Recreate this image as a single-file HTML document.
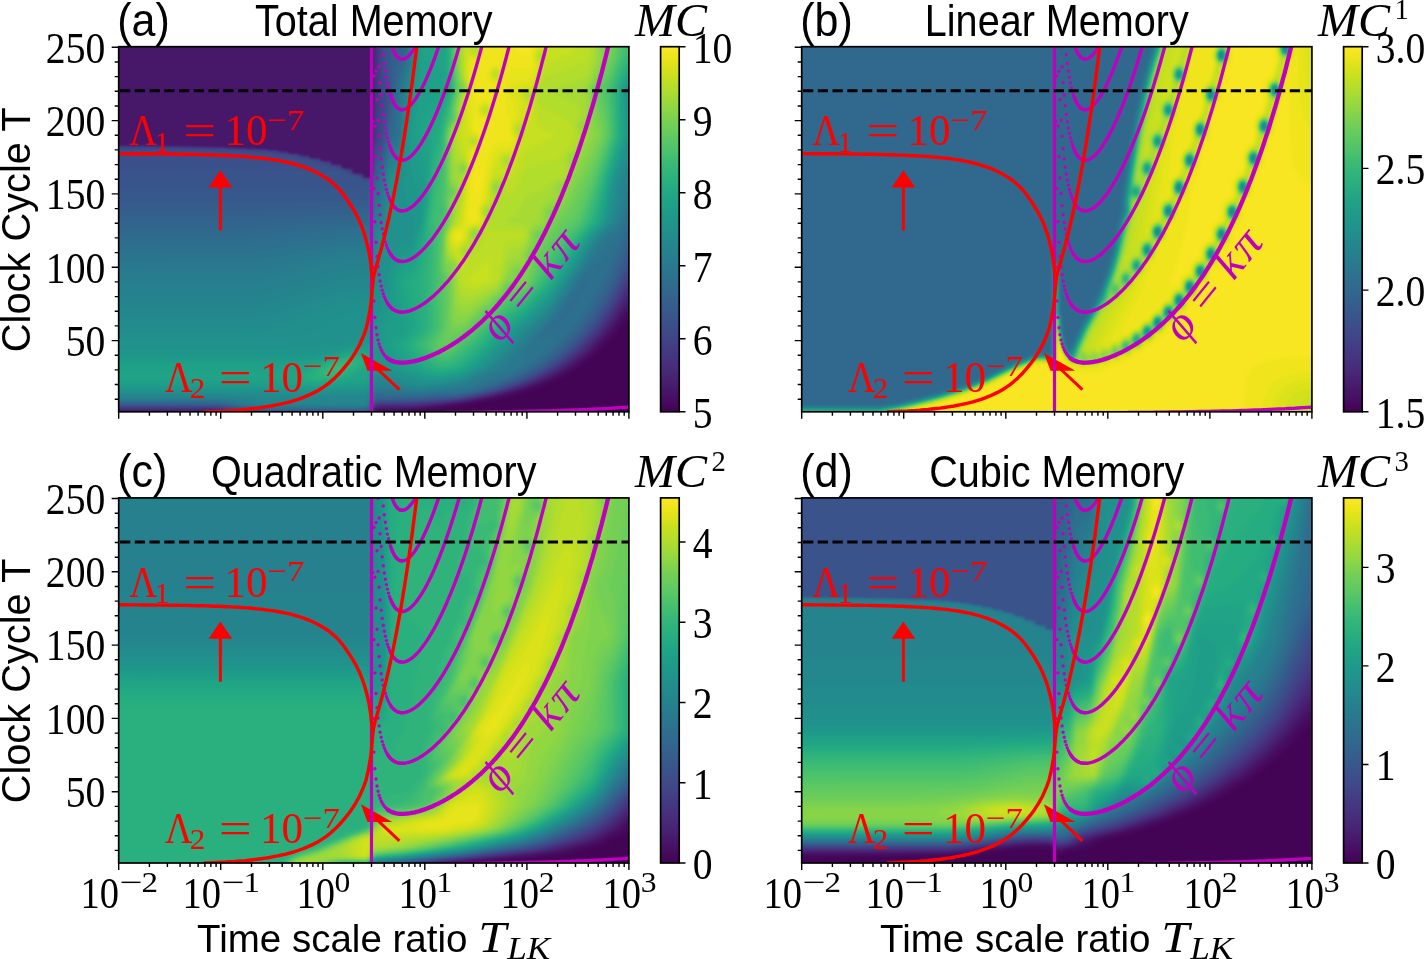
<!DOCTYPE html>
<html lang="en"><head><meta charset="utf-8"><title>Memory capacity maps</title>
<style>html,body{margin:0;padding:0;background:#fff}svg{display:block}</style></head><body>
<svg width="1425" height="959" viewBox="0 0 1425 959">
<defs><linearGradient id="vir" x1="0" y1="0" x2="0" y2="1"><stop offset="0.000" stop-color="#fde725"/><stop offset="0.042" stop-color="#e5e419"/><stop offset="0.083" stop-color="#c8e020"/><stop offset="0.125" stop-color="#addc30"/><stop offset="0.167" stop-color="#90d743"/><stop offset="0.208" stop-color="#75d054"/><stop offset="0.250" stop-color="#5ec962"/><stop offset="0.292" stop-color="#48c16e"/><stop offset="0.333" stop-color="#35b779"/><stop offset="0.375" stop-color="#28ae80"/><stop offset="0.417" stop-color="#20a486"/><stop offset="0.458" stop-color="#1f9a8a"/><stop offset="0.500" stop-color="#21918c"/><stop offset="0.542" stop-color="#24868e"/><stop offset="0.583" stop-color="#287c8e"/><stop offset="0.625" stop-color="#2c728e"/><stop offset="0.667" stop-color="#31688e"/><stop offset="0.708" stop-color="#365d8d"/><stop offset="0.750" stop-color="#3b528b"/><stop offset="0.792" stop-color="#404688"/><stop offset="0.833" stop-color="#443983"/><stop offset="0.875" stop-color="#472d7b"/><stop offset="0.917" stop-color="#481f70"/><stop offset="0.958" stop-color="#471063"/><stop offset="1.000" stop-color="#440154"/></linearGradient>
<clipPath id="axclip"><rect x="0" y="0" width="510.2" height="365.1"/></clipPath>
<filter id="hb" x="-4%" y="-5%" width="108%" height="110%" color-interpolation-filters="sRGB"><feGaussianBlur stdDeviation="2.2"/></filter>
<filter id="sb" x="-4%" y="-8%" width="108%" height="116%" color-interpolation-filters="sRGB"><feGaussianBlur stdDeviation="0.9"/></filter>
<filter id="cm" x="-4%" y="-5%" width="108%" height="110%" color-interpolation-filters="sRGB"><feComponentTransfer><feFuncR type="table" tableValues="0.267 0.277 0.282 0.283 0.279 0.271 0.259 0.245 0.230 0.214 0.199 0.186 0.173 0.161 0.149 0.138 0.128 0.121 0.121 0.132 0.158 0.197 0.246 0.304 0.369 0.440 0.516 0.596 0.678 0.762 0.846 0.926 0.993"/><feFuncG type="table" tableValues="0.005 0.050 0.095 0.136 0.175 0.214 0.252 0.288 0.322 0.356 0.388 0.419 0.449 0.479 0.508 0.537 0.567 0.596 0.626 0.655 0.684 0.712 0.739 0.765 0.789 0.811 0.831 0.849 0.864 0.876 0.887 0.897 0.906"/><feFuncB type="table" tableValues="0.329 0.376 0.417 0.453 0.483 0.507 0.525 0.537 0.546 0.551 0.555 0.557 0.558 0.558 0.557 0.555 0.551 0.544 0.533 0.520 0.502 0.479 0.452 0.420 0.383 0.341 0.294 0.243 0.190 0.137 0.100 0.104 0.144"/></feComponentTransfer></filter>
</defs>
<rect width="1425" height="959" fill="#fff"/>
<g transform="translate(118.7,46.7)">
<g clip-path="url(#axclip)">
<g filter="url(#cm)"><g filter="url(#hb)">
<rect x="-10" y="-10" width="530.2" height="385.1" fill="#020202"/><g transform="scale(.5)">
<path fill="#060606" d="M-20-20l1060 0 0 560-22 0-32 41-35 35-36 27-44 24-52 20-60 16-115 19-68 6 0 22-596 0z"/>
<path fill="#0a0a0a" d="M-20-20l1060 0 0 550-22 0-29 39-29 32-29 26-36 24-32 16-28 11-36 12-48 12-47 9-76 11-60 4-52 1-2 1 0 22-534 0z"/>
<path fill="#0e0e0e" d="M-20-20l1060 0 0 542-22 0-31 44-28 31-28 25-36 25-36 19-32 13-36 11-48 12-107 17-44 4-76 1-4 4 0 22-532 0z"/>
<path fill="#121212" d="M-20 189l102 1 155 3 64 4 32 4 10 3 22 3 8-1 2-2 0-224 665 0 0 535-22 0-39 54-17 20-19 19-21 17-22 16-25 15-24 11-28 11-36 12-36 9-40 8-87 12-52 3-56 1-4 2-2 3 0 22-313 0 0-22-217 0z"/>
<path fill="#161616" d="M1040-20l0 527-22 0-28 43-25 31-28 28-30 24-32 20-36 17-44 16-48 13-59 11-60 7-32 3-80 2-4 1-3 5 0 22-301 0 0-22-27-1-201 0 0-534 185 2 112 4 44 4 80 15 23 6 12 0 1-244z"/>
<path fill="#1a1a1a" d="M1040-20l0 521-22 0-29 45-25 31-29 31-32 25-36 22-36 17-40 14-48 12-43 9-64 8-40 4-80 1-4 2-4 6 0 22-292 0 0-22-31-2-205 0 0-532 225 3 96 5 48 7 60 13 39 12 33 14 14 4 3-56 2-21 2-82 5-83 0-30z"/>
<path fill="#1e1e1e" d="M1040-20l0 514-22 0-30 48-27 35-30 31-32 25-32 20-36 17-44 16-44 11-47 10-60 7-40 4-80 1-4 2-5 7 0 22-284 0 0-22-38-3-205 0 0-530 221 3 80 4 40 4 48 9 48 11 35 12 45 18 3-4 2-48 3-31 6-193z"/>
<path fill="#222222" d="M1040-20l0 508-22 0-31 50-27 35-30 32-35 28-32 20-36 17-44 16-44 11-47 9-56 7-40 4-80 1-4 1-6 9 0 22-276 0 0-22-49-4-201 0 0-528 205 3 88 3 44 4 48 9 48 11 35 12 43 18 9 1 5-61 3-23 6-193z"/>
<path fill="#262626" d="M1040-20l0 501-22 0-29 49-29 39-34 36-35 28-32 20-36 17-44 16-44 11-43 9-52 6-44 4-80 1-4 1-6 10 0 22-270 0 0-22-35-4-221 0 0-527 197 2 92 4 48 4 44 8 52 12 35 12 40 17 12 3 2-3 4-52 4-31 6-193z"/>
<path fill="#2a2a2a" d="M1040-20l0 495-22 0-29 51-29 40-33 35-36 30-36 22-36 17-44 16-44 11-43 9-44 5-48 4-80 1-4 1-7 11 0 22-263 0 0-22-37-4-24-1-201 0 0-525 189 2 96 4 48 3 48 9 52 12 31 10 42 18 14 4 4-4 3-48 5-35 7-193z"/>
<path fill="#2e2e2e" d="M1040-20l0 489-22 0-33 57-28 40-33 35-37 30-35 22-37 17-40 15-48 12-39 8-40 5-48 3-84 2-4 1-8 12 0 22-256 0 0-22-43-5-24-1-201 0 0-523 169 1 108 4 56 4 44 8 52 11 35 12 40 17 16 5 3-1 2-4 3-44 7-39 6-193z"/>
<path fill="#323232" d="M1040-20l0 483-22 0-33 59-30 42-35 37-39 32-33 20-33 16-44 16-45 11-41 8-33 4-52 5-84 1-4 1-9 13 0 22-250 0 0-22-44-5-24-2-205 0 0-522 129 1 120 4 79 4 48 8 52 12 36 12 40 17 16 5 4-1 2-5 3-44 9-39 5-193z"/>
<path fill="#363636" d="M1040-20l0 476-22 0-31 58-30 44-36 39-38 32-32 20-40 20-44 16-45 11-42 8-80 7-84 2-4 1-10 14 0 22-243 0 0-22-50-6-24-1-205 0 0-521 247 4 71 4 53 8 54 12 37 12 42 18 16 5 4-1 2-2 6-56 10-31 2-193z"/>
<path fill="#3a3a3a" d="M1040-20l0 470-22 0-32 60-31 46-18 21-19 20-38 32-32 20-40 20-45 16-45 11-34 7-84 7-84 2-4 1-11 15 0 22-235 0 0-22-57-6-28-2-201 0 0-518 199 2 99 4 42 4 45 8 49 12 36 12 30 14 20 7 4-1 3-4 5-47 4-14 9-18 2-8 5-84-5-35-1-74z"/>
<path fill="#3e3e3e" d="M1040-20l0 463-22 0-35 67-32 47-37 40-38 32-31 20-41 20-45 16-45 11-42 8-68 5-88 2-4 1-12 16 0 22-226 0 0-22-89-9-205 0 0-515 110 0 151 4 65 4 50 8 53 12 36 12 31 14 24 8 4-1 4-5 4-38 4-14 12-23 2-8 6-88-7-55-1-54z"/>
<path fill="#424242" d="M1040-20l0 456-22 0-35 69-32 47-36 41-22 20-21 16-31 20-41 20-45 16-46 11-37 7-68 5-92 3-9 13-5 4 0 22-212 0 0-22-85-9-221-1 0-474 445 0 20 4 47 18 8 2 4-1 5-7 3-29 4-14 12-22 4-19 7-91-8-63-1-42z"/>
<path fill="#464646" d="M1040-20l0 447-22 0-35 71-32 49-20 25-20 21-22 20-21 16-32 20-32 16-30 12-38 12-32 7-32 6-72 5-84 2-4 1-10 14-6 4-203 0-108-11-205 0 0-434 512 0 4-1 5-10 7-8 4-24 4-14 12-21 5-24 8-96-2-39-6-36 0-30z"/>
<path fill="#4a4a4a" d="M1040-20l0 437-22 0-35 73-17 28-19 28-18 23-22 24-23 20-21 16-31 20-32 16-31 12-38 12-32 7-27 5-72 5-84 1-4 1-10 16-6 3-203 0-108-10-205-1 0-404 289 0 227-4 4-7 5-29 5-8 6-29 12-21 7-33 9-92 1-109z"/>
<path fill="#4e4e4e" d="M1040-20l0 426-22 0-35 76-17 28-19 30-20 26-22 23-21 20-26 20-32 20-32 16-30 12-38 12-33 7-25 4-40 1-31 3-81 1-4 2-11 17-5 2-199 0-35-2-73-8-209-1 0-384 281 0 235-8 5-8 6-43 4-8 5-20 12-20 4-18 13-101 4-63 4-16 10-16 1-30z"/>
<path fill="#525252" d="M1040-20l0 413-22 0-39 87-16 28-20 30-20 26-23 25-22 20-25 20-32 20-33 16-30 12-38 12-32 7-16 2-40 1-60 5-56-1-4 2-4 5-8 14-4 2-199 0-36-3-72-9-209 0 0-366 281-1 148-9 87-4 4-4 4-17 6-41 6-19 8-10 4-9 11-57 6-48 8-75 5-20 10-16 3-8 0-30z"/>
<path fill="#565656" d="M1040-20l0 399-22 0-39 89-16 30-20 32-21 28-24 27-26 24-25 20-32 20-33 16-30 12-38 12-22 5-20 3-36 0-32 3-32 1-56 0-4 1-12 21-4 2-199 0-44-3-64-9-209 0 0-349 281 0 148-14 87-4 4-5 4-14 8-55 4-10 8-9 4-9 8-46 11-49 8-84 5-21 14-30 1-34z"/>
<path fill="#5a5a5a" d="M1040-20l0 383-22 0-39 91-24 45-20 31-20 28-28 31-21 20-26 20-32 20-33 16-30 12-38 12-27 5-40 0-36 4-36 1-52-2-4 2-4 6-6 15-6 4-199 0-51-4-37-6-20-2-209 0 0-331 281 0 40-4 112-15 83-6 4-4 4-13 10-59 2-6 8-11 4-9 12-66 10-15 2-24 3-68 7-27 14-37 1-37z"/>
<path fill="#5e5e5e" d="M1040-20l0 369-22 0-39 86-32 59-20 33-40 54-10 12-23 20-26 20-26 16-43 20-33 12-38 10-16 2-28-1-44 4-32 0-52-2-4 2-4 6-7 18-5 3-199 0-44-3-40-7-24-2-209-1 0-313 281-1 40-4 116-18 79-7 4-4 4-13 8-48 4-14 8-13 4-11 12-68 4-7 11-8 2-4 1-92 4-20 14-38 3-13 1-34zM942 462l-3-2-4 1-8 7-31 50-40 48-2 3 1 5 12-2 12-6 32-40 13-20 16-28 3-8z"/>
<path fill="#626262" d="M1040-20l0 356-22 0-14 31-31 44-10 13-28 26-15 20-30 48-22 28-21 23-9 16 0 4 1 2 28-8 4 0 1 2-1 4-7 8-13 12-36 28-20 12-35 16-42 16-30 8-36 0-52 5-84-3-4 1-3 4-8 24-5 2-199 1-36-3-48-9-20-2-213 0 0-297 285 0 44-6 112-21 75-6 4-5 4-13 8-44 4-14 8-15 4-11 12-72 4-8 12-9 4-8 0-91 4-18 16-51 1-40z"/>
<path fill="#666666" d="M1040-20l0 343-22 0-10 28-6 10-8 9-15 9-15 24-29 39-50 76-22 28-19 20-17 23-20 24-2 4 1 4 10 4-6 8-9 8-16 8-68 28-25 8-32 1-56 6-36-1-36-4-16 0-4 2-4 6-8 24-4 3-207-1-28-2-48-10-24-1-209-1 0-278 285-1 48-7 112-23 31-4 40-3 4-5 16-69 12-26 12-78 4-7 12-9 4-7 3-17 0-84 17-60 2-19 1-30z"/>
<path fill="#6a6a6a" d="M1040-20l0 329-22 0-17 46-7 8-22 16-91 139-19 24-23 24-20 25-32 34-5 8-1 8-7 4-36 12-27 12-19 11-8 2-80 7-36-1-36-4-16 0-4 1-4 7-7 24-5 5-211-1-32-4-36-8-24-2-213 0 0-258 285-1 44-7 119-29 32-5 36-2 4-4 16-68 12-28 8-62 4-20 4-8 12-8 4-6 5-27 1-84 14-51 4-28 0-30z"/>
<path fill="#6e6e6e" d="M1040-20l0 310-22 0-4 9-13 48-4 8-30 24-73 115-29 40-31 32-27 31-43 44-72 33-16 5-36 5-36 3-36-2-36-5-16-1-4 3-7 14-5 20-4 4-199 0-34-4-38-10-28-2-217 0 0-234 285-1 44-8 108-31 39-7 40-4 4-3 4-13 8-45 17-43 3-20 3-35 5-30 4-7 12-8 4-5 4-17 2-16 3-88 13-51 3-24 0-34z"/>
<path fill="#727272" d="M1040-20l0 285-22 0-2 3-21 83-4 5-28 23-39 63-54 80-11 14-30 30-44 47-29 28-68 31-40 9-48 4-32-3-36-7-16-1-4 3-9 19-3 17-4 5-203 0-19-2-33-11-36-3-225 0 0-208 265 0 24-1 44-10 115-36 32-7 36-3 4-3 5-15 7-50 16-37 5-28 3-40 4-25 4-8 12-7 4-5 4-14 3-28 4-84 9-35 4-24 2-24 0-30z"/>
<path fill="#767676" d="M1040-20l0 270-22 0-4 4-7 14-10 55-7 28-31 28-36 60-53 79-15 17-32 31-44 47-30 28-61 28-20 6-28 5-32 2-27-1-21-4-28-8-16-2-4 3-8 20-6 10 0 12-2 4-4 1-199-1-20-4-4-4 0-4-36-4-253-1 0-181 265 0 24-2 24-4 28-7 115-39 28-5 32-4 4-2 4-9 3-15 7-56 14-30 4-14 5-63 3-21 4-7 12-7 4-4 5-17 4-31 5-88 7-31 5-32 2-50z"/>
<path fill="#7a7a7a" d="M1040-20l0 255-22 0-4 4-8 15-4 14-10 59-6 24-30 28-33 55-52 77-16 20-38 35-44 47-30 28-59 27-32 8-44 4-20-3-20-4-36-10-16-3-4 3-7 22-5 9-4 3-151 3-124-3-241 0 0-155 265 0 24-1 44-10 123-41 28-6 32-3 4-2 4-7 6-22 8-71 12-24 3-12 3-24 2-51 2-12 4-8 16-9 6-19 4-28 6-95 7-35 4-28 2-54zM296 712l5-4 36-1 72 3 79 1 5 1z"/>
<path fill="#7e7e7e" d="M1040-20l0 239-22 0-8 14-12 35-10 59-6 24-29 28-34 57-56 81-24 24-32 28-44 48-27 24-52 24-32 8-24 3-20 0-12-2-64-17-16-3-4 2-7 25-5 10-4 3-143 2-88-2-285 0 0-128 265 0 40-2 24-4 22-6 57-24 40-14 36-8 36-4 4-3 10-31 4-16 7-75 10-20 2-8 3-86 4-8 17-9 4-8 3-14 8-105 4-32 5-27 4-32 1-50z"/>
<path fill="#818181" d="M1040-20l0 224-22 0-4 7-19 57-16 83-29 28-31 52-56 81-24 24-38 33-38 42-33 30-30 15-20 8-28 6-24 3-16 0-12-2-84-24-4 2-8 29-4 9-4 3-139 3-84-2-293 0 0-105 277 0 40-1 40-3 32-6 22-7 16-7 23-16 22-10 29-6 23 0 4-4 21-56 3-70 3-17 1-4 7-4 3-4-2-103 4-4 12-6 4-4 6-18 6-90 14-108 2-58z"/>
<path fill="#858585" d="M1040-20l0 104-22 0-2 9 2 24 22 0 0 73-22 0-27 78-16 83-29 28-27 47-56 81-27 27-37 32-44 46-32 29-23 12-24 10-28 5-24 1-16-1-74-23-10-4-8-6-4 3-4 12-4 22-4 11-4 4-135 3-84-3-297 0 0-84 289 0 128-2 36-4 64-16 7-3 4-9 9-31 15-44 4-20 4-39 5-20 7-12 8-7 8-4 16-4 4-7 1-6 0-24-15-36-10-43 7-16 2-12 3-74 15-116 3-40 0-34z"/>
<path fill="#898989" d="M1040-20l0 99-22 0-4 6-1 8 1 27 4 26 22 0 0 34-22 0-4 9-26 79-16 83-29 28-24 42-56 81-28 28-42 36-40 43-36 32-22 12-23 8-36 5-24-2-20-5-47-18-9-8-20-27-4-1-9 64-3 9-4 4-52 1-79 4-80-4-305 0 0-67 401 0 32-4 79-20 8-1 8 2 4-2 11-37 14-40 8-60 6-23 6-12 7-9 4-3 12-4 5-4 3-5 7-27 6-12 2-8 1-24-4-22-17-45-3-14-2-50 1-31 7-40 8-79 3-32 0-30z"/>
<path fill="#8d8d8d" d="M1040-20l0 93-22 0-6 12-1 20 4 72-30 91-15 79-5 8-22 21-20 33-52 78-8 10-24 24-28 26-24 19-49 51-27 24-14 8-25 9-32 5-12-1-16-2-16-5-25-10-13-8-12-12-11-16-7-12 0-8 3-23 1-4 9-8 4-12 2-24 2-48 4-20 11-23 8-8 12-6 4-6 8-32 8-18 2-10 3-32 2-47-23-50-4-13-3-24 8-48 11-119 0-34zM507 609l-1 24-4 32-2 8-4 4-48 2-75 5-84-6-309 0 0-53 393 0 28-4 67-18 28-6 4 1 4 3z"/>
<path fill="#919191" d="M1040-20l0 87-22 0-9 18 0 16 3 76-29 91-18 83-24 24-66 102-12 15-51 50-31 24-37 39-39 36-25 12-44 7-28-6-31-13-29-32-5-8-1-8 6-10 8-5 12-5 6-7-2-11-10-25-3-12-4-48 5-17 7-14 5-5 12-8 5-7 11-44 7-20 5-40 4-47 0-29-16-35-9-27 9-79 3-13 0-105zM504 613l0 16-4 35-4 7-40 2-55 7-24 1-20-1-36-7-24-1-317 0 0-38 369-1 40-4 75-21 24-5 8-1 4 2z"/>
<path fill="#959595" d="M1040-20l0 82-22 0-4 5-7 18-1 8 3 84-29 91-18 83-24 24-15 24-36 51-14 24-10 13-52 51-36 28-33 35-43 40-19 9-40 6-28-5-23-10-12-12-21-27-2-5 2-5 16-13 11-13-5-24-13-44-4-28 7-18 16-13 6-8 5-16 7-36 8-28 6-46 4-73-2-24-12-31 2-12 7-24 9-21 10-15 16-16 2-4-4-39-4-10-12-10-20-7-2-9 0-30zM502 617l-1 16-5 28-4 2-95 14-32 0-36-11-28-4-321 0 0-9 341-2 28-5 99-31 28-6 20-1 4 3z"/>
<path fill="#999999" d="M1040-20l0 75-22 0-6 10-8 20-1 8 3 84-29 91-14 67-4 16-24 24-48 71-16 27-8 9-52 51-40 30-34 38-44 40-13 6-40 6-21-4-18-8-17-16-18-28 2-4 21-24 3-7-8-36-16-48-1-8 5-8 16-14 5-9 5-20 13-60 6-51 8-100 0-16-4-15 0-4 10-24 13-22 6-18 10-20-4-39 0-70zM498 617l0 12-2 9-2 3-18 14-16 7-35 8-36 4-20-1-11-4-5-4-1-4 4-4 12-8 25-12 28-10 35-11 20-4 16 0 4 2z"/>
<path fill="#9d9d9d" d="M1040-20l0 69-22 0-7 13-9 23 1 92-27 87-13 61-8 26-23 24-69 102-52 52-28 19-16 13-36 40-39 36-12 7-36 6-16-3-16-6-12-10-10-10-12-16-3-8 4-8 18-20 4-7-9-44-12-44 0-4 13-16 8-23 12-72 7-55 6-76 5-36 4-15 5-12 13-48 9-28-4-55 0-54zM493 621l1 4-2 6-8 10-16 11-20 9-23 6-28 4-20-2-9-4-1-4 3-4 11-8 21-12 21-8 29-9 20-4 12 0 4 1z"/>
<path fill="#a1a1a1" d="M1040-20l0 62-22 0-8 13-11 30 1 92-27 87-14 62-8 25-23 24-39 56-29 43-49 50-28 19-16 13-42 45-37 34-11 6-33 6-10-2-14-6-13-10-11-11-10-13-4-8 5-8 18-20 3-7 0-22-13-70 8-20 6-35 5-40 8-75 1-32 5-36 4-19 8-21 12-63 12-40-4-59 0-50zM485 625l-1 8-8 8-20 12-20 8-19 5-20 1-15-2-3-4 6-8 11-8 14-8 21-8 21-6 16-3 12 1z"/>
<path fill="#a5a5a5" d="M1040-20l0 55-22 0-8 15-14 35 1 92-27 91-15 59-9 24-24 28-35 48-28 43-48 49-40 27-23 23-25 28-39 34-16 8-20 4-8-1-13-5-20-16-13-16-4-8 1-4 21-23 3-8 1-16-7-76 4-28 6-63-1-32 10-94 16-56 2-24 3-20 17-64-4-67 0-42zM477 629l-1 4-8 8-16 9-15 7-14 4-14 2-8 0-9-2 0-4 6-8 12-8 17-8 33-9 12 1z"/>
<path fill="#a9a9a9" d="M1040-20l0 48-22 0-14 26-12 31 3 92-27 87-17 63-9 24-21 24-30 40-37 55-43 45-40 25-26 26-26 28-35 30-17 9-15 5-8 1-12-6-20-16-13-16-2-4 2-4 19-24 3-7 1-20-3-28 0-44 4-95-2-28 6-47 2-32 11-38 7-34 3-35 17-72-4-71 1-38zM467 633l-2 4-12 8-21 9-19 4-6-1-2-4 3-4 11-8 18-8 19-4 6 0z"/>
<path fill="#adadad" d="M1040-20l0 40-22 0-4 4-12 24-13 37 3 92-43 142-11 32-53 64-18 25-18 30-38 40-24 14-16 11-52 52-35 30-20 12-12 5-8-1-8-4-20-15-10-13-1-4 1-4 18-24 2-7 2-24-4-28 2-24-1-16 3-39-1-36 2-28-1-8-4-8 0-7 10-76 6-20 9-52 1-27 19-80-4-71 0-38zM452 637l-3 4-8 4-17 4 0-4 6-4 10-4 8-1z"/>
<path fill="#b1b1b1" d="M1040-20l0 30-22 0-16 29-16 46 4 92-44 138-13 36-55 64-15 21-19 34-29 32-8 6-20 10-16 11-56 55-43 35-12 7-8 2-16-5-20-18-5-8 2-4 17-24 2-7 1-24-3-32 1-20-2-16 4-47 0-40 2-20-4-20 4-16 1-19 15-112 0-23 9-36 10-48-4-71 1-38z"/>
<path fill="#b5b5b5" d="M1011-20l0 30-13 29-17 50 6 68 0 21-44 136-14 37-54 59-16 23-20 37-24 28-8 5-20 10-16 10-20 21-39 37-44 35-8 5-8 2-16-6-16-15-2-5 1-4 17-24 2-7 1-32-4-28 2-119 5-36 6-6 4-10 0-5-5-11-2-7 4-88 4-24-1-19 4-20 7-16 1-16 7-36-4-71 2-38z"/>
<path fill="#b9b9b9" d="M1006-20l-2 34-28 75 5 32 3 56-41 125-19 49-9 11-24 20-20 23-16 26-21 39-19 23-8 6-20 8-16 9-16 19-31 27-13 13-46 38-9 4-16-3-16-17 1-4 17-24 2-7 0-36-4-32 0-16 5-12-4-12-1-8 1-63 2-12 11-40-3-23 2-40-1-48 2-24-1-19 6-24 7-12-1-16 8-40-4-67 1-38z"/>
<path fill="#bdbdbd" d="M1001-20l-1 34-13 38-17 37 7 36 4 52-38 112-24 62-28 22-20 22-27 44-14 31-15 18-4 4-28 11-12 7-20 23-4 3-8 2-12 14-12 3-2 11-5 6-29 21-15 16-8 2-16-4-10-10 1-4 16-24 2-11 1-36-5-36 1-8 5-8 0-4-6-12-2-8 3-71 7-24 3-20-3-23 2-40-1-48 2-24-1-19 5-21 8-11 1-4-2-16 7-40-4-67 2-16 0-22z"/>
<path fill="#c1c1c1" d="M997-20l-1 34-13 36-20 39 11 48 3 40-26 77-28 72-8 16-7 9-25 19-16 19-28 48-13 33-11 14-8 4-28 10-12 9-8 4-4 11-4 5-4 2-12-1-3 2-4 12-3 4-14 4-5 16-2 2-12 3-8 12-12 3-3 11-5 6-4 2-20-6-2-2 0-4 14-27 3-44-4-36 4-20-8-16-1-19 3-56 6-24 3-20-2-23 2-20-2-111 5-20 9-12 1-4-2-16 7-40-5-67 2-16 0-22z"/>
<path fill="#c5c5c5" d="M993-20l0 30-2 9-12 28-17 30-6 8-2 4 5 12 12 41 3 35-23 64-36 79-18 27-18 16-8 10-29 46-7 13-11 34-5 9-8 7-20 5-5-1-7-6-4 1-2 13-6 8-12 4-3 4-3 12-6 2-8 0-4 2-3 4-5 9-4 3-8 3-3 3-6 14-14 6-8 9-12 3-5 5 0 8-3 4-4-2-5-6-1-4 7-23 2-48-1-28 1-16-2-8-7-12-2-8 1-47 1-20 8-28 1-16-1-19 2-17 4-3 4 1 1-1-1-5-4 4-4-6-2-9 1-80-2-19 6-20 9-11 1-5-3-16 8-44-5-63 2-16 0-22z"/>
<path fill="#c9c9c9" d="M989-20l0 30-2 9-28 54-11 12-1 4 7 12 5 24 8 26 3 26-15 41-44 89-18 28-18 21-44 63-11 47-5 8-8 4-12 3-8-1-8-5-4 1-4 6-1 8-3 6-16 9-6 13-14 4-4 3-8 12-11 7-8 13-4 3-8 3-12 8-12 2-2-4-1-11 2-48-1-40-2-9-8-13-2-6 0-35 3-36 7-24 1-16-1-27 4-6 5-2 4-4-1-6-4-2-4-1-4-7-1-99 5-19 10-13-2-24 5-28 5-12-5-16-3-47 2-16 0-22zM822 415l1 4 6 0-2-1-1-3-3-1zM839 373l-2 2-1 4 3 4 4 1 4-5-1-4-3-2z"/>
<path fill="#cdcdcd" d="M984-20l-1 35-20 39-7 15-9 11-3 5 0 4 7 16 4 30 11 42-15 34-54 104-10 15-12 14-16 24-4 4-12-4-4 0-4 3-3 4 0 4 4 16-4 8-9 4-4 3-2 5 0 4 6 12 0 4-8 31-3 4-17 5-16-4-4 1-5 6-6 16-14 8-8 12-15 8-10 12-12 8-9 13-20 7-5 0-4-4-2-12 0-76-3-12-9-19-2-32 2-32 9-28 0-39 2-6 8-5 3-5-2-8-9-4-3-8-1-95 4-16 11-16-1-24 6-30 9-10 0-4-6-4-4-8-3-51 2-12 0-22 290 0 0 22 3 5 2-5 0-22zM795 447l-2 3 1 4 5 3 3-3 0-4-3-4zM863 329l-3 2 3 5 3-1 1-4z"/>
<path fill="#d1d1d1" d="M963-20l1 26 3 6 5 6 0 4-20 47-9 12-1 4 1 8 4 12 4 42 8 30-63 127-9 14-8 9-4 1-12-5-4 2-4 6 1 4 6 12-2 8-7 8-14 2-9 6-2 8-1 16-11 16-2 4 4 20-3 10-4 5-9-8-3-1-5 1-4 4-1 4 1 12-1 4-10 1-4 2-5 5-6 16-4 4-13 7-8 9-16 10-31 31-8 0-8-1-4-4-3-8-1-68-3-16 6-15-3-5-12 1-3-8-1-20 2-32 9-28 2-39 10-12 2-4-2-8-3-4-8-4-1-4-1-95 4-16 10-16-1-20 5-28 4-7 8-9-1-4-8-8-3-7-2-48 1-12 0-22zM688 239l-3 5 3 5 4-2 0-3 0-5z"/>
<path fill="#d5d5d5" d="M960-20l1 26 4 12-1 8-14 39-10 16-1 4 5 20 1 48 5 24-31 61-32 69-8 9-4 2-12 1-8 4-3 8 3 16-3 8-6 4-15 6-4 5-4 25-11 20 1 16-2 7-4 1-8-2-8 2-6 7-5 12-9 11-11 21-13 7-12 11-12 7-27 23-4 2-12-3-4-3-2-4-2-12-2-48-1-16 4-15-1-5-4-3-8-1-4-3-2-24 1-28 10-28 2-35 1-4 8-9 2-7 0-8-3-4-9-8-2-8-1-87 5-16 10-16-1-20 5-28 2-4 8-8 1-4-1-6-8-9-2-4-3-48 2-34zM711 370l-2 5 2 2 5-2 0-4zM751 279l0 5 4 2 4-2 0-4-4-4zM883 279l-2 1-1 4 3 2 4-2-2-4zM688 236l-5 4-1 4 2 5 4 3 4-2 2-6-2-7z"/>
<path fill="#d9d9d9" d="M958-20l0 26 2 16-14 43-10 20 4 24-1 38-4 7-8-2-5 5 1 6 4 2 8-2 4 2 3 12-21 39-2 3-12-1-5 2-1 4 1 4 7 8 0 4-10 32-4 4-4 0-8-3-6 3-2 8 5 12 0 4-8 8-17 10-4 5-3 8 0 12-2 8-4 4-11 5-6 7-6 28-9 16-3 16-3 4-13 2-8 6-24 47-63 41-4 0-12-6-5-11-3-52 4-19-4-8-12-6-4-8-1-14 1-28 4-12 7-12 3-39 8-12 3-8-2-12-12-16-2-83 3-15 11-21 0-24 5-23 8-10 2-7-2-8-6-8-2-7-2-44 1-34zM711 367l-3 3-2 5 2 4 3 2 6-2 2-4-1-4-3-3zM755 274l-4 1-2 5 2 8 4 2 4-2 2-8-2-4zM688 233l-5 3-3 8 2 8 6 3 4-3 3-8-2-8z"/>
<path fill="#dddddd" d="M955-20l-1 42-11 41-11 18-2 8 5 16-1 32-3 8-8 3-4 5-1 4 1 8 4 4 8 5 1 3 0 4-15 27-14 7-5 5 0 8 4 8 1 8-8 24-4 2-12 0-7 6-5 18-16 18-6 11-6 23-4 4-8 3-4 6-4 25-4 13-16 21-16 7-4 5-12 36-8 15-6 5-53 28-4 0-12-5-4-5-3-18-2-28 2-16 0-7-5-7-13-9-3-12 0-16 2-20 11-20 4-36 10-23 0-8-3-20 1-4 7-2 4-3 4-11-1-8-3-4-4-1-10 5-2 4-4 1-4-29 0-39 13-28 0-20 4-24 10-20-1-8-6-8-2-7-2-44 1-34zM708 367l-4 8 4 7 3 2 8-3 3-6-3-6-4-3-4-1zM735 324l-3 3 0 4 3 5 4 0 4-5 0-4-4-3zM755 271l-4 1-2 4-2 8 4 7 4 1 4-1 3-3 2-8-5-8zM775 224l-2 4 2 3 4-3zM692 404l-3 3 2 4 5 0 2-4-2-4z"/>
<path fill="#e1e1e1" d="M950-20l-1 38-10 35-4 6-8 5-54 21-3 4 4 4 41 22 4 6 3 12 0 4-6 12-2 8 1 8 7 12 0 4-12 23-11 9-5 7-1 8 3 8 1 8-6 19-16 2-32 23-24 7-4 3-13 25-7 10-22 14-1 4 43 10 2 6 1 8-3 13-4 8-8 5-20 6-4 5-7 19-8 35-5 9-8 7-40 16-11 3-16-7-4-12-2-24 2-16-1-7-3-6-11-10-5-8-3-28 3-14 10-14 3-8 5-32 7-23 3-28 8-14 1-6-1-8-4-7-4-1-8 1-4-3-4-18-2-27 2-11 10-25 1-20 4-24 10-20-2-8-7-15-1-78zM708 365l-4 5-2 5 2 8 4 5 3 0 8-2 7-7-2-8-3-4-6-3-4-1zM711 2l-2 4 2 5 3-1 1-4zM735 321l-4 3-1 7 1 4 4 4 8 2 5-6 0-8-5-6zM755 268l-4 1-4 5-1 10 2 8 3 3 4 1 8-4 4-8-1-8-7-7zM755 53l-1 1 1 4zM775 221l-4 3-1 4 1 4 4 3 4-1 3-6-3-5zM799 160l-4 5 1 4 3 2 4-1 1-5-1-3zM819 90l-4 2-1 5 1 3 4 2 5-5-1-4zM688 403l-2 4 1 4 5 4 7 0 3-4 1-8-3-3-8 0zM711 186l-2 3 2 2 2-2z"/>
<path fill="#e5e5e5" d="M944-20l-1 34-4 12-4 5-80 32-12 12-6 14 0 12 2 10 4 7 56 29 6 6 8 24-6 17-4 7-13 11-7 12-4 3-24 7-32 6-8 4-6 12-10 26-4 8-4 3-12 3-4 0-4-20-8-9-8-2-4 1-4 5-3 13 1 8 5 12 0 4-7 7-12 6-3 6 1 8 9 12 3 16 6 3 64 4 2 5-2 9-4 2-24 3-8 7-6 19-9 51-5 7-40 15-11 0-16-6-5-8-2-16 0-23-4-8-7-8-8-12-2-7-2-17 2-11 16-21 11-55 4-32 8-20-2-8-5-11-8-5-4-7-6-32 1-8 10-28 4-44 9-20-1-8-7-15-1-78 18 0 0 30 4 4 6-4-1-30zM707 185l-2 4 1 3 5 2 4-2 1-3-2-4-3-2zM731 122l-2 3 0 4 2 2 4 0 2-2 1-4-3-3zM755 50l-5 4 1 5 4 1 4-2 0-4zM775 219l-4 2-3 7 3 8 4 2 6-2 3-8-1-4-3-4zM799 157l-4 4-1 8 5 6 4 0 4-6 0-4-4-7zM815 89l-3 4 1 8 2 3 4 1 4-1 5-7-1-4-4-4-4-1zM839 14l-1 4 1 4 4 2 4-1 2-5-2-4-4-2zM715 362l-7 1-5 4-2 8 0 16-3 4-10 5-4 7 2 8 14 7 4-1 11-14 8-6 10-22 0-4-2-4z"/>
<path fill="#e9e9e9" d="M913-20l0 26-2 4-13 8-31 12-12 4-4 6-20 48-4 0-8-3-4 1-6 7 1 8 5 6 4 1 8-2 4 2 4 44 3 5 29 16 4 4-3 4-7 4-38 16-8 5-8 11-12 33-4 6-4 2-8 2-24-2-4 2-4 6-5 14 2 20-2 8-1 4-10 7-5 8 2 8 6 12-2 12-5 4-16-3-6 3-5 8-3 20-11 8-5 8 0 8 3 3 8 6 2 7-2 18-4 2-3-16-3-8-10-12-8-14-4-14-1-8 5-10 13-14 4-8 8-47 4-36 7-20-1-8-5-12-4-16-9-19-2-12 8-28 4-48 8-20-1-8-6-15 0-78 13 0-1 30 3 4 4 2 4-1 4-5-1-30zM703 185l-2 4 2 3 5 4 4 0 5-4 1-3-3-6-4-2-3 0zM731 119l-4 4 0 6 4 5 4 0 4-5 1-4-5-6zM755 48l-4 1-3 5 0 4 3 4 4 1 4-3 2-6-2-4zM775 217l-7 3-3 8 2 9 4 4 4 2 4-1 7-6 1-8-3-8-5-3zM799 155l-7 6 0 8 3 6 8 4 4-2 3-4 1-8-4-8-4-3zM839 11l-4 7 1 4 7 6 8 2 3-4 0-8-1-4-6-4-4-1zM736 423l3 2 4 14 2 27-3 4-23 8-8-1-9-3-5-4 0-4z"/>
<path fill="#ededed" d="M698-20l2 0 0 26-2-4zM853-20l0 22-14 6-5 6 0 8 9 12 1 4-13 43-4 3-12-1-4 2-4 8 0 8 4 8 4 3 10 1 2 4-4 33-4 6-12-6-4 0-8 4-4 5-1 10 11 16 1 4-7 29-4 4-12-8-4 0-4 1-6 5-4 8-2 12-8 8-9 24-4 36-12 15-1 8 6 16-2 8-6 4-12 0-9 4-4 8-3 16-3 4-9 8-7 11-4-4-8-15-3-12 3-7 17-17 4-8 9-83 7-20-5-24 1-20 3-4 8 3 7-2 4-5 1-3-1-4-3-4-5-2-7 0-8 3-4-1-4-4 5-72 7-24-6-23 2-44 4-8 0 4 8 7 3 1 4-1 4-3 2-8-1-26zM731 117l-5 4-1 8 2 4 4 3 4 0 5-3 2-8-3-5-4-3zM755 46l-4 0-5 8 2 8 3 2 4 1 6-3 2-8-4-7z"/>
<path fill="#f1f1f1" d="M844-20l0 22-10 8-2 8 7 20-8 31-4 9-12 1-4 2-5 4-4 8 4 24-4 24-2 4-10 12-2 8 1 8 5 8 2 8-4 19-5 5-12-3-8 3-8 7-8 11-12 45-3 28-4 8-6 7-3 8 4 24-4 5-15 1-9 6-4 8-4 16-15 14-6-6-7-16 5-8 16-13 5-7 7-83 7-24-4-20 1-17 4-5 11-2 4-4 3-7-3-8-4-3-13-5-6-25-1-43 7-24-5-23 0-28 3-11 4-1 7 3 4-1 7-6 1-8 0-26zM731 115l-4 2-3 4-1 8 4 7 4 2 4 0 7-5 1-8-4-8-4-2zM755 43l-4 1-4 3-3 7 0 4 3 6 4 3 4 0 4-1 4-4 2-8-5-8z"/>
<path fill="#f5f5f5" d="M838-20l0 22-6 8-3 8 6 20-8 25-4 5-16 3-20 7-5 7 1 12 8 8 4 20 0 16-8 16-2 8 7 20-2 11-3 7-3 1-25 3-4 1-4 5-8 23-11 68-10 19-1 8 3 12-1 8-4 3-11 1-12 5-3-5 5-83 2-11 5-17-3-20 2-16 4-3 11-5 3-4 2-7-2-8-7-6-5-2-4-4-7-60 0-12 6-16-6-23 3-32 2-3 11 0 4-2 5-7 2-8-1-26zM731 112l-8 5-2 4 0 8 1 4 5 6 8 2 4-2 4-4 3-10-3-7-4-4zM755 41l-8 2-5 11 0 4 3 7 6 4 4 1 8-5 3-3 1-8-4-9zM688 364l3 3-2 16-9 10-4 1-8-11-1-4 1-4 12-10z"/>
<path fill="#f9f9f9" d="M834-20l0 22-5 8-3 8 3 16-2 7-4 2-36 1-4 2-6 12-4 27 1 28 2 20 7 16-2 16 5 16 0 4-3 4-28 1-4 2-5 8-8 28-12 76-8 23 2 20-5 4-15 1-1-9 4-75 5-24-1-28 4-8 12-8 3-4 1-7-1-8-3-4-10-8-2-4 0-28 2-12-4-28 2-20-6-19 2-24 12-6 9-10 2-8 0-30zM751 36l-9 6-4 8-1 8 3 7 7 8 8 1 8-3 5-6 3-3 0-8-3-8-5-6-8-4zM727 108l-10 9-1 8 1 8 6 8 4 3 12 0 4-3 6-8 0-12-4-8-6-4-4-2zM680 370l4 1 2 4 0 4-6 8-4-1-4-7 1-4z"/>
<path fill="#fdfdfd" d="M798-20l29 0 0 22-8 13-8 0-12-5-1-4zM719 236l2 32-2 14-4 15-1-13 0-16 1-16z"/>
</g>
</g>
<path filter="url(#sb)" fill="#101010" d="M-12,-12L-12,98.7L10.6,98.7L10.6,98.8L21.3,98.8L21.3,98.9L31.9,98.9L31.9,99.1L42.5,99.1L42.5,99.2L53.1,99.2L53.1,99.4L63.8,99.4L63.8,99.6L74.4,99.6L74.4,99.8L85,99.8L85,100.1L95.7,100.1L95.7,100.4L106.3,100.4L106.3,100.8L116.9,100.8L116.9,101.2L127.5,101.2L127.5,101.7L138.2,101.7L138.2,102.4L148.8,102.4L148.8,103.3L159.4,103.3L159.4,104.8L170.1,104.8L170.1,106.7L180.7,106.7L180.7,108.9L191.3,108.9L191.3,111.4L202,111.4L202,114.2L212.6,114.2L212.6,117.8L223.2,117.8L223.2,121.9L233.8,121.9L233.8,126.8L244.5,126.8L244.5,131.1L253.3,131.1L253.3,-12Z"/>
</g>
<path d="M101.7,183.8V139.3" stroke="#f00" stroke-width="3" fill="none"/>
<path d="M101.7,123.6L89.9,140.9L113.5,140.9Z" fill="#f00"/>
<path d="M280.7,343L259.3,322.8" stroke="#f00" stroke-width="3" fill="none"/>
<path d="M242.2,306.3L248.8,324L273.6,324Z" fill="#f00"/>
<path d="M268.7,311.5L270.2,312.6L271.8,313.5L273.3,314.2L274.8,314.7L276.3,315.2L277.8,315.5L279.4,315.7L280.9,315.9L282.4,316L283.9,316L285.4,315.9L286.9,315.8L288.5,315.7L290,315.5L291.5,315.3L293,315L294.5,314.7L296.1,314.4L297.6,314L299.1,313.6L300.6,313.2L302.1,312.7L303.7,312.2L305.2,311.7L306.7,311.2L308.2,310.6L309.7,310L311.2,309.4L312.8,308.8L314.3,308.1L315.8,307.4L317.3,306.7L318.8,306L320.4,305.3L321.9,304.5L323.4,303.7L324.9,302.9L326.4,302L328,301.2L329.5,300.3L331,299.4L332.5,298.5L334,297.5L335.5,296.6L337.1,295.6L338.6,294.6L340.1,293.5L341.6,292.5L343.1,291.4L344.7,290.3L346.2,289.1L347.7,288L349.2,286.8L350.7,285.6L352.3,284.4L353.8,283.1L355.3,281.8L356.8,280.5L358.3,279.2L359.8,277.8L361.4,276.5L362.9,275L364.4,273.6L365.9,272.1L367.4,270.6L369,269.1L370.5,267.6L372,266L373.5,264.4L375,262.7L376.6,261.1L378.1,259.3L379.6,257.6L381.1,255.8L382.6,254L384.1,252.2L385.7,250.3L387.2,248.4L388.7,246.5L390.2,244.5L391.7,242.5L393.3,240.5L394.8,238.4L396.3,236.2L397.8,234.1L399.3,231.9L400.9,229.6L402.4,227.4L403.9,225L405.4,222.7L406.9,220.3L408.4,217.8L410,215.3L411.5,212.8L413,210.2L414.5,207.6L416,204.9L417.6,202.2L419.1,199.4L420.6,196.6L422.1,193.7L423.6,190.8L425.2,187.8L426.7,184.8L428.2,181.7L429.7,178.6L431.2,175.4L432.7,172.2L434.3,168.9L435.8,165.5L437.3,162.1L438.8,158.6L440.3,155.1L441.9,151.5L443.4,147.8L444.9,144.1L446.4,140.3L447.9,136.4L449.5,132.5L451,128.5L452.5,124.4L454,120.3L455.5,116.1L457,111.8L458.6,107.4L460.1,103L461.6,98.5L463.1,93.9L464.6,89.2L466.2,84.5L467.7,79.6L469.2,74.7L470.7,69.7L472.2,64.6L473.8,59.4L475.3,54.1L476.8,48.8L478.3,43.3L479.8,37.8L481.3,32.1L482.9,26.4L484.4,20.5L485.9,14.6L487.4,8.5L488.9,2.4L490.5,-3.9L492,-10.3L493.5,-16.8" stroke="#bf00bf" stroke-width="4.3" stroke-linejoin="round" stroke-linecap="round" fill="none"/>
<path d="M268.7,256.4L270.2,258.6L271.8,260.4L273.3,261.8L274.8,262.9L276.3,263.8L277.8,264.4L279.4,264.9L280.9,265.2L282.4,265.4L283.9,265.4L285.4,265.3L286.9,265.1L288.5,264.8L290,264.4L291.5,264L293,263.4L294.5,262.8L296.1,262.2L297.6,261.4L299.1,260.6L300.6,259.7L302.1,258.8L303.7,257.9L305.2,256.8L306.7,255.8L308.2,254.6L309.7,253.5L311.2,252.2L312.8,251L314.3,249.7L315.8,248.3L317.3,246.9L318.8,245.4L320.4,244L321.9,242.4L323.4,240.8L324.9,239.2L326.4,237.5L328,235.8L329.5,234.1L331,232.3L332.5,230.4L334,228.5L335.5,226.6L337.1,224.6L338.6,222.6L340.1,220.5L341.6,218.4L343.1,216.2L344.7,214L346.2,211.7L347.7,209.4L349.2,207L350.7,204.6L352.3,202.2L353.8,199.7L355.3,197.1L356.8,194.5L358.3,191.8L359.8,189.1L361.4,186.4L362.9,183.5L364.4,180.7L365.9,177.7L367.4,174.7L369,171.7L370.5,168.6L372,165.4L373.5,162.2L375,158.9L376.6,155.5L378.1,152.1L379.6,148.7L381.1,145.1L382.6,141.5L384.1,137.8L385.7,134.1L387.2,130.3L388.7,126.4L390.2,122.5L391.7,118.4L393.3,114.3L394.8,110.2L396.3,105.9L397.8,101.6L399.3,97.2L400.9,92.7L402.4,88.2L403.9,83.5L405.4,78.8L406.9,74L408.4,69.1L410,64.1L411.5,59L413,53.9L414.5,48.6L416,43.3L417.6,37.8L419.1,32.3L420.6,26.6L422.1,20.9L423.6,15L425.2,9.1L426.7,3L428.2,-3.1L429.7,-9.4L431.2,-15.8" stroke="#bf00bf" stroke-width="3.4" stroke-linejoin="round" stroke-linecap="round" fill="none"/>
<path d="M271.7,207.2L273.2,209.4L274.7,211L276.2,212.3L277.7,213.3L279.2,214L280.7,214.5L282.2,214.7L283.7,214.8L285.2,214.7L286.7,214.4L288.2,214L289.7,213.5L291.2,212.8L292.7,212L294.2,211.2L295.7,210.2L297.2,209.1L298.7,207.9L300.2,206.7L301.7,205.4L303.2,203.9L304.7,202.4L306.2,200.9L307.7,199.2L309.2,197.5L310.7,195.7L312.2,193.9L313.7,192L315.2,190L316.7,187.9L318.2,185.8L319.7,183.6L321.2,181.4L322.7,179L324.2,176.7L325.7,174.2L327.2,171.7L328.7,169.1L330.2,166.5L331.7,163.8L333.2,161L334.7,158.2L336.2,155.3L337.7,152.3L339.2,149.3L340.7,146.2L342.2,143L343.7,139.8L345.2,136.5L346.7,133.1L348.2,129.6L349.7,126.1L351.2,122.5L352.7,118.9L354.2,115.1L355.7,111.3L357.2,107.4L358.7,103.5L360.2,99.4L361.7,95.3L363.2,91.1L364.7,86.8L366.2,82.5L367.7,78L369.2,73.5L370.7,68.9L372.2,64.2L373.7,59.4L375.2,54.5L376.7,49.5L378.2,44.5L379.7,39.3L381.2,34L382.7,28.7L384.2,23.3L385.7,17.7L387.2,12.1L388.7,6.3L390.2,0.5L391.7,-5.5L393.2,-11.6" stroke="#bf00bf" stroke-width="3.4" stroke-linejoin="round" stroke-linecap="round" fill="none"/>
<path d="M271.7,154.1L273.2,156.9L274.7,159.2L276.2,160.9L277.7,162.2L279.2,163.2L280.7,163.8L282.2,164.1L283.7,164.2L285.2,164.1L286.7,163.7L288.2,163.2L289.7,162.4L291.2,161.6L292.7,160.5L294.2,159.4L295.7,158.1L297.2,156.6L298.7,155.1L300.2,153.4L301.7,151.6L303.2,149.7L304.7,147.7L306.2,145.7L307.7,143.5L309.2,141.2L310.7,138.8L312.2,136.3L313.7,133.8L315.2,131.1L316.7,128.4L318.2,125.5L319.7,122.6L321.2,119.6L322.7,116.5L324.2,113.4L325.7,110.1L327.2,106.8L328.7,103.3L330.2,99.8L331.7,96.2L333.2,92.5L334.7,88.7L336.2,84.9L337.7,80.9L339.2,76.9L340.7,72.7L342.2,68.5L343.7,64.2L345.2,59.8L346.7,55.3L348.2,50.7L349.7,46L351.2,41.2L352.7,36.3L354.2,31.3L355.7,26.2L357.2,21.1L358.7,15.8L360.2,10.4L361.7,4.9L363.2,-0.7L364.7,-6.4L366.2,-12.2" stroke="#bf00bf" stroke-width="3.4" stroke-linejoin="round" stroke-linecap="round" fill="none"/>
<path d="M271.7,101L273.2,104.5L274.7,107.3L276.2,109.5L277.7,111.1L279.2,112.3L280.7,113.1L282.2,113.5L283.7,113.6L285.2,113.4L286.7,113L288.2,112.3L289.7,111.4L291.2,110.3L292.7,109L294.2,107.6L295.7,105.9L297.2,104.1L298.7,102.2L300.2,100.1L301.7,97.9L303.2,95.5L304.7,93L306.2,90.4L307.7,87.7L309.2,84.8L310.7,81.9L312.2,78.8L313.7,75.6L315.2,72.2L316.7,68.8L318.2,65.3L319.7,61.6L321.2,57.9L322.7,54L324.2,50.1L325.7,46L327.2,41.8L328.7,37.5L330.2,33.1L331.7,28.6L333.2,24L334.7,19.3L336.2,14.4L337.7,9.5L339.2,4.4L340.7,-0.7L342.2,-6L343.7,-11.4L345.2,-16.9" stroke="#bf00bf" stroke-width="3.4" stroke-linejoin="round" stroke-linecap="round" fill="none"/>
<path d="M271.7,47.9L273.2,52.1L274.7,55.5L276.2,58.1L277.7,60L279.2,61.5L280.7,62.4L282.2,62.9L283.7,63L285.2,62.8L286.7,62.3L288.2,61.5L289.7,60.4L291.2,59.1L292.7,57.5L294.2,55.8L295.7,53.8L297.2,51.7L298.7,49.3L300.2,46.8L301.7,44.1L303.2,41.3L304.7,38.3L306.2,35.2L307.7,31.9L309.2,28.5L310.7,24.9L312.2,21.2L313.7,17.4L315.2,13.4L316.7,9.3L318.2,5L319.7,0.7L321.2,-3.8L322.7,-8.5L324.2,-13.2" stroke="#bf00bf" stroke-width="3.4" stroke-linejoin="round" stroke-linecap="round" fill="none"/>
<path d="M271.7,-5.2L273.2,-0.3L274.7,3.6L276.2,6.7L277.7,9L279.2,10.6L280.7,11.7L282.2,12.3L283.7,12.4L285.2,12.2L286.7,11.6L288.2,10.6L289.7,9.4L291.2,7.8L292.7,6L294.2,4L295.7,1.7L297.2,-0.8L298.7,-3.6L300.2,-6.5L301.7,-9.6L303.2,-12.9L304.7,-16.4" stroke="#bf00bf" stroke-width="3.4" stroke-linejoin="round" stroke-linecap="round" fill="none"/>
<path d="M253.1,82.2h0M254.2,220.6h0M255.2,254.2h0M256.2,270.8h0M257.3,281.1h0M258.3,288.1h0M259.4,293.3h0M260.4,297.3h0M261.4,300.4h0M262.5,303h0M263.5,305.1h0M264.6,306.8h0M265.6,308.3h0M266.7,309.5h0M267.7,310.6h0M268.7,311.5h0M269.8,312.3h0M270.8,313h0M271.9,313.5h0M272.9,314h0M273.9,314.4h0M275,314.8h0M276,315.1h0M277.1,315.3h0M278.1,315.5h0M279.1,315.7h0M280.2,315.8h0M281.2,315.9h0M282.3,316h0M283.3,316h0M254.2,74.7h0M255.2,141.7h0M256.2,175h0M257.3,195.6h0M258.3,209.7h0M259.4,220.1h0M260.4,228h0M261.4,234.3h0M262.5,239.4h0M263.5,243.6h0M264.6,247h0M265.6,250h0M266.7,252.5h0M267.7,254.6h0M268.7,256.4h0M269.8,258h0M270.8,259.3h0M271.9,260.5h0M272.9,261.5h0M273.9,262.3h0M275,263h0M276,263.6h0M277.1,264.1h0M278.1,264.5h0M279.1,264.8h0M280.2,265.1h0M281.2,265.2h0M282.3,265.3h0M283.3,265.4h0M255.2,29.3h0M256.2,79.3h0M257.3,110.1h0M258.3,131.3h0M259.4,146.8h0M260.4,158.7h0M261.4,168.1h0M262.5,175.8h0M263.5,182h0M264.6,187.3h0M265.6,191.7h0M266.7,195.4h0M267.7,198.6h0M268.7,201.4h0M269.8,203.7h0M270.8,205.7h0M271.9,207.5h0M272.9,209h0M273.9,210.2h0M275,211.3h0M276,212.2h0M277.1,212.9h0M278.1,213.5h0M279.1,214h0M280.2,214.3h0M281.2,214.6h0M282.3,214.7h0M283.3,214.8h0M256.2,-16.5h0M257.3,24.6h0M258.3,52.8h0M259.4,73.5h0M260.4,89.4h0M261.4,102h0M262.5,112.2h0M263.5,120.5h0M264.6,127.5h0M265.6,133.4h0M266.7,138.4h0M267.7,142.7h0M268.7,146.3h0M269.8,149.4h0M270.8,152.1h0M271.9,154.4h0M272.9,156.4h0M273.9,158.1h0M275,159.5h0M276,160.7h0M277.1,161.7h0M278.1,162.5h0M279.1,163.1h0M280.2,163.6h0M281.2,163.9h0M282.3,164.1h0M283.3,164.2h0M259.4,0.3h0M260.4,20.1h0M261.4,35.9h0M262.5,48.6h0M263.5,59h0M264.6,67.8h0M265.6,75.1h0M266.7,81.4h0M267.7,86.7h0M268.7,91.2h0M269.8,95.2h0M270.8,98.5h0M271.9,101.4h0M272.9,103.9h0M273.9,106h0M275,107.8h0M276,109.3h0M277.1,110.5h0M278.1,111.5h0M279.1,112.3h0M280.2,112.9h0M281.2,113.3h0M282.3,113.5h0M283.3,113.6h0M262.5,-15h0M263.5,-2.5h0M264.6,8h0M265.6,16.8h0M266.7,24.3h0M267.7,30.7h0M268.7,36.2h0M269.8,40.9h0M270.8,44.9h0M271.9,48.4h0M272.9,51.3h0M273.9,53.9h0M275,56h0M276,57.8h0M277.1,59.3h0M278.1,60.5h0M279.1,61.4h0M280.2,62.1h0M281.2,62.6h0M282.3,62.9h0M283.3,63h0M269.8,-13.4h0M270.8,-8.7h0M271.9,-4.7h0M272.9,-1.2h0M273.9,1.7h0M275,4.2h0M276,6.3h0M277.1,8h0M278.1,9.4h0M279.1,10.5h0M280.2,11.4h0M281.2,12h0M282.3,12.3h0M283.3,12.4h0" stroke="#bf00bf" stroke-width="3.4" stroke-linecap="round" fill="none"/>
<path d="M252.8,0V365.1" stroke="#bf00bf" stroke-width="3.2" fill="none"/>
<path d="M326.5,365.8L331.2,365.7L335.9,365.7L340.7,365.7L345.4,365.6L350.1,365.6L354.8,365.5L359.5,365.4L364.2,365.4L368.9,365.3L373.6,365.2L378.3,365.2L383,365.1L387.8,365L392.5,364.9L397.2,364.8L401.9,364.7L406.6,364.7L411.3,364.5L416,364.4L420.7,364.3L425.4,364.2L430.1,364.1L434.8,363.9L439.6,363.8L444.3,363.6L449,363.5L453.7,363.3L458.4,363.1L463.1,362.9L467.8,362.7L472.5,362.5L477.2,362.3L481.9,362.1L486.7,361.8L491.4,361.6L496.1,361.3L500.8,361L505.5,360.7L510.2,360.4" stroke="#bf00bf" stroke-width="3.3" fill="none"/>
<path d="M0,106.9L4.1,106.9L8.3,106.9L12.4,107L16.6,107L20.7,107L24.9,107.1L29,107.1L33.2,107.1L37.3,107.2L41.5,107.2L45.6,107.2L49.8,107.3L53.9,107.3L58.1,107.4L62.2,107.5L66.4,107.5L70.5,107.6L74.7,107.7L78.8,107.8L83,107.9L87.1,108L91.3,108.1L95.4,108.3L99.6,108.4L103.7,108.6L107.9,108.8L112,109L116.1,109.2L120.3,109.4L124.4,109.7L128.6,110L132.7,110.4L136.8,110.8L141,111.2L145.1,111.6L149.2,112.2L153.3,112.7L157.4,113.4L161.5,114.1L165.6,114.9L169.6,115.8L173.7,116.8L177.7,117.9L181.6,119.1L185.6,120.5L189.4,122L193.3,123.6L197,125.3L200.7,127.3L204.3,129.4L207.8,131.6L211.2,134L214.4,136.7L217.5,139.5L220.4,142.5L223,145.6L225.5,148.9L227.9,152.3L230.3,155.8L232.5,159.3L234.7,162.8L236.8,166.4L238.7,170.1L240.5,173.8L242.1,177.6L243.6,181.5L245,185.4L246.3,189.4L247.4,193.4L248.5,197.4L249.4,201.4L250.3,205.5L251,209.6L251.6,213.7L252.2,217.8L252.6,221.9L253.1,226L253.5,230.2L253.9,234.3" stroke="#ff0000" stroke-width="3.4" fill="none" stroke-linejoin="round"/>
<path d="M85.2,365.1L89.3,365L93.4,364.8L97.5,364.6L101.6,364.4L105.7,364.2L109.8,363.9L113.9,363.7L118,363.4L122.1,363L126.2,362.7L130.2,362.3L134.3,361.8L138.4,361.4L142.5,360.8L146.6,360.2L150.7,359.6L154.8,358.8L158.9,358L163,357.1L167.1,356.2L171.2,355.1L175.3,353.9L179.4,352.6L183.5,351.1L187.6,349.5L191.7,347.7L195.8,345.7L199.9,343.5L203.9,341L208,338.2L212.1,334.9L216.2,331.2L220.3,327.1L224.4,322.5L228.5,317.5L232.6,312L236.7,305.7L240.8,298.3L244.9,289L245.9,286.3L246.2,285.4L246.5,284.4L246.9,283.5L247.2,282.5L247.5,281.4L247.8,280.3L248.1,279L248.4,277.7L248.7,276.3L249.1,274.9L249.4,273.4L249.7,271.9L250,270.3L250.3,268.7L250.6,267L250.9,265.2L251.3,263.3L251.6,261.3L251.9,259.1L252.2,256.8L252.5,254.2L252.8,250.9L253.1,247L253.5,243L253.8,239.5L254.1,236.7L254.4,234L254.7,231.6L255,229.7L255.3,228.2L255.6,226.8L256,225.4L256.3,224.1L256.6,222.9L256.9,221.7L257.2,220.7L257.5,219.6L257.8,218.6L258.2,217.5L259.2,214L263,200.4L266.8,185.5L270.6,169.3L274.4,151.6L278.2,132.3L282,111.3L285.8,88.4L289.6,63.5L293.4,36.4L297.2,6.8L301,-25.5" stroke="#ff0000" stroke-width="3.4" fill="none" stroke-linejoin="round"/>
<path d="M0,44H510.2" stroke="#000" stroke-width="3" stroke-dasharray="10.3 4.45" stroke-dashoffset="-1.3" fill="none"/>
</g>
<text transform="translate(10.8,98.6) scale(1.000,1.100)" font-family="'Liberation Serif','DejaVu Serif',serif" font-size="40" fill="#f00" textLength="27.5" lengthAdjust="spacingAndGlyphs" >Λ</text>
<text transform="translate(35.5,105) scale(1.150,1.100)" font-family="'Liberation Serif','DejaVu Serif',serif" font-size="27" fill="#f00" >1</text>
<text transform="translate(64.5,98.6) scale(1.000,1.100)" font-family="'Liberation Serif','DejaVu Serif',serif" font-size="40" fill="#f00" textLength="33" lengthAdjust="spacingAndGlyphs" >=</text>
<text transform="translate(105.7,98.6) scale(1.000,1.100)" font-family="'Liberation Serif','DejaVu Serif',serif" font-size="40" fill="#f00" textLength="43" lengthAdjust="spacingAndGlyphs" >10</text>
<text transform="translate(148.7,83.3) scale(1.000,1.100)" font-family="'Liberation Serif','DejaVu Serif',serif" font-size="27" fill="#f00" textLength="37" lengthAdjust="spacingAndGlyphs" >−7</text>
<text transform="translate(46.3,344.9) scale(1.000,1.100)" font-family="'Liberation Serif','DejaVu Serif',serif" font-size="40" fill="#f00" textLength="27.5" lengthAdjust="spacingAndGlyphs" >Λ</text>
<text transform="translate(71,351.3) scale(1.150,1.100)" font-family="'Liberation Serif','DejaVu Serif',serif" font-size="27" fill="#f00" >2</text>
<text transform="translate(100,344.9) scale(1.000,1.100)" font-family="'Liberation Serif','DejaVu Serif',serif" font-size="40" fill="#f00" textLength="33" lengthAdjust="spacingAndGlyphs" >=</text>
<text transform="translate(141.2,344.9) scale(1.000,1.100)" font-family="'Liberation Serif','DejaVu Serif',serif" font-size="40" fill="#f00" textLength="43" lengthAdjust="spacingAndGlyphs" >10</text>
<text transform="translate(184.2,329.6) scale(1.000,1.100)" font-family="'Liberation Serif','DejaVu Serif',serif" font-size="27" fill="#f00" textLength="37" lengthAdjust="spacingAndGlyphs" >−7</text>
<g transform="translate(381.8,296.7) rotate(-51)">
<text transform="translate(0,0) scale(1.000,1.100)" font-family="'Liberation Serif','DejaVu Serif',serif" font-size="42" fill="#bf00bf" font-style="italic" textLength="24" lengthAdjust="spacingAndGlyphs" >ϕ</text>
<text transform="translate(36.5,0) scale(1.000,1.100)" font-family="'Liberation Serif','DejaVu Serif',serif" font-size="40" fill="#bf00bf" textLength="30" lengthAdjust="spacingAndGlyphs" >=</text>
<text transform="translate(80,0) scale(1.000,1.100)" font-family="'Liberation Serif','DejaVu Serif',serif" font-size="42" fill="#bf00bf" font-style="italic" textLength="21" lengthAdjust="spacingAndGlyphs" >k</text>
<text transform="translate(104,0) scale(1.000,1.100)" font-family="'Liberation Serif','DejaVu Serif',serif" font-size="42" fill="#bf00bf" font-style="italic" textLength="25" lengthAdjust="spacingAndGlyphs" >π</text>
</g>
<rect x="0" y="0" width="510.2" height="365.1" fill="none" stroke="#000" stroke-width="1.7"/>
<path d="M0,365.1v7M30.7,365.1v4M48.7,365.1v4M61.4,365.1v4M71.3,365.1v4M79.4,365.1v4M86.2,365.1v4M92.2,365.1v4M97.4,365.1v4M102,365.1v7M132.8,365.1v4M150.7,365.1v4M163.5,365.1v4M173.4,365.1v4M181.4,365.1v4M188.3,365.1v4M194.2,365.1v4M199.4,365.1v4M204.1,365.1v7M234.8,365.1v4M252.8,365.1v4M265.5,365.1v4M275.4,365.1v4M283.5,365.1v4M290.3,365.1v4M296.2,365.1v4M301.5,365.1v4M306.1,365.1v7M336.8,365.1v4M354.8,365.1v4M367.6,365.1v4M377.4,365.1v4M385.5,365.1v4M392.4,365.1v4M398.3,365.1v4M403.5,365.1v4M408.2,365.1v7M438.9,365.1v4M456.8,365.1v4M469.6,365.1v4M479.5,365.1v4M487.6,365.1v4M494.4,365.1v4M500.3,365.1v4M505.5,365.1v4M510.2,365.1v7M0,352.5h-4M0,337.8h-4M0,323.2h-4M0,308.5h-4M0,293.9h-7M0,279.2h-4M0,264.5h-4M0,249.9h-4M0,235.2h-4M0,220.5h-7M0,205.9h-4M0,191.2h-4M0,176.6h-4M0,161.9h-4M0,147.2h-7M0,132.6h-4M0,117.9h-4M0,103.2h-4M0,88.6h-4M0,73.9h-7M0,59.3h-4M0,44.6h-4M0,29.9h-4M0,15.3h-4M0,0.6h-7" stroke="#000" stroke-width="1.4" fill="none"/>
<text transform="translate(-1.5,-11) scale(1.000,1.060)" font-family="'Liberation Sans','DejaVu Sans',sans-serif" font-size="43" >(a)</text>
<text transform="translate(255.1,-11) scale(1.000,1.100)" font-family="'Liberation Sans','DejaVu Sans',sans-serif" font-size="39.6" text-anchor="middle" >Total Memory</text>
<rect x="541.9" y="0" width="18.6" height="365.1" fill="url(#vir)" stroke="#000" stroke-width="1.7"/>
<text transform="translate(574,381) scale(1.030,1.150)" font-family="'Liberation Serif','DejaVu Serif',serif" font-size="38.5" >5</text>
<text transform="translate(574,308) scale(1.030,1.150)" font-family="'Liberation Serif','DejaVu Serif',serif" font-size="38.5" >6</text>
<text transform="translate(574,235) scale(1.030,1.150)" font-family="'Liberation Serif','DejaVu Serif',serif" font-size="38.5" >7</text>
<text transform="translate(574,161.9) scale(1.030,1.150)" font-family="'Liberation Serif','DejaVu Serif',serif" font-size="38.5" >8</text>
<text transform="translate(574,88.9) scale(1.030,1.150)" font-family="'Liberation Serif','DejaVu Serif',serif" font-size="38.5" >9</text>
<text transform="translate(574,15.9) scale(1.030,1.150)" font-family="'Liberation Serif','DejaVu Serif',serif" font-size="38.5" >10</text>
<path d="M560.5,365.1h6.3M560.5,292.1h6.3M560.5,219.1h6.3M560.5,146h6.3M560.5,73h6.3M560.5,0h6.3" stroke="#000" stroke-width="1.4" fill="none"/>
<text transform="translate(516.4,-10.5) scale(1.000,1.050)" font-family="'Liberation Serif','DejaVu Serif',serif" font-size="45" font-style="italic" textLength="72" lengthAdjust="spacingAndGlyphs" >MC</text>
<text transform="translate(-13.4,309.2) scale(1.030,1.150)" font-family="'Liberation Serif','DejaVu Serif',serif" font-size="38.5" text-anchor="end" >50</text>
<text transform="translate(-13.4,235.8) scale(1.030,1.150)" font-family="'Liberation Serif','DejaVu Serif',serif" font-size="38.5" text-anchor="end" >100</text>
<text transform="translate(-13.4,162.5) scale(1.030,1.150)" font-family="'Liberation Serif','DejaVu Serif',serif" font-size="38.5" text-anchor="end" >150</text>
<text transform="translate(-13.4,89.2) scale(1.030,1.150)" font-family="'Liberation Serif','DejaVu Serif',serif" font-size="38.5" text-anchor="end" >200</text>
<text transform="translate(-13.4,15.9) scale(1.030,1.150)" font-family="'Liberation Serif','DejaVu Serif',serif" font-size="38.5" text-anchor="end" >250</text>
<text transform="translate(-88.3,183.1) rotate(-90)" font-family="'Liberation Sans','DejaVu Sans',sans-serif" font-size="39.8" text-anchor="middle" >Clock Cycle T</text>
</g>
<g transform="translate(801.7,46.7)">
<g clip-path="url(#axclip)">
<g filter="url(#cm)"><g filter="url(#hb)">
<rect x="-10" y="-10" width="530.2" height="385.1" fill="#020202"/><g transform="scale(.5)">
<path fill="#060606" d="M-20-20l1060 0 0 770-1060 0z"/>
<path fill="#0a0a0a" d="M-20-20l1060 0 0 770-1060 0z"/>
<path fill="#0e0e0e" d="M-20-20l1060 0 0 770-1060 0z"/>
<path fill="#121212" d="M-20-20l1060 0 0 770-1060 0z"/>
<path fill="#161616" d="M-20-20l1060 0 0 770-1060 0z"/>
<path fill="#1a1a1a" d="M-20-20l1060 0 0 770-1060 0z"/>
<path fill="#1e1e1e" d="M-20-20l1060 0 0 770-1060 0z"/>
<path fill="#222222" d="M-20-20l1060 0 0 770-1060 0z"/>
<path fill="#262626" d="M-20-20l1060 0 0 770-1060 0z"/>
<path fill="#2a2a2a" d="M-20-20l1060 0 0 770-1060 0z"/>
<path fill="#2e2e2e" d="M-20-20l1060 0 0 770-1060 0z"/>
<path fill="#323232" d="M-20-20l1060 0 0 770-1060 0z"/>
<path fill="#363636" d="M-20-20l1060 0 0 770-1060 0z"/>
<path fill="#3a3a3a" d="M-20-20l1060 0 0 770-1060 0z"/>
<path fill="#3e3e3e" d="M-20-20l1060 0 0 770-1060 0z"/>
<path fill="#424242" d="M-20-20l1060 0 0 770-1060 0z"/>
<path fill="#464646" d="M-20-20l1060 0 0 770-1060 0z"/>
<path fill="#4a4a4a" d="M-20-20l1060 0 0 770-1060 0z"/>
<path fill="#4e4e4e" d="M-20-20l1060 0 0 770-1060 0z"/>
<path fill="#525252" d="M-20-20l1060 0 0 770-1060 0z"/>
<path fill="#565656" d="M-20-20l1060 0 0 770-1060 0z"/>
<path fill="#5a5a5a" d="M1040-20l0 770-1060 0 0-32 173 1 29-3 3-2 17-2 7-3 10-1 6-3 10-1 6-3 9-1 7-3 9-1 3-2 11-2 5-2 8-1 4-3 9-1 3-3 21-5 3-3 7-1 13-7 16-5 36-19 20-9 3-3 16-5 12-6 8-2 4-3 20 0 6 3 10 1 0-183 4-4 4 4 0 99 4 4 0 30 4 5 0 13 3 3 1 9 4 3 0 5 4 3 1 4 21-47 30-53 12-26 12-31 12-40 16-75 13-105 16-95 17-76 7-27 11-29 1-7 0-22z"/>
<path fill="#5e5e5e" d="M1040-20l0 770-1060 0 0-30 173 1 33-5 83-20 52-15 49-20 58-30 44-16 12-1 20 6 1-185 3-4 4 4 0 99 4 4 0 31 4 4 0 14 4 6 0 6 3 2 5 13 2-1 24-51 34-63 16-39 12-39 16-72 14-105 16-95 20-91 17-56 0-22z"/>
<path fill="#626262" d="M1040-20l0 770-1060 0 0-29 173 0 37-5 81-20 63-19 38-16 60-30 40-16 12 0 20 6 1-186 3-4 4 4 0 99 4 4 0 31 4 4 0 15 4 5 0 6 8 15 4-1 23-51 33-60 16-39 12-38 12-50 9-48 9-75 16-99 20-91 18-60 0-22 258 0 0 26 5 4 4 0 0-30zM711 363l-4 4 1 5 3 4 4-1 0-8zM731 323l0 12 4 1 1-13zM751 276l0 10 4 2 4-4 0-5-4-4zM775 220l-4 4 0 5 4 4 4-1 0-9zM795 160l0 13 4 0 1-12zM819 89l-4 3 0 9 4 1 4-4 0-5zM839 10l-4 4 0 5 4 3 4 0 0-9zM859 323l0 12 4 1 0-13zM883 274l-4 1 0 5 0 4 4 4 4-4 0-8zM903 216l-4 4 0 5 4 4 4-1 0-9zM923 152l-1 13 5 0 0-12zM943 81l0 9 4 3 4-4 0-5-4-3zM711 545l-3 4 0 5 3 4 4 0 1-12zM731 525l0 13 4 0 1-12zM751 502l0 9 4 3 4-4 0-5-4-4zM775 474l-4 4 0 5 4 3 4 0 0-12zM795 442l0 12 4 1 0-13zM819 407l-4 3 0 5 0 4 4 1 4-1 0-8zM835 371l0 8 4 3 4-3 0-8-4-2z"/>
<path fill="#666666" d="M1040-20l0 770-1060 0 0-29 173 0 39-5 81-20 51-15 40-16 61-30 39-16 16-4 24 7 1-187 3-4 3 4 1 99 3 4 1 31 3 4 1 16 4 4 0 7 8 14 4 0 22-48 26-46 12-25 16-41 12-41 18-86 8-67 19-119 17-76 19-63 0-22 257 0 0 26 5 5 4-1 0-30zM711 363l-3 3-1 5 1 3 3 2 4 0 1-5-1-5zM731 323l-1 4 1 8 4 1 2-9-1-4zM751 275l0 13 4 0 4-3 0-7-4-3zM775 220l-4 4 0 6 4 3 4 0 0-11zM795 160l-1 5 1 8 4 0 2-8-1-4zM819 89l-4 1 0 12 4 0 4-3 0-7zM839 9l-4 4 0 5 0 3 4 2 4 0 1-5-1-6zM859 323l-2 8 1 4 5 1 2-5-2-8zM883 273l-4 2-1 5 1 5 4 3 4-4 0-4 0-4zM903 216l-5 4 1 6 4 3 4 0 0-11zM923 152l-2 5 1 8 5 0 1-4-1-8zM947 80l-4 1-1 4 1 6 4 3 4-4 0-5 0-2zM711 545l-3 4 0 6 3 3 4 0 1-12zM731 525l-1 5 1 8 4 0 2-8-1-4zM751 501l0 12 4 1 5-4-1-6-4-3zM775 473l-4 4 0 6 4 4 4 0 1-13zM795 442l-1 8 0 4 5 1 2-5-1-8zM819 406l-4 4 0 5 0 5 4 2 4-3 0-4 0-5zM839 367l-4 4 0 9 4 3 4-3 1-5-1-5z"/>
<path fill="#6a6a6a" d="M1040-20l0 770-1060 0 0-29 173 1 42-6 79-20 51-15 40-16 52-26 47-20 16-3 24 6 1-187 3-3 3 3 1 99 3 4 1 31 3 4 1 16 3 4 1 8 8 13 4 2 23-50 29-52 24-57 12-41 20-89 1-19 5-44 19-119 21-91 16-52 0-22 256 0 1 28 4 3 4-1 0-30zM711 362l-3 4-1 5 1 4 3 2 4-1 1-5-1-6zM731 322l-2 5 2 8 4 1 3-9-3-5zM751 275l0 13 4 1 5-5-1-7-4-3zM775 219l-4 4 0 5 0 3 4 3 4-1 1-5-1-8zM795 159l-2 6 1 8 5 0 3-8-3-6zM819 88l-4 1 0 13 4 1 4-3 1-7zM839 9l-4 4 0 5 0 4 4 2 4-1 1-5-1-7zM859 323l-3 8 3 6 4 0 2-6-1-8zM883 272l-4 2-1 6 1 6 4 2 4-3 0-5 0-5zM903 215l-4 4-1 5 1 4 4 2 4-1 1-5-1-8zM923 152l-2 9 2 5 4 0 2-9-2-5zM947 79l-4 1-1 5 1 7 4 2 4-4 0-5 0-4zM711 545l-3 3 0 7 3 4 4-1 1-12zM731 525l-2 5 2 8 4 0 3-8-3-5zM755 500l-4 1-1 5 1 8 4 1 4-4 1-5-1-3zM775 473l-4 3 0 6 4 5 4 0 1-13zM795 442l-2 8 2 6 4 0 3-6-2-8zM819 406l-4 3-1 6 1 5 4 3 4-4 1-4-1-5zM839 367l-4 3-1 5 1 5 4 3 4-2 1-6-1-5z"/>
<path fill="#6e6e6e" d="M1040-20l0 770-1060 0 0-28 173 0 44-6 79-20 50-15 40-16 51-26 47-19 16-4 24 6 1-183 1-4 2-3 3 3 1 4 0 95 3 4 1 31 3 4 1 16 3 4 1 8 8 14 5 2 25-55 26-46 24-57 12-40 16-76 4-12 1-19 5-44 19-119 20-91 17-56 0-22 256 0 1 29 4 3 4-2 1-30zM711 362l-3 4-1 5 1 4 3 3 4-2 2-5-2-7zM731 322l-3 5 3 9 4 0 4-9-4-5zM755 274l-4 1-1 5 1 8 4 1 4-3 1-6-1-4zM775 219l-4 3 0 6 0 4 4 2 4-1 1-5-1-8zM795 159l-3 6 2 8 5 1 4-9-4-6zM819 88l-4 1-1 8 1 5 4 1 4-2 1-4-1-6zM839 9l-4 3-1 6 1 4 4 3 4-2 1-5-1-8zM859 323l-3 8 3 6 4 0 3-6-2-8zM883 272l-4 2-1 6 1 6 4 3 4-4 1-5-1-5zM903 215l-4 3-1 6 1 4 4 2 4-1 1-5-1-8zM923 152l-3 5 0 4 3 5 4 0 3-5 0-4-3-5zM947 79l-4 1-1 5 1 8 4 1 4-3 0-6 0-4zM711 544l-3 3 0 9 3 3 4 0 1-13zM731 524l-3 6 3 9 4 0 4-9-4-6zM755 500l-4 1-1 5 1 8 4 1 4-3 1-6-1-4zM775 473l-4 3 0 6 2 4 6 1 1-13zM795 442l-3 8 3 6 4 0 3-6-3-8zM819 406l-4 2-1 7 1 6 4 2 4-3 1-5-1-6zM839 367l-4 3-1 5 1 5 4 4 4-3 1-6-1-6z"/>
<path fill="#727272" d="M1040-20l0 770-1060 0 0-28 173 1 46-7 78-20 51-15 39-16 61-31 40-15 16-2 20 6 1-184 3-7 3 7 1 95 3 4 1 31 3 4 1 16 3 4 1 8 8 14 4 3 1-1 25-55 26-44 9-20 15-37 12-40 17-78 4-12 1-19 5-40 19-123 20-91 17-56 0-22 255 0 0 26 1 4 4 2 5-2 0-30zM711 362l-3 3-1 6 1 5 3 3 4-2 2-6-2-8zM731 321l-4 6 1 4 3 6 4 0 4-10-4-6zM755 273l-4 1-1 6 1 8 4 1 4-3 1-6-1-4zM775 219l-4 3-1 6 1 5 4 2 4-1 2-6-1-8zM795 158l-4 7 3 8 5 1 4-9-4-7zM819 88l-4 1-1 8 1 6 4 1 4-3 1-4-1-6zM839 9l-4 3-1 6 1 4 4 3 4-1 1-6-1-8zM859 322l-4 9 4 7 4 0 4-7-3-8zM883 271l-4 3-2 6 2 7 4 2 4-4 1-5-1-5zM903 215l-4 3-1 6 1 5 4 2 4-1 1-6-1-8zM923 151l-4 6 0 4 4 5 4 0 3-5 0-4-3-6zM947 78l-4 2-2 5 1 8 5 2 4-4 1-6-1-4zM692 399l-4 3-1 5 1 4 4 1 4-1 0-8zM715 545l-4-1-2 2-2 4 1 7 3 2 5-1zM731 524l-4 6 3 8 5 1 4-9-4-6zM755 499l-4 1-1 6 1 8 4 1 4-3 1-6-1-4zM775 472l-4 3-1 7 2 4 3 2 4-1 1-13zM795 441l-4 9 4 7 4 0 4-7-3-8zM819 406l-4 2-1 7 1 6 4 2 4-3 1-5-1-6zM839 366l-4 4-1 5 1 5 4 4 4-2 2-7-2-6zM688 565l-1 8 5 5 4-5 0-6-4-2z"/>
<path fill="#767676" d="M1040-20l0 770-1060 0 0-27 173 0 48-7 78-20 50-15 39-16 60-30 40-16 16-1 20 5 1-184 3-7 3 7 1 95 3 4 1 31 3 4 1 16 3 4 1 8 8 14 4 3 2-1 25-55 25-43 10-21 14-36 12-38 18-81 4-12 1-8-1-11 5-36 19-123 20-91 18-60 0-22 254 0 0 26 1 4 4 2 5-2 0-30zM715 184l-4 1-3 3-1 4 4 4 5-4zM731 121l0 12 4 0 1-12zM751 49l0 10 4 3 4-4 0-5-4-4zM775 219l-4 3-1 6 1 5 4 3 4-2 2-6-1-8zM795 158l-4 6 0 3 4 7 4 0 4-9-4-7zM819 88l-5 1-1 8 2 6 4 1 4-2 1-5-1-7zM839 8l-4 3-1 7 1 5 4 3 4-2 2-6-2-8zM859 322l-4 9 4 7 4 0 4-6 0-3-4-7zM883 271l-4 2-2 7 2 7 4 2 4-3 1-6-1-6zM903 215l-4 3-1 6 1 5 4 3 4-2 2-6-2-8zM923 151l-4 6 0 4 4 6 4 0 4-6 0-4-4-6zM947 77l-4 2-2 6 1 8 5 2 4-3 1-7-1-5zM692 398l-4 3-1 6 1 5 4 2 4-3 0-4 0-5zM711 362l-3 3-2 6 2 5 3 3 4-2 2-6-1-8zM731 321l-4 6 1 4 3 6 4 0 4-6 1-4-5-6zM755 273l-4 1-1 6 1 8 4 1 4-2 1-7-1-5zM775 472l-4 2-1 4 1 8 4 2 5-2 1-8-2-5zM795 441l-3 5-1 4 4 7 4 0 4-6 0-3-4-7zM819 406l-4 1-2 8 2 6 4 2 4-3 1-5-1-6zM839 366l-4 3-1 6 1 6 4 3 4-2 2-7-2-7zM692 563l-4 2-1 4 1 6 4 3 4-4 0-5 0-4zM711 544l-3 2-2 8 2 3 3 3 4-1 2-5 0-8zM731 523l-4 6 0 3 4 7 4 0 4-5 1-4-5-7zM755 499l-4 1-1 6 1 8 4 2 4-3 1-7-1-5z"/>
<path fill="#7a7a7a" d="M1040-20l0 770-1060 0 0-27 173 1 28-4 85-20 64-19 39-16 59-30 40-16 16-1 20 6 1-185 3-6 3 6 0 95 4 8 0 27 3 4 2 16 3 4 1 8 8 14 4 4 3-2 22-51 27-46 11-22 17-45 8-27 17-79 6-16 1-8-1-11 19-135 20-100 11-39 11-36 0-22 253 0 0 26 2 4 4 3 4-1 1-2 0-30zM711 183l-3 2-1 4 1 4 3 4 4-4 1-4-1-5zM731 120l-1 5 1 8 4 0 1-12zM751 49l0 13 4 0 4-4 0-6-4-3zM775 218l-4 3-1 7 1 5 4 3 4-2 2-6-1-8zM795 157l-4 6 0 6 4 5 4 0 4-5 1-4-5-8zM819 87l-5 2-1 8 2 6 4 2 4-3 1-5-1-7zM839 8l-4 3-1 7 1 5 4 3 4-2 2-6-1-8zM859 322l-4 5 0 4 4 8 4 0 4-6 0-6-4-5zM883 271l-4 2-2 7 2 8 4 1 4-3 1-6-1-6zM903 214l-4 3-1 7 1 5 4 3 4-2 2-6-1-8zM923 151l-4 5-1 5 5 6 4 0 4-6 0-4-4-6zM947 77l-4 2-2 6 1 8 5 2 4-3 1-7-1-5zM692 398l-4 3-1 6 1 5 4 3 4-4 0-4 0-5zM711 361l-3 3-2 7 2 5 3 3 4-1 2-7-1-8zM731 321l-4 5 0 5 4 6 4 0 4-5 1-5-5-6zM755 272l-4 2-2 6 1 8 5 2 4-3 2-7-2-5zM775 472l-4 2-1 4 1 8 4 3 6-3 0-8-2-6zM795 441l-4 5 0 4 4 8 4 0 4-6 0-6-4-5zM819 405l-4 2-2 8 2 7 4 2 4-3 1-6-1-7zM839 366l-4 3-1 6 1 6 4 3 4-1 2-8-2-7zM692 562l-4 2-1 5 1 6 4 3 4-4 0-5 0-4zM711 543l-4 3-1 8 2 4 3 2 4-1 2-5 0-8zM731 523l-4 5 0 6 4 5 4 0 4-5 1-4-5-7zM755 498l-4 2-2 6 1 8 5 2 4-3 2-7-2-5z"/>
<path fill="#7e7e7e" d="M1040-20l0 770-1060 0 0-27 173 1 30-4 84-20 64-19 38-16 59-29 40-16 16-2 20 6 1-185 3-6 3 6 0 95 4 8 0 27 4 8 1 12 3 4 1 8 3 4 1 4 8 10 3-2 23-51 26-45 11-23 17-44 12-41 14-66 6-13 1-11-1-11 5-48 21-123 16-76 19-63 0-22 252 0 0 26 2 5 4 2 4-1 1-2 1-30zM731 120l-2 5 2 8 4 1 3-9-3-5zM751 49l0 13 4 0 4-3 0-8-4-3zM775 218l-4 3-1 7 1 5 4 3 4-1 3-7-2-8zM795 157l-4 5 0 7 4 5 4 0 4-5 1-4-5-8zM819 87l-5 2-1 8 2 7 4 1 4-3 2-5-2-8zM839 8l-4 3-1 7 1 5 4 3 4-1 2-7-1-8zM859 322l-4 5-1 4 5 8 4 0 4-5 0-7-4-5zM883 271l-4 1-2 8 2 8 4 1 4-3 1-6-1-6zM903 214l-4 3-2 7 2 6 4 2 4-1 2-7-1-8zM923 150l-4 6-1 5 5 6 4 0 4-5 0-5-4-7zM947 77l-4 2-3 6 2 8 5 2 4-2 1-8-1-5zM692 398l-4 2-2 7 2 6 4 2 4-3 0-5 0-6zM711 182l-3 2-1 5 1 4 3 4 4-3 1-5-1-6zM731 320l-4 5 0 6 4 6 4 0 4-5 1-5-5-7zM755 272l-4 1-2 7 1 8 5 2 4-2 2-8-2-5zM775 471l-4 3-1 4 1 8 4 3 4-1 2-2 0-8-2-6zM795 441l-4 5 0 4 4 8 4 0 4-6 0-6-4-5zM819 405l-4 2-2 8 2 7 4 2 4-3 2-6-2-7zM839 366l-4 3-1 6 1 6 4 3 4-1 2-8-2-8zM692 561l-4 3-2 5 2 7 4 2 4-3 0-6 0-4zM711 361l-3 3-2 7 2 6 3 3 4-2 3-7-2-8zM731 522l-4 6 0 6 4 6 4 0 4-6 1-4-5-8zM755 498l-4 1-2 7 1 8 5 2 4-2 2-8-2-5zM711 543l-4 3-1 8 2 4 3 2 4 0 3-6-1-8-2-2z"/>
<path fill="#818181" d="M1040-20l0 770-1060 0 0-26 173 0 32-4 83-20 63-19 39-16 58-29 40-16 16-1 20 5 1-185 3-6 3 6 0 95 4 8 0 27 4 8 0 12 4 4 1 8 3 8 9 11 4-3 23-51 25-44 12-24 16-44 12-39 15-68 5-12 2-12-2-8 1-15 21-135 20-96 20-67 0-22 251 0 0 26 2 5 4 3 4-2 1-2 1-30zM711 180l-3 4-1 5 1 5 3 3 4-2 2-6-2-6zM731 119l-3 6 1 4 2 5 4 0 4-9-4-5zM755 48l-5 2 1 12 4 1 5-5-1-8zM775 218l-4 2-1 8 1 6 4 3 4-2 3-7-1-8zM795 156l-4 6 0 7 4 6 4 0 4-6 1-4-4-8zM819 87l-5 2-1 8 2 7 4 1 4-2 2-6-2-8zM839 8l-4 2-2 8 2 6 4 3 4-2 3-7-2-8zM859 321l-4 6-1 4 5 8 4 1 4-6 0-7-4-6zM883 270l-4 2-3 8 2 8 5 2 4-3 2-7-2-7zM903 214l-4 2-2 8 2 6 4 3 4-2 2-7-1-8zM923 150l-4 5-1 6 5 7 4 0 4-5 0-6-4-7zM947 77l-4 1-3 7 2 8 5 3 4-3 1-8-1-6zM692 236l-4 4 0 8 4 0 4-3 0-5zM711 361l-3 3-2 7 2 6 3 3 4-2 3-7-2-8zM731 320l-4 5 0 6 4 7 4 0 4-5 1-6-5-7zM755 272l-4 1-2 7 1 8 5 2 5-2 1-8-2-6zM775 471l-4 2-1 5 1 8 4 3 4-1 2-2 1-8-3-6zM795 440l-4 5-1 5 5 8 4 0 4-5 1-7-5-6zM819 405l-4 2-3 8 3 8 4 1 4-3 2-6-2-7zM839 365l-4 3-2 7 2 7 4 3 4-2 3-8-3-8zM692 398l-4 1-2 8 2 6 4 2 4-3 1-5-1-6zM711 543l-4 3-1 8 2 4 3 3 4-1 3-6-1-8-2-2zM731 522l-4 5 0 7 4 6 4 0 4-5 1-5-5-8zM755 498l-4 1-2 7 1 8 5 2 4-2 2-8-2-6zM692 561l-4 2-2 6 2 8 4 2 4-4 1-6-1-5z"/>
<path fill="#858585" d="M1040-20l0 770-1060 0 0-26 173 1 34-5 82-20 52-15 41-16 59-29 47-19 16-2 20 6 1-8 0-178 3-6 3 6 0 95 4 8 0 27 4 8 0 12 3 4 1 8 4 8 9 11 4-1 4-6 3-12 18-39 24-40 12-24 16-44 11-36 15-71 6-12 2-12-2-8 1-11 20-135 20-100 20-67 0-22 251 0 0 26 2 5 4 3 4-1 2-7 0-26zM711 180l-3 3-2 6 2 5 3 4 4-2 2-7-2-7zM731 119l-4 6 1 4 3 5 4 0 4-5 0-4-4-6zM755 47l-4 1-1 6 0 8 5 1 4-3 1-6-1-4zM775 218l-4 2-2 8 2 6 4 3 4-2 3-7-1-8zM795 156l-4 5 0 8 4 6 4 0 4-5 1-5-4-8zM819 86l-6 3-1 8 3 7 4 2 4-3 2-6-2-8zM839 7l-4 3-2 8 2 6 4 3 4-2 3-7-2-8zM859 321l-4 5-1 5 4 8 5 1 4-5 0-8-4-6zM883 270l-4 2-3 8 2 8 5 2 4-3 2-7-2-7zM903 214l-4 2-2 8 2 6 4 3 4-2 3-7-2-8zM923 150l-4 5-1 6 5 7 4 0 4-5 0-6-4-7zM947 76l-4 2-3 7 1 8 6 3 4-3 2-8-2-6zM692 236l-4 2-1 6 1 5 4 0 4-2 0-3 0-5zM711 361l-3 2-2 8 2 6 3 3 4-1 3-8-1-8zM731 319l-4 5 0 7 4 7 4 0 4-5 1-6-5-8zM755 271l-4 2-3 7 2 8 1 2 4 1 5-3 1-8-2-6zM775 470l-4 3-2 5 2 8 4 4 4-1 2-3 1-8-3-6zM795 440l-4 5-1 5 5 8 4 1 4-5 1-8-5-6zM819 405l-5 2-2 8 3 8 4 1 4-2 2-7-2-8zM839 365l-4 3-2 7 2 7 4 3 5-2 2-8-2-8zM692 397l-4 2-3 8 3 7 4 2 4-3 1-6-1-6zM711 542l-4 4-1 8 2 5 3 2 4-1 3-6-1-8-2-3zM731 522l-4 5 0 7 4 6 4 0 4-5 1-5-4-8zM755 497l-4 2-3 7 2 8 5 3 5-3 1-8-2-6zM692 561l-4 2-2 6 2 8 4 2 4-3 1-7-1-5z"/>
<path fill="#898989" d="M1040-20l0 770-1060 0 0-25 173 0 36-5 81-20 63-19 39-16 60-30 36-14 16-2 20 6 1-8 1-178 2-5 3 5 0 95 4 8 0 27 4 8 0 12 3 4 1 8 5 10 8 10 4-1 4-7 5-16 17-35 36-64 18-52 12-43 12-56 6-12 2-12-3-8 1-11 19-131 21-100 8-31 13-40 0-22 250 0 0 26 2 6 4 2 4-1 3-7 0-26zM711 180l-3 3-2 6 2 6 3 3 5-2 1-7-2-7zM731 119l-4 5 0 5 4 6 4 0 4-6 1-4-5-6zM755 47l-4 1-2 6 1 8 5 2 4-3 1-7-1-5zM775 217l-4 3-2 8 2 6 4 3 4-1 3-8-1-8zM795 156l-4 5-1 8 5 6 4 0 4-5 1-5-4-8zM819 86l-4 1-2 2-1 8 3 7 4 2 4-3 2-6-1-8zM839 7l-4 3-2 8 2 6 4 3 4-1 3-8-1-8zM859 321l-4 5-1 5 4 8 5 1 4-5 1-8-5-6zM883 270l-5 2-2 8 2 8 5 2 4-3 2-7-2-7zM903 213l-5 3-1 8 2 6 4 3 4-1 3-8-1-8zM923 149l-4 5-1 7 5 7 4 0 4-4 1-7-5-8zM947 76l-4 2-4 7 2 8 6 3 4-3 2-8-2-6zM668 430l-1 12 5 1 0-12zM692 235l-4 2-2 7 2 5 4 2 4-3 0-4 0-5zM711 360l-4 3-2 8 3 7 3 2 5-1 3-8-2-8zM731 319l-4 5 0 7 4 7 4 0 4-4 1-7-4-8zM755 271l-4 2-3 7 1 8 2 2 4 1 5-3 1-8-2-6zM775 470l-4 3-2 5 1 8 5 4 4-1 2-3 1-8-3-7zM795 440l-4 5-1 5 4 8 5 1 4-5 1-8-5-6zM819 404l-5 3-2 8 3 8 4 2 4-3 2-7-2-8zM839 365l-4 3-2 7 2 7 4 3 5-2 2-8-2-8zM692 397l-5 2-2 8 3 8 4 1 4-3 1-6-1-7zM711 542l-4 4-1 8 2 5 3 3 4-2 3-6 0-8-3-3zM731 521l-4 5 0 8 4 6 4 0 4-4 1-6-4-8zM755 497l-4 2-3 7 2 8 1 2 4 1 5-3 1-8-2-6zM692 561l-4 1-3 7 2 8 5 2 4-3 1-7-1-5z"/>
<path fill="#8d8d8d" d="M1040-20l0 770-1060 0 0-25 173 0 38-5 81-20 51-15 49-20 60-30 36-14 16-1 20 5 2-8 0-178 2-5 3 5 0 95 4 8 0 27 4 8 0 12 3 4 1 8 9 16 4 4 4 0 5-8 5-16 16-35 37-64 21-63 12-46 8-42 7-12 1-12-2-8 0-7 19-131 21-104 8-31 13-40 0-22 249 0 0 26 3 6 4 3 4-2 3-7 0-26zM711 180l-3 3-2 6 2 6 3 3 5-2 2-7-3-8zM731 118l-4 5 0 6 4 6 4 0 4-5 1-5-5-7zM755 46l-4 1-2 7 1 8 5 2 4-2 2-8-2-5zM775 217l-4 3-2 8 2 7 4 2 4-1 4-8-2-8-2-2zM795 156l-4 5-1 8 5 6 4 0 4-4 1-6-4-8zM819 86l-4 1-2 2-1 8 3 8 4 1 4-2 2-7-1-8zM839 7l-4 3-2 8 2 7 4 2 4-1 4-8-2-8zM859 321l-4 4-1 6 4 8 5 1 4-5 1-8-5-6zM883 270l-5 2-3 8 3 8 5 2 4-2 2-8-2-8zM903 213l-5 3-1 8 2 7 4 2 4-1 3-8-1-8-2-2zM923 149l-4 4-1 8 5 8 4 0 4-5 1-7-5-8zM947 76l-5 1-3 8 2 8 6 3 4-3 2-8-2-6zM668 430l-3 9 3 5 4 0 2-5-2-8zM692 235l-5 1-1 8 2 6 4 2 4-3 0-5 0-6zM711 360l-4 3-2 8 3 7 3 3 5-2 3-8-2-8zM731 319l-4 4-1 8 5 7 4 0 4-4 2-7-5-8zM755 271l-4 1-3 8 1 8 2 2 4 1 5-3 2-8-3-6zM775 470l-4 2-2 6 1 8 5 4 4-1 3-3 1-8-4-7zM795 440l-4 4-1 6 4 8 5 1 4-5 1-8-5-6zM819 404l-5 3-2 8 2 8 5 2 4-3 2-7-2-8zM839 365l-4 2-2 8 2 8 4 2 5-2 3-8-3-8zM668 580l-1 9 1 2 4 0 0-10 0-1zM692 397l-5 2-2 8 2 8 5 1 4-3 1-6-1-7zM711 542l-5 4-1 8 3 5 3 3 4-1 4-7-1-8-3-3zM731 521l-4 5-1 8 5 7 4 0 4-5 2-6-5-8zM755 497l-4 1-3 8 1 8 2 2 4 1 5-3 2-8-3-6zM692 560l-4 2-3 7 2 8 5 2 4-3 1-7-1-6z"/>
<path fill="#919191" d="M1040-20l0 770-1060 0 0-25 173 1 39-6 81-20 51-15 49-20 59-30 36-13 16-2 20 6 2-9 0-178 2-5 3 5 0 95 4 8 0 27 4 8 0 12 3 4 1 8 9 16 4 4 4 2 5-10 5-16 17-35 36-64 25-74 17-77 7-12 1-12-3-8 1-7 19-131 20-100 9-35 13-40 0-22 248 0 0 26 3 6 4 3 4-1 3-8 0-26zM731 118l-4 5 0 6 4 6 4 0 4-5 1-5-5-7zM755 46l-4 1-2 7 1 8 1 1 4 1 5-2 1-8-2-6zM775 217l-5 3-1 8 2 7 4 3 4-2 4-8-2-8-2-2zM795 155l-4 6-1 8 5 7 4 0 4-5 2-6-4-8zM819 86l-4 1-2 2-2 8 4 8 4 1 4-2 3-7-2-8zM839 7l-5 3-1 8 2 7 4 2 4-1 4-8-2-8-2-2zM859 320l-4 5-1 6 3 8 6 2 4-6 1-8-5-7zM883 270l-5 2-3 8 2 8 6 2 4-2 2-8-2-8zM903 213l-5 3-2 8 3 7 4 3 4-2 4-8-2-8-2-2zM923 149l-4 4-2 8 2 4 4 4 4 0 4-4 1-8-1-4-4-4zM947 76l-5 1-3 8 2 8 2 3 4 1 4-4 2-8-2-7zM668 430l-4 9 4 6 4 0 3-6-2-8zM692 235l-5 1-1 8 2 6 4 2 4-3 1-5-1-6zM711 179l-3 3-2 7 2 7 3 3 5-3 2-7-3-8zM731 319l-4 4-1 8 5 8 4 0 4-4 2-8-5-8zM755 271l-4 1-3 8 1 8 2 2 4 2 5-4 2-8-3-7zM775 470l-4 2-2 6 1 8 5 5 4-2 3-3 1-8-4-7zM795 439l-4 5-1 6 4 8 5 1 5-5 0-8-5-7zM819 404l-5 3-3 8 3 8 5 2 4-3 3-7-3-8zM839 365l-4 2-2 8 2 8 4 3 5-3 3-8-3-8zM668 579l-3 6 3 8 4 0 2-8-2-6zM692 397l-5 2-3 8 3 8 5 1 4-2 1-7-1-8zM711 360l-4 3-2 8 3 7 3 3 5-2 3-8-2-8zM731 521l-4 5-1 8 5 7 4 0 4-4 2-7-4-8zM755 497l-4 1-3 8 1 8 2 2 4 1 5-3 2-8-3-7zM692 560l-5 2-2 7 2 8 5 3 4-3 1-8-1-6zM711 541l-5 5-1 8 3 6 3 2 4-1 4-7-1-8-3-3z"/>
<path fill="#959595" d="M1040-20l0 770-1060 0 0-25 173 1 40-6 80-19 52-16 48-20 59-29 36-14 16-2 20 6 2-9 0-178 2-5 3 5 0 95 4 8 0 27 4 8 0 12 3 4 1 8 9 16 8 7 27-62 37-64 24-72 18-79 6-12 1-12-2-8 0-7 19-131 20-100 11-39 11-36 0-22 248 0 0 26 3 7 4 2 4-1 4-8-1-26zM731 117l-4 5 0 7 4 7 4 0 4-5 1-6-5-8zM755 45l-4 2-3 7 1 8 2 2 4 1 5-3 1-8-2-6zM775 216l-5 4-1 8 2 7 4 3 5-2 3-8-1-8-3-3zM795 155l-5 6 0 8 5 7 4 0 4-4 2-7-4-8-2-2zM819 85l-4 1-2 3-2 8 4 8 4 2 4-3 3-7-2-8zM839 6l-5 4-2 8 3 7 4 3 5-2 3-8-2-8-2-3zM859 320l-4 4-2 7 4 8 6 2 5-6 0-8-5-7zM883 269l-5 3-3 8 2 8 6 3 4-3 2-8-2-8zM903 213l-5 3-2 8 3 7 4 3 4-2 4-8-2-8-2-2zM923 149l-4 4-2 8 5 8 5 0 4-4 1-8-1-4-4-4zM947 75l-5 2-3 8 1 8 3 3 4 1 5-4 1-8-2-7zM668 283l-2 9 2 4 4 0 0-12zM692 234l-5 2-2 8 3 7 4 2 4-3 1-6-1-7zM711 179l-3 3-3 7 3 7 3 3 6-3 2-7-3-8zM731 318l-4 5-1 8 5 8 4 0 4-4 2-8-4-8zM755 270l-4 2-4 8 2 8 2 3 4 1 6-4 1-8-3-7zM775 469l-4 3-2 6 1 8 5 5 4-1 3-4 1-8-4-7zM795 439l-4 4-1 7 4 8 5 2 5-6 1-8-6-7zM819 404l-6 3-2 8 3 8 5 2 4-2 3-8-2-8zM839 364l-4 3-3 8 3 8 4 3 6-3 2-8-2-8zM668 429l-5 10 5 7 4-1 4-8-3-6zM692 396l-6 3-2 8 3 8 5 2 4-3 2-7-2-8zM711 360l-4 3-2 8 3 8 3 2 5-2 4-8-2-8-3-2zM731 521l-4 5-1 8 5 7 4 0 4-4 2-7-4-8zM755 496l-4 2-4 8 2 8 2 3 4 1 5-4 2-8-3-7zM668 577l-4 8 3 8 5 0 3-8-3-8zM692 560l-5 2-3 7 2 8 6 3 4-3 2-8-2-6zM711 541l-5 5-1 8 3 6 3 2 4-1 4-7-1-8-3-4z"/>
<path fill="#999999" d="M1040-20l0 770-1060 0 0-24 173 0 40-5 80-20 53-16 47-20 59-29 36-14 16-1 20 5 2-9 0-178 2-4 2 4 1 95 4 8 0 27 4 8 0 12 3 4 1 8 9 16 8 8 28-63 37-64 3-12 12-32 8-27 18-80 7-12 1-8-2-19 18-127 21-104 10-39 12-36 0-22 247 0 0 26 3 7 4 2 4-1 4-8 0-26zM731 117l-4 4-1 8 5 7 4 0 4-4 1-7-4-8zM755 45l-4 1-3 8 1 8 2 2 4 1 5-3 1-8-2-6zM775 216l-5 4-2 8 3 8 4 2 5-2 4-8-2-8-3-3zM795 155l-5 6 0 8 5 7 4 0 4-4 2-7-4-8-2-2zM819 85l-4 1-3 3-1 8 4 8 4 2 4-3 3-7-1-8zM839 6l-5 4-2 8 3 8 4 2 5-2 3-8-2-8-2-3zM859 320l-4 4-2 7 4 8 2 2 4 0 5-6 0-8-5-7zM883 269l-6 3-2 8 2 8 6 3 5-3 2-8-3-8zM903 212l-5 4-2 8 3 8 4 2 5-2 3-8-2-8-2-3zM923 148l-5 5-1 8 5 8 5 0 4-4 1-8-5-8zM947 75l-5 2-4 8 2 8 3 3 4 1 5-4 1-8-2-7zM668 283l-4 5-1 4 5 5 4 0 2-5-2-8zM692 234l-6 2-1 8 3 7 4 2 4-3 1-6-1-8zM711 179l-3 2-3 8 2 7 4 3 6-3 2-7-3-8zM731 318l-4 5-1 8 1 4 4 4 4 0 4-4 2-8-4-8zM755 270l-4 2-4 8 2 8 2 3 4 1 6-4 1-8-3-7zM775 469l-4 3-2 6 1 8 5 5 4-1 3-4 1-8-4-8zM795 439l-4 4-2 7 4 8 2 2 4 0 5-6 1-8-6-7zM819 404l-6 3-2 8 3 8 5 2 4-2 3-8-2-8zM839 364l-4 3-3 8 2 8 5 3 6-3 2-8-2-8zM668 429l-4 5-1 5 5 7 4 0 4-6 0-5-4-6zM692 396l-6 3-2 8 2 8 6 2 4-3 2-7-2-8zM711 359l-5 4-1 8 3 8 3 2 6-2 3-8-2-8-3-3zM731 520l-4 6-1 8 5 7 4 0 4-3 2-8-4-8-2-2zM755 496l-4 2-4 8 2 8 2 3 4 1 6-4 1-8-3-7zM668 577l-4 9 3 7 5 1 4-10-4-7zM692 560l-5 2-3 7 2 8 6 3 4-3 2-8-2-7zM711 541l-5 5-1 8 3 6 3 3 4-2 5-7-2-8-3-4z"/>
<path fill="#9d9d9d" d="M1040-20l0 770-1060 0 0-24 173 1 40-6 80-20 53-16 47-19 52-26 43-18 16-1 20 6 2-10 0-175 2-7 3 7 0 92 3 8 1 27 3 8 1 12 3 4 1 8 9 16 9 8 27-63 38-64 2-12 12-32 9-27 18-80 6-12 1-8-2-19 19-127 20-104 11-39 11-36 0-22 247 0 0 26 3 7 4 3 4-2 4-8 0-26zM731 116l-4 5-1 8 5 7 4 0 4-4 2-7-5-8zM755 45l-4 1-3 8 1 8 2 2 4 1 5-3 2-8-3-7zM775 216l-5 4-2 8 3 8 4 2 5-2 4-8-2-8-3-3zM795 155l-5 6 0 8 5 7 4 0 4-3 2-8-3-8-3-2zM819 85l-4 1-3 3-1 8 3 8 5 2 4-2 3-8-1-8zM839 6l-5 4-2 8 3 8 4 2 5-2 4-8-2-8-3-3zM859 320l-4 3-2 8 4 8 2 2 4 0 5-6 1-8-2-4-4-3zM883 269l-6 3-3 8 3 8 2 2 4 1 5-3 2-8-3-8zM903 212l-6 4-1 8 3 8 4 2 5-2 3-8-1-8-3-3zM923 148l-5 5-1 8 4 8 6 1 4-5 2-8-5-8zM947 75l-6 2-3 8 2 8 3 3 4 1 5-4 2-8-3-8zM668 282l-5 6 0 4 5 5 4 0 3-5 0-4-3-6zM692 233l-6 3-2 8 4 8 4 1 4-3 2-6-2-8zM711 178l-3 3-3 8 2 7 4 3 6-3 2-7-3-8zM731 318l-5 5 0 8 1 5 4 3 4 1 5-5 1-8-4-8-2-1zM755 270l-4 2-4 8 1 8 3 3 4 1 6-4 1-8-3-8zM775 469l-4 2-3 7 1 8 6 5 4-1 3-4 2-8-5-8zM795 439l-4 3-2 8 4 8 2 2 4 0 5-6 1-8-2-4-4-3zM819 403l-4 1-2 3-2 8 2 8 6 3 5-3 2-8-2-8zM839 364l-5 3-2 8 2 8 5 3 6-3 3-8-3-8zM668 429l-4 5-1 5 4 7 5 1 4-6 0-6-4-6zM692 396l-6 3-3 8 3 8 6 2 4-2 2-8-2-8zM711 359l-5 4-2 8 3 8 4 3 6-3 3-8-2-8-3-3zM731 520l-5 6 0 8 1 4 4 4 4 0 5-4 1-8-3-8-3-2zM755 496l-5 2-3 8 2 8 2 3 4 1 6-4 1-8-3-8zM668 577l-4 6 0 5 4 6 4 0 4-6 0-5-4-6zM692 559l-5 3-3 7 2 8 6 3 4-3 2-8-2-7zM711 541l-5 5-1 8 3 7 3 2 5-1 4-8-1-8-4-4z"/>
<path fill="#a1a1a1" d="M1040-20l0 770-1060 0 0-24 173 1 40-6 80-19 54-17 46-19 55-28 40-15 16-2 20 6 2-10 0-175 2-7 2 7 0 92 4 8 0 27 4 8 1 12 2 4 2 8 9 17 8 8 1-1 28-63 37-64 3-12 12-32 8-27 18-80 7-12 0-8-1-19 18-127 21-102 10-41 12-36 0-22 246 0-1 26 4 7 4 3 4-2 4-8 0-26zM731 116l-4 5-1 8 1 4 4 4 4 0 4-4 2-8-4-8zM755 44l-4 2-4 8 2 8 2 3 4 1 6-4 1-8-3-7zM775 216l-6 4-1 8 3 8 4 3 6-3 3-8-2-8-3-3zM795 154l-5 7-1 8 2 4 4 4 4 0 4-4 2-8-3-8-3-3zM819 84l-4 2-3 3-2 8 4 8 5 2 4-2 3-8-1-8zM839 6l-6 4-1 8 3 8 4 2 6-2 3-8-2-8-3-3zM859 319l-4 4-2 8 3 8 3 3 4 0 5-7 1-8-2-4-4-4zM883 269l-6 3-3 8 2 8 3 2 4 1 5-3 2-8-2-8zM903 212l-6 4-1 8 3 8 4 3 5-3 3-8-1-8-3-3zM923 148l-5 5-1 8 4 8 6 1 5-5 1-8-5-8zM947 75l-6 2-3 8 2 8 3 4 4 1 5-5 2-8-3-8zM648 458l-4 4 0 4 4 4 1 0 3-6 0-6zM668 282l-6 6 0 4 6 6 4 0 4-6 0-4-4-6zM692 233l-6 3-2 8 3 8 5 2 4-3 2-7-2-8zM711 178l-4 3-2 8 2 7 4 4 6-4 3-7-3-8zM731 318l-5 5-1 8 2 4 4 4 4 1 5-5 2-8-4-8-3-1zM755 270l-5 2-3 8 1 8 3 4 4 1 6-5 1-8-3-8zM775 469l-4 2-3 7 1 8 6 6 4-2 4-4 1-8-4-8zM795 438l-4 4-2 8 4 8 2 2 4 0 5-6 1-8-2-4-4-3zM819 403l-4 1-2 3-3 8 3 8 6 3 5-3 2-8-2-8zM839 364l-5 3-2 8 2 8 5 3 4-1 2-2 3-8-3-8-2-2zM668 428l-4 5-1 6 4 7 5 1 4-5 0-7-4-7zM692 396l-4 1-3 2-2 8 3 8 6 3 4-3 2-8-2-8zM711 359l-5 4-2 8 3 8 4 3 6-3 3-8-2-8-3-3zM731 520l-5 6-1 8 2 4 4 4 4 0 5-4 2-8-4-8-3-2zM755 496l-5 2-3 8 1 8 3 3 4 2 6-5 1-8-3-8zM668 576l-4 6 0 7 4 5 4 0 4-5 0-7-4-6zM692 559l-6 3-3 7 3 8 6 4 4-4 2-8-2-7zM711 540l-6 6-1 8 4 7 3 2 5-1 4-8-1-8-4-5z"/>
<path fill="#a5a5a5" d="M1040-20l0 770-1060 0 0-23 173 0 40-5 80-20 55-17 45-19 55-27 40-16 16-2 20 6 2-10 0-175 2-7 2 7 0 92 4 8 0 27 4 8 1 12 2 4 2 8 9 17 8 8 2-1 28-63 37-64 2-12 12-32 10-31 16-72 8-20-2-23 19-126 20-101 10-39 13-40 0-22 244 0 1 30 3 4 4 2 5-2 3-8 0-26zM731 116l-4 5-1 8 1 4 4 4 4 0 5-4 1-8-4-8zM755 44l-4 2-4 8 1 8 3 3 4 1 6-4 1-8-3-7zM775 215l-6 5-1 8 3 8 4 3 6-3 3-8-2-8-3-4zM795 154l-5 7-1 8 2 4 4 4 4 0 5-4 1-8-3-8-3-3zM819 84l-4 1-3 4-2 8 4 8 5 3 4-3 3-8-1-8zM839 5l-6 5-1 8 2 8 5 3 6-3 3-8-2-8-3-4zM859 319l-5 4-1 8 3 8 3 3 4 0 5-7 1-8-2-4-4-4zM883 268l-4 1-2 3-3 8 2 8 3 3 4 1 5-4 2-8-2-8zM903 211l-6 5-2 8 3 8 5 3 5-3 4-8-2-8-3-3zM923 147l-5 6-1 8 4 8 6 1 5-5 1-8-4-8zM947 75l-6 2-3 8 2 8 3 4 4 1 5-5 2-8-3-8zM648 457l-4 3-1 6 3 4 6 1 0-13zM668 281l-7 7 1 4 6 7 4 0 4-6 0-5-4-7zM692 233l-4 1-3 2-2 8 4 8 5 2 4-3 2-7-2-8zM711 178l-4 3-3 8 2 7 5 4 4-1 3-3 2-7-3-8zM731 317l-5 6-1 8 2 4 3 4 5 1 5-5 2-8-4-8-3-2zM755 269l-5 3-4 8 2 8 3 4 4 1 6-5 2-8-4-8zM775 468l-4 3-3 7 1 8 6 6 4-1 4-5 1-8-4-8zM795 438l-4 4-2 8 3 8 3 3 4 0 6-7 0-8-1-4-4-3zM819 403l-4 1-3 3-2 8 3 8 2 2 4 1 5-3 2-8-1-8zM839 363l-5 4-2 8 2 8 5 4 4-1 3-3 2-8-2-8-3-3zM668 428l-4 4-2 7 4 7 6 1 4-5 0-7-4-7zM692 395l-4 1-3 3-2 8 3 8 6 3 4-3 3-8-2-8zM711 359l-5 4-2 8 3 8 4 3 7-3 2-8-2-8-3-3zM731 520l-5 6-1 8 2 4 4 4 4 0 5-4 2-8-4-8-3-2zM755 495l-5 3-4 8 2 8 3 4 4 1 6-5 2-8-3-8zM668 576l-5 5 0 8 5 6 4 0 4-6 0-8-4-5zM692 559l-6 3-3 7 2 8 3 3 4 1 4-4 2-8-2-7zM711 540l-6 6-1 8 4 7 3 2 4-1 4-4 1-8-4-8z"/>
<path fill="#a9a9a9" d="M1040-20l0 770-1060 0 0-23 173 0 40-5 80-20 56-17 39-16 60-30 40-16 16-1 20 5 2-10 0-175 2-7 2 7 0 92 4 8 0 27 4 8 0 12 8 20 10 14 4 3 3-1 5-8 4-16 20-43 24-42 10-14 4-16 12-32 10-35 15-68 8-20-1-23 4-20 1-24 13-79 20-102 10-41 13-40 0-22 244 0 1 30 3 4 4 2 5-2 4-8 0-26zM731 115l-5 6-1 8 2 4 4 4 4 0 5-4 1-8-4-8zM755 44l-4 2-4 8 1 8 3 3 4 1 6-4 1-8-3-8zM775 215l-6 5-1 8 3 8 4 3 6-3 3-8-1-8-4-4zM795 154l-6 7 0 8 1 4 4 4 5 0 5-4 2-8-3-8-4-3zM819 84l-4 1-3 4-2 8 3 8 6 3 5-3 3-8-2-8zM839 5l-6 5-1 8 2 8 5 3 6-3 3-8-2-8-3-4zM859 319l-5 4-2 8 4 8 3 3 4 0 6-7 0-8-1-4-4-4zM883 268l-4 1-3 3-2 8 2 8 3 3 4 1 6-4 1-8-2-8zM903 211l-6 5-2 8 3 8 5 3 6-3 3-8-2-8-3-4zM923 147l-6 6-1 8 4 8 3 1 4 0 5-5 1-8-4-8-2-2zM947 74l-6 3-3 8 1 8 4 4 4 1 6-5 1-8-2-8zM648 457l-4 2-1 3 1 7 4 3 4-2 1-8-1-5zM668 281l-5 3-2 4 0 4 7 7 4 0 4-5 0-6-4-7zM692 232l-4 1-3 3-2 8 3 8 6 2 4-2 2-8-1-8zM711 178l-4 3-3 8 2 7 5 4 4-1 3-3 2-7-3-8zM731 317l-5 6-1 8 5 8 5 1 5-5 2-8-4-8-3-2zM755 269l-5 3-4 8 2 8 3 4 4 1 7-5 1-8-3-8zM775 468l-4 2-3 8 1 8 2 4 4 2 4-1 4-5 1-8-4-8zM795 438l-5 4-1 8 3 8 3 3 4 0 6-7 0-8-1-4-4-3zM819 403l-4 1-3 3-2 8 2 8 3 2 4 1 5-3 3-8-2-8zM839 363l-5 4-3 8 2 8 6 4 4-1 3-3 2-8-2-8-3-3zM652 593l-4 0-4 4 0 4 4 4 4-3zM668 428l-4 4-2 7 4 7 6 2 4-6 1-7-5-7zM692 395l-4 1-3 3-2 8 2 8 3 2 4 1 4-3 3-8-2-8zM711 358l-6 5-1 8 2 8 5 3 4-1 3-2 3-8-2-8-4-4zM731 519l-5 7-1 8 1 4 4 4 5 1 5-5 2-8-3-8-4-3zM755 495l-6 3-3 8 2 8 3 4 4 1 7-5 1-8-3-8zM668 576l-5 5 0 8 5 6 4 0 4-6 0-8-4-5zM692 559l-6 3-3 7 2 8 3 3 4 1 5-4 2-8-3-7zM711 540l-3 2-3 4-1 8 4 7 3 3 4-1 4-5 2-8-5-8z"/>
<path fill="#adadad" d="M1040-20l0 770-1060 0 0-23 173 1 40-6 80-20 56-17 40-16 59-30 40-15 16-2 20 6 2-11 0-175 2-6 2 6 0 92 4 8 0 27 4 8 0 12 8 20 10 14 4 3 3-1 5-8 4-15 20-43 24-42 8-9 3-6 3-16 12-32 11-35 15-68 8-20-2-23 5-20 0-20 13-80 20-102 11-44 13-40 0-22 243 0 1 30 3 5 4 2 5-3 4-8 0-26zM731 115l-5 6-1 8 5 8 5 1 5-5 2-8-4-8-3-2zM755 44l-5 2-4 8 2 8 3 4 4 1 6-5 2-8-4-8zM775 215l-6 5-1 8 2 8 5 3 6-3 4-8-2-8-4-4zM795 154l-6 7 0 8 1 4 4 4 5 0 5-4 2-8-3-8-4-3zM819 84l-4 1-4 4-1 8 3 8 6 3 5-3 3-8-1-8zM839 5l-6 5-2 8 3 8 5 3 4-1 2-2 3-8-1-8-4-4zM859 319l-5 4-2 8 3 8 4 3 4 0 6-7 0-8-1-4-4-4zM883 268l-4 1-3 3-2 8 2 8 3 3 4 1 6-4 2-8-2-8zM903 211l-7 5-1 8 3 8 5 3 6-3 3-8-2-8-3-4zM923 147l-6 6-1 8 4 8 3 2 4 0 5-6 1-8-4-8-2-2zM947 74l-4 1-3 2-3 8 2 8 4 4 4 1 6-5 1-8-2-8zM648 456l-4 2-2 4 2 8 4 3 5-3 0-8-1-5zM668 280l-7 4-1 8 2 4 5 4 5 0 4-4 1-8-5-8zM692 232l-4 1-3 3-2 8 3 8 6 3 4-3 3-8-2-8zM711 177l-5 4-2 8 2 7 5 5 4-1 3-4 2-7-2-8-3-3zM731 317l-5 6-1 8 4 8 6 2 6-6 1-8-3-8-4-2zM755 269l-6 3-3 8 2 8 3 4 4 1 7-5 1-8-3-8zM775 468l-4 2-3 8 1 8 2 4 4 2 4-1 4-5 2-8-4-8zM795 437l-5 5-1 8 3 8 3 3 4 0 6-7 1-8-2-4-3-3zM819 402l-4 1-3 4-2 8 2 8 3 3 4 1 6-4 2-8-2-8zM839 363l-6 4-2 8 2 8 6 4 4-1 3-3 2-8-2-8-3-3zM648 592l-4 3-1 6 5 5 4-1 0-12zM668 427l-4 4-2 8 3 7 3 2 4 0 4-6 1-7-5-8zM692 395l-4 1-3 3-3 8 3 8 3 2 4 1 5-3 2-8-2-8zM711 358l-6 5-1 8 2 8 5 4 4-1 3-3 3-8-2-8-4-4zM731 519l-5 7-1 8 1 4 4 4 5 1 6-5 1-8-3-8-4-3zM755 495l-6 3-3 8 2 8 3 4 4 1 7-5 1-8-3-8zM668 575l-5 6 0 8 5 6 4 0 4-6 1-8-5-6zM692 558l-7 4-2 7 2 8 3 3 4 1 5-4 2-8-2-7zM711 540l-3 2-3 4-1 8 3 8 4 2 6-2 2-4 2-8-4-8z"/>
<path fill="#b1b1b1" d="M1040-20l0 770-1060 0 0-22 173 0 40-6 84-20 52-17 40-16 59-29 40-16 16-2 20 6 2-11 0-175 2-6 2 6 0 92 4 8 0 27 4 8 0 12 8 20 10 14 4 3 4-1 5-8 3-13 20-44 28-47 4-3 4-8 3-16 13-36 9-31 15-68 7-16 1-8-1-15 3-16 2-5 1 5 5 4 6 0 4-4 1-4-1-8-4-4-4-1-8 4 0-15 15-99 13-63 14-60 14-44 0-22 243 0 0 30 4 5 4 2 6-3 3-8 0-26zM731 115l-5 6-1 8 5 8 5 1 5-5 2-8-4-8-3-2zM755 43l-5 3-4 8 2 8 3 4 4 1 7-5 1-8-4-8zM775 214l-6 6-2 8 3 8 5 3 4 0 3-3 3-8-2-8-4-5zM795 153l-6 8 0 8 1 4 4 4 5 1 5-5 2-4-1-8-6-8zM819 83l-4 1-4 5-1 8 3 8 6 3 5-3 3-8-1-8-3-4zM839 4l-6 6-2 8 3 8 5 3 4-1 3-2 3-8-2-8-4-5zM859 318l-5 5-2 8 3 8 4 4 4 0 6-8 1-8-2-4-3-4zM883 268l-4 1-3 3-3 8 2 8 4 3 4 1 6-4 2-8-2-8zM903 211l-7 5-1 8 3 8 5 3 4 0 2-3 3-8-1-8-4-5zM923 147l-6 6-1 8 4 8 3 2 4 0 6-6 0-8-3-8-3-2zM947 74l-4 1-3 2-3 8 2 8 4 5 4 1 6-6 2-8-3-8zM648 455l-4 2-2 5 1 8 5 3 4-1 1-2 1-8-2-6zM668 427l-4 4-2 8 3 7 3 3 4 0 5-7 0-7-5-8zM692 232l-4 1-4 3-2 8 3 8 7 3 4-3 3-8-2-8zM711 177l-5 4-2 8 1 7 6 5 4-1 4-4 2-7-3-8-3-3zM731 316l-6 7 0 8 4 8 2 2 4 0 6-6 1-8-3-8-4-2zM755 269l-6 3-3 8 1 8 4 5 4 1 4-2 3-4 1-8-3-8zM775 468l-4 2-4 8 1 8 3 5 4 2 4-1 4-5 2-9-4-8zM795 437l-5 5-2 8 3 8 4 3 4 0 6-7 1-8-1-4-4-3zM819 402l-4 1-3 4-2 8 2 8 3 3 4 1 6-4 2-8-2-8zM839 363l-6 4-2 8 2 8 6 4 4-1 3-3 3-8-3-8-3-3zM648 591l-4 2-1 8 5 5 4-1 1-8-1-5zM668 575l-5 6-1 8 6 7 4 0 5-7 0-8-5-6zM692 394l-4 1-4 4-2 8 3 8 3 3 4 1 5-4 2-8-2-8zM711 358l-6 5-2 8 3 8 5 4 4-1 3-3 3-8-2-8-4-4zM731 519l-6 7 0 8 1 4 3 4 6 1 6-5 1-12-7-7zM755 495l-4 1-2 2-3 8 1 8 4 5 4 1 7-6 1-8-2-8zM692 558l-4 1-3 3-3 7 2 8 4 4 4 1 5-5 2-8-2-7zM711 539l-3 2-3 5-1 8 3 8 4 2 6-2 3-4 1-8-4-8z"/>
<path fill="#b5b5b5" d="M1040-20l0 770-883 0 0-22 60-11 60-15 40-12 40-15 69-34 42-17 16-1 20 5 2-11 0-175 2-6 2 6 0 92 4 8 0 27 4 8 0 12 8 20 10 14 4 4 4-1 5-9 3-12 20-44 28-48 5-3 4-8 2-16 14-36 8-27 16-72 7-16 1-8-2-15 2-12 3-6 8 7 4 0 4-4 1-5-1-8-4-5-11 1-1-4 1-12 15-93 12-62 15-63 14-44 0-22 242 0 0 30 4 5 4 2 4-1 4-6 1-30zM731 114l-6 7 0 8 4 8 2 2 4 0 6-6 1-8-3-8-4-2zM755 43l-6 3-3 8 1 8 4 5 4 0 4-2 3-3 1-8-3-8zM775 214l-4 2-3 4-1 8 3 8 5 4 4-1 3-3 3-8-2-8-4-5zM795 153l-4 3-2 5-1 8 5 8 2 1 4 0 6-5 1-12-3-5-4-3zM819 83l-4 1-4 5-2 8 4 8 2 3 4 1 5-4 3-8-1-8-3-4zM839 4l-7 6-1 8 2 8 6 4 4-1 3-3 3-8-2-8-4-5zM859 318l-6 5 0 12 2 5 4 3 4 0 4-3 2-5 1-8-5-8-2-1zM883 267l-4 1-3 4-3 8 2 8 4 4 4 1 6-5 2-8-2-8zM903 210l-4 2-3 4-1 8 2 8 6 4 4-1 3-3 3-8-2-8-4-5zM923 146l-6 7-1 8 3 8 4 2 4 0 6-6 1-8-4-8-3-3zM947 74l-4 0-3 3-3 8 2 8 4 5 4 1 6-6 2-8-3-8zM648 454l-4 3-2 5 1 8 5 4 4-1 2-3 1-8-3-6zM668 427l-4 3-2 5 0 7 6 7 4 0 5-7 1-7-2-4-4-4zM692 231l-4 1-4 4-2 8 3 8 3 2 4 1 5-3 2-8-1-8zM711 177l-5 4-3 8 2 7 6 5 4-1 4-4 2-7-3-8-3-3zM731 316l-6 7-1 8 5 8 2 2 4 0 6-6 1-8-3-8-4-3zM755 268l-4 1-2 3-3 8 1 8 4 5 4 1 4-2 3-4 1-8-2-8zM775 467l-5 3-3 8 1 8 3 5 4 2 6-3 3-4 1-8-4-8zM795 437l-5 5-1 12 6 8 4 0 6-8 1-8-5-7-2-2zM819 402l-4 1-3 4-3 8 3 8 3 3 4 1 6-4 2-8-1-8zM839 362l-6 5-2 8 2 8 6 5 4-1 4-4 2-8-2-8-4-4zM648 590l-5 3-1 8 2 3 4 3 5-2 1-8-2-6zM668 575l-6 6 0 8 6 7 4 0 5-7 0-8-5-6zM692 394l-4 1-4 4-2 8 2 8 4 3 4 1 5-4 2-8-1-8zM711 357l-3 2-3 4-2 8 2 8 6 4 4-1 4-3 2-8-2-8-4-5zM731 519l-6 7 0 8 1 4 5 5 4 0 6-5 1-12-7-7zM755 495l-4 0-2 3-3 8 1 8 4 5 4 1 4-2 3-4 1-8-2-8zM692 558l-4 1-3 3-3 7 2 8 4 4 4 1 6-5 1-8-2-7zM711 539l-3 2-4 5-1 8 3 8 5 2 7-2 2-4 1-8-3-8zM-20 728l64 0 0 22-64 0z"/>
<path fill="#b9b9b9" d="M1040-20l0 770-880 0 0-22 57-10 60-16 40-12 44-17 66-32 41-16 16-2 20 6 3-12 0-175 1-6 2 6 0 92 4 8 0 27 4 8 0 12 8 20 10 15 4 3 4-1 6-9 3-12 19-43 28-48 6-4 4-8 2-15 13-37 8-27 17-72 6-16 1-8-1-15 2-12 2-4 8 6 4-1 5-5 1-8-2-6-4-3-8 1-3-4 1-12 14-90 12-63 15-65 14-44 0-22 241 0 1 30 4 6 4 1 4-1 5-6 0-30zM731 114l-6 7-1 8 5 8 2 2 4 0 6-6 1-8-3-8-4-3zM755 43l-6 3-3 8 1 8 4 5 4 1 4-2 3-4 1-8-3-8zM775 214l-4 2-3 4-1 8 2 8 6 4 4-1 3-3 3-8-2-9-4-4zM795 153l-4 3-2 5-1 8 3 6 4 4 4-1 6-5 1-12-3-5-4-3zM819 83l-4 1-4 4-2 9 3 8 3 3 4 1 6-4 3-8-2-8-3-4zM839 4l-4 2-3 4-1 8 2 8 6 4 4-1 3-3 3-8-2-9-4-4zM859 318l-6 5-1 12 3 5 4 3 4 0 4-3 3-5 0-8-3-6-4-3zM883 267l-4 1-4 4-2 8 2 8 4 4 4 1 7-5 1-8-2-8zM903 210l-4 2-3 4-2 8 3 8 6 4 4-1 3-3 3-8-2-8-4-5zM923 146l-6 7-1 8 3 8 4 3 4 0 6-7 1-8-4-8-3-3zM947 73l-4 1-4 3-2 8 2 9 4 5 4 0 4-2 3-4 1-8-2-8zM628 478l-5 4 0 8 5 4 4-4 0-8zM648 454l-4 2-3 6 1 8 6 5 4-2 2-3 1-8-3-7zM668 426l-4 3-3 6 1 7 6 7 4 0 5-7 1-7-2-4-4-4zM692 231l-4 1-4 4-2 8 3 8 3 3 4 1 5-4 2-8-1-8zM711 176l-6 5-2 8 2 7 6 6 4-1 4-5 2-7-2-8-4-4zM731 316l-4 3-2 4-1 8 4 8 3 3 4 0 6-7 2-8-4-8-4-3zM755 268l-4 1-3 3-3 8 2 9 4 5 4 0 4-2 4-4 1-8-3-8zM775 467l-5 3-3 8 1 8 2 4 5 3 7-3 2-4 1-8-3-8-3-2zM795 437l-6 5 0 12 2 5 4 3 4 0 4-3 3-5 0-8-4-7-3-2zM819 401l-4 1-4 5-2 8 2 8 4 3 4 2 7-5 2-8-2-8zM839 362l-6 5-2 8 1 8 7 5 4-1 4-4 2-8-2-8-4-4zM648 589l-5 4-1 8 2 4 4 3 5-3 1-8-2-6zM668 574l-6 7 0 8 6 7 4 0 5-7 1-8-6-7zM692 394l-4 1-4 4-2 8 2 8 4 3 4 1 6-4 2-8-2-8zM711 357l-3 2-4 4-1 8 2 8 6 4 4 0 4-4 3-8-3-8-4-5zM731 518l-4 3-2 5-1 8 1 4 6 6 4 0 6-6 1-12-2-4-5-4zM755 494l-4 1-3 3-3 8 2 9 4 4 4 1 4-2 3-4 2-8-3-8zM692 558l-4 0-3 4-3 7 2 8 4 4 4 1 6-5 2-8-2-7zM711 539l-3 2-4 5-1 8 3 8 5 3 4-1 5-6 1-8-3-8zM-20 728l33 0 0 22-33 0z"/>
<path fill="#bdbdbd" d="M1040-20l0 770-877 0 0-22 58-11 56-14 40-13 44-17 67-32 40-16 16-2 20 6 3-12 0-175 1-6 2 6 0 92 4 8 0 27 4 8 0 12 8 20 10 15 4 3 4 0 6-10 6-19 20-43 22-37 9-8 3-8 2-13 18-50 11-44 9-44 6-16 1-8-1-15 4-14 8 4 4 0 5-6 1-8-2-6-4-4-8 0-2-2 1-16 13-83 12-63 16-67 14-45 0-22 240 0 0 26 3 8 6 4 4-1 5-7 1-30zM731 114l-4 3-2 4-1 8 4 8 3 2 4 0 6-6 1-8-3-8-4-3zM755 42l-4 1-2 3-4 8 2 9 4 4 4 1 4-2 3-4 1-8-2-8zM775 214l-4 2-3 4-1 8 2 8 6 4 4-1 4-3 2-8-2-9-4-5zM795 153l-4 2-3 6 0 8 3 7 4 3 4 0 6-6 1-12-3-6-4-2zM819 83l-4 0-4 5-2 9 3 8 3 3 4 1 6-4 3-8-2-8-3-5zM839 3l-4 3-3 4-2 8 3 8 6 4 4-1 4-3 2-8-2-9-4-5zM859 317l-6 6-1 12 3 6 4 2 4 0 4-2 3-6 0-8-3-7-4-3zM883 267l-4 1-4 4-2 8 2 8 4 5 4 0 7-5 2-8-2-8zM903 210l-4 2-3 4-2 8 3 8 6 4 4-1 3-3 3-8-2-9-4-5zM923 146l-7 7-1 8 4 8 4 3 4 0 6-7 1-8-3-8-4-3zM947 73l-4 1-4 3-3 8 3 9 4 5 4 1 4-2 3-5 1-8-2-8zM628 477l-4 2-2 3 0 8 2 3 4 2 4-4 1-9zM648 453l-4 2-3 7 1 8 6 5 4-1 2-4 2-8-4-8zM668 426l-6 5-1 4 0 7 7 8 4 0 6-8 0-7-1-4-4-4zM692 230l-4 1-4 5-3 8 3 8 4 3 4 1 5-4 3-8-2-8zM711 176l-6 5-2 8 1 7 7 6 4-1 4-5 2-7-2-8-4-4zM731 316l-4 2-2 5-1 8 4 8 3 3 4 0 7-7 1-8-4-9-4-2zM755 268l-4 1-3 3-3 8 2 9 4 5 4 1 4-2 4-5 1-8-3-8zM775 467l-5 3-3 8 3 12 5 3 4 0 5-7 1-8-3-8-3-2zM795 436l-6 6-1 12 3 6 4 2 4 0 4-3 3-5 0-8-3-7-4-3zM819 401l-4 1-4 5-2 8 2 8 4 4 4 1 7-5 2-8-2-8zM839 362l-7 5-2 8 2 8 7 5 4-1 4-4 2-8-2-8-4-4zM648 589l-5 4-1 8 1 4 5 3 4-1 1-2 2-8-3-7zM668 574l-6 7-1 8 7 8 4 0 5-8 1-8-6-7zM692 393l-4 1-4 5-3 8 3 8 4 4 4 1 6-5 2-8-2-8zM711 357l-3 2-4 4-2 8 3 8 6 5 4-1 4-4 3-8-3-9-4-4zM731 518l-4 3-2 5-1 8 3 7 4 3 4 0 7-6 0-12-3-5-4-3zM755 494l-4 1-3 3-3 8 2 9 4 5 4 1 4-2 4-5 1-8-2-8zM692 557l-4 1-4 4-2 7 2 8 4 5 4 1 6-6 2-8-2-7zM711 538l-5 4-2 4-1 8 3 8 5 3 4-1 6-6 1-8-4-8-3-3z"/>
<path fill="#c1c1c1" d="M1040-20l0 770-875 0 0-22 56-11 60-15 36-11 44-17 67-33 41-16 15-1 20 5 2-4 1-183 1-6 2 6 0 92 4 8 0 27 4 8 0 12 8 20 10 15 4 3 4 1 7-11 5-18 20-42 23-39 9-8 2-4 2-16 6-12 12-39 12-44 9-44 6-16 1-31 2-4 8 2 4 0 6-6 0-8-2-7-4-3-9-2 0-16 13-80 16-82 12-49 14-47 0-22 240 0 0 26 2 8 7 4 4-1 5-7 1-30zM731 113l-4 3-2 5-1 8 4 8 3 3 4 0 7-7 1-8-4-9-4-2zM755 42l-4 1-3 3-3 8 2 9 4 5 4 0 4-1 4-5 1-8-3-8zM775 213l-4 2-3 5-2 8 3 8 6 5 4-1 4-4 3-8-3-10-4-4zM795 152l-5 5-2 4 0 8 3 7 4 3 4 0 6-6 1-12-3-6-4-3zM819 82l-4 1-4 4-2 10 3 8 3 4 4 0 6-4 3-8-3-12zM839 3l-4 2-3 5-2 8 2 8 7 5 4-1 4-4 2-8-2-10-4-4zM859 317l-6 6-1 12 3 6 4 3 4 0 5-5 2-4 0-8-3-7-4-3zM883 266l-4 1-4 5-3 8 3 9 4 4 4 1 4-2 3-4 2-8-2-8zM903 209l-4 2-4 5-1 8 2 8 7 5 4-1 3-4 3-8-2-10-4-4zM923 145l-4 3-3 5-1 8 4 8 4 3 4 0 4-3 2-4 1-8-3-9-4-3zM947 72l-4 2-4 3-3 8 3 10 4 4 4 1 4-2 3-5 2-8-3-8zM628 477l-6 1-1 4 3 12 4 1 4-3 1-10zM648 453l-4 2-4 7 1 8 7 6 4-2 3-4 1-8-4-8zM668 425l-6 6-1 11 3 5 4 3 4 0 4-3 2-5 0-7-1-4-3-4zM692 230l-4 1-4 4-3 9 3 8 4 4 4 1 6-5 2-8-1-8-3-4zM711 175l-6 6-3 8 2 7 4 5 3 2 4-1 4-5 3-8-3-8-4-5zM731 315l-5 4-2 4 0 8 3 8 4 3 4 0 7-7 0-12-3-5-4-3zM755 268l-4 0-3 4-3 8 2 10 4 4 4 1 6-3 2-4 1-8-2-8zM775 467l-6 3-3 8 3 12 6 4 4-1 6-7 1-8-4-8-3-3zM795 436l-6 6-1 12 3 6 4 3 4 0 5-5 2-4 1-8-4-7-4-3zM819 401l-4 1-4 4-2 9 2 8 4 4 4 1 7-5 2-8-2-8-3-4zM839 361l-7 6-2 8 2 8 7 6 4-1 4-4 2-9-2-9-4-4zM648 588l-6 5-1 8 2 4 5 4 4-1 2-3 1-8-3-7zM668 574l-4 3-2 4-1 8 2 4 5 4 4 0 4-3 2-5 0-8-2-4-4-3zM692 393l-4 1-4 4-3 9 3 8 4 4 4 1 6-5 2-8-1-8zM711 356l-3 2-4 5-2 8 3 8 6 5 4-1 4-4 3-8-3-10-4-4zM731 518l-5 4-2 4 1 12 2 3 4 3 4 0 7-6 0-12-3-6-4-2zM755 494l-4 0-3 4-3 8 2 10 4 4 4 1 4-2 4-5 1-8-2-8zM692 557l-4 1-4 4-3 7 2 8 5 5 4 1 6-6 2-8-2-7zM711 538l-5 4-4 12 3 8 6 3 4-1 6-6 1-8-3-8-4-3z"/>
<path fill="#c5c5c5" d="M1040-20l0 770-873 0 0-22 54-10 60-16 40-13 40-15 60-29 49-20 14-1 20 6 3-9 0-179 1-5 2 5 0 92 3 8 1 27 3 8 1 12 8 20 10 15 8 5 7-12 5-16 20-43 24-41 9-7 3-8 1-12 3-7 4 4 4 8 4 1 6-6 0-8-2-3-4-3-8 2 0 2 0-6 17-59 14-64 6-16 3-34 12 2 6-7 1-8-3-8-4-3-8-1 0-15 16-100 12-60 12-50 15-49 0-22 238 0 0 26 3 8 7 4 4-1 5-7 1-30zM731 113l-5 4-2 4 0 8 3 8 4 3 4 0 7-7 1-8-4-9-4-3zM755 42l-4 0-3 4-3 8 2 10 4 4 4 1 6-4 2-3 1-8-2-8zM775 213l-5 3-4 8 0 4 2 8 7 5 4-1 4-4 3-8-3-10-4-4zM795 152l-5 5-2 12 3 7 4 4 4-1 7-6 0-12-3-7-4-2zM819 82l-4 1-4 4-3 10 3 8 4 4 4 1 7-5 2-8-3-12zM839 3l-5 3-3 4-1 8 2 8 7 5 4-1 4-4 3-8-3-10-4-5zM859 317l-7 6 0 12 3 7 4 2 4 0 6-5 1-12-3-7-4-3zM883 266l-4 1-4 4-3 9 3 9 4 5 4 0 4-2 3-4 2-8-2-8zM903 209l-6 3-3 8 0 4 2 8 7 5 4-1 4-4 2-8-2-10-4-4zM923 145l-4 3-3 5-1 8 4 9 4 2 4 0 4-2 3-5 0-8-3-10-4-2zM947 72l-4 1-4 4-3 8 3 10 4 5 4 0 5-3 2-4 2-8-2-8zM628 603l-5 2 0 8 5 4 4-3 0-5 0-3zM648 452l-5 2-3 8 1 8 3 4 4 2 4-1 3-5 2-8-4-8zM668 425l-6 6-1 11 3 6 4 2 4 0 4-3 2-5 1-7-3-7-4-3zM692 229l-4 1-4 4-3 10 3 8 4 4 4 1 6-5 3-8-2-8-2-4zM711 175l-7 6-2 8 0 3 4 8 5 3 4-1 4-4 3-9-3-9-4-4zM731 315l-5 4-2 12 3 9 4 3 4 0 7-8 1-12-4-6-4-2zM755 267l-4 1-3 4-3 8 2 10 4 5 4 0 6-3 4-12-3-8zM775 466l-6 4-3 8 3 12 6 4 4-1 6-7 1-8-3-8-4-3zM795 436l-6 6-1 12 3 7 4 2 4 0 6-5 2-12-4-7-4-3zM819 400l-4 1-4 4-3 10 3 9 4 4 4 1 7-6 2-8-1-8-4-5zM839 361l-4 2-3 4-2 8 2 8 3 4 4 2 4-1 4-4 3-9-3-9-4-4zM648 588l-6 5-1 8 1 4 6 4 4-1 2-3 2-8-4-8zM668 573l-4 4-3 4 0 8 3 5 4 3 4 0 4-3 2-5 1-8-3-5-4-3zM692 392l-4 1-4 4-3 10 3 9 4 4 4 1 7-6 2-8-2-8-3-4zM711 356l-5 3-4 8 0 4 2 8 7 6 4-1 4-4 3-9-3-10-4-4zM731 517l-4 3-3 6 0 12 3 4 4 3 4 0 7-7 1-12-4-6-4-3zM755 493l-4 1-4 4-2 8 1 8 5 6 4 1 6-3 4-12-3-8zM692 556l-4 1-4 5-2 4-1 7 1 4 4 4 6 2 4-2 3-4 2-8-2-7zM711 538l-6 4-3 12 3 8 6 3 4 0 6-7 1-12-7-7z"/>
<path fill="#c9c9c9" d="M1040-20l0 770-871 0 0-22 32-5 36-9 84-24 48-19 61-30 41-16 13-1 20 6 3-9 0-179 1-5 1 5 0 92 4 8 0 27 4 8 1 12 8 20 10 15 4 4 5 1 7-12 8-24 20-42 20-33 10-8 3-8 3-17 8 11 4 1 4-3 2-4 0-8-1-4-5-3-7-1 0-4 17-55 14-64 6-16 2-31 4-2 8 1 4-2 2-5 0-12-2-5-4-2-5-1-3-4 0-8 16-100 12-61 12-50 15-51 0-22 238 0 0 26 3 8 7 5 4-1 6-8 0-30zM731 112l-5 5-2 12 3 9 4 2 4 0 4-2 3-5 1-12-4-6-4-3zM755 41l-4 1-4 4-3 8 1 8 6 7 4 0 6-4 4-11-3-8zM775 213l-6 3-3 12 2 8 7 6 4-2 4-3 3-9-3-11-4-4zM799 151l-4 0-4 3-3 7 0 12 7 7 4 0 4-3 4-8-2-12zM819 82l-4 0-4 4-3 11 3 8 4 4 4 1 7-5 3-8-4-12-2-2zM839 3l-6 3-3 8-1 4 3 8 7 6 4-2 4-3 3-9-3-11-4-4zM859 316l-7 7 0 12 3 7 4 3 4 0 6-6 2-12-4-8-4-3zM883 265l-4 1-4 4-3 10 3 10 4 4 4 0 4-1 4-5 1-8-2-8-3-5zM903 209l-6 3-4 12 3 8 7 6 4-2 4-3 3-9-3-11-4-4zM923 145l-4 2-3 6-1 8 4 10 8 2 5-4 2-4 1-8-4-10zM947 71l-4 2-4 4-3 8 3 11 4 4 4 1 5-4 4-12-2-8zM559 621l1 1 8-1-4-3-4 1zM628 601l-6 4 0 8 3 4 3 1 4-3 1-10zM648 451l-5 3-4 8 1 8 3 4 5 3 5-3 3-4 1-8-3-8zM668 424l-7 7-1 11 4 7 4 2 4 0 5-5 2-4 0-7-3-8-4-3zM692 229l-4 0-4 4-4 11 4 10 4 3 4 1 7-6 2-8-4-12zM711 174l-3 2-4 5-2 8 4 11 5 4 4-1 4-5 3-9-3-10-4-4zM731 314l-5 5-2 12 3 10 8 2 4-3 3-5 1-12-4-6-4-3zM755 267l-4 1-4 4-3 8 1 8 6 7 4 0 6-3 4-12-3-8zM775 466l-6 4-3 12 2 8 7 4 4 0 6-8 1-8-3-8-4-3zM795 435l-7 7 0 12 3 7 4 2 4 0 6-5 2-12-4-8-4-3zM819 400l-4 1-4 4-3 10 3 10 4 3 4 1 4-2 4-4 2-8-5-12zM839 361l-4 1-3 5-3 8 5 12 5 3 4-1 4-4 3-10-3-10-4-4zM648 587l-7 6 0 8 0 4 7 5 4-1 3-4 1-8-3-8zM668 573l-5 4-3 12 4 6 4 3 4 0 5-5 2-12-1-4-6-4zM692 392l-4 1-4 4-3 10 3 10 4 3 4 1 4-2 3-4 2-8-4-12zM711 356l-5 3-4 8 0 4 2 8 3 4 4 2 4-1 4-4 3-9-3-11-4-4zM731 517l-4 3-3 6 0 12 2 4 5 3 4 0 4-3 3-4 1-12-1-4-7-5zM755 493l-4 1-4 4-3 8 1 8 6 7 4 0 6-3 4-12-2-8zM692 556l-4 1-5 5-2 11 0 4 4 4 7 3 4-2 3-5 2-8-2-7zM711 538l-6 4-3 12 2 8 7 4 4-1 4-3 2-4 1-12-7-8z"/>
<path fill="#cdcdcd" d="M1040-20l0 770-869 0 0-22 34-6 32-8 84-24 48-19 61-30 42-16 12-1 20 6 3-9 0-179 1-5 1 5 0 92 4 8 0 27 4 8 0 12 10 24 9 12 4 3 5 1 7-12 8-23 20-41 20-34 11-9 3-8 2-15 8 10 4 1 4-3 3-5-1-12-6-4-4 0-2-4 15-51 15-64 6-20 2-29 4-3 8 1 4-3 3-5 0-12-3-6-8-3-3-3 0-8 15-96 12-62 16-65 12-39 0-22 237 0 1 30 5 8 4 1 4-1 6-8 1-30zM731 112l-6 5-2 12 4 10 8 2 4-3 3-5 1-12-4-7-4-2zM755 40l-8 5-3 9 1 8 6 7 4 0 7-4 3-11-3-8zM775 212l-6 4-4 12 3 8 7 6 4-1 4-4 3-9-1-8-6-7zM799 151l-4 0-4 3-3 7 0 12 3 5 4 2 4 0 4-3 4-8-1-12zM815 82l-6 7-1 8 3 9 4 4 4 1 7-6 3-8-3-12-3-3zM843 3l-8 1-6 10 3 12 7 6 5-2 6-8-1-12zM859 316l-4 3-3 4-1 12 4 8 4 2 4 0 6-6 2-12-4-9-4-2zM883 265l-4 1-4 4-3 10 3 11 4 4 4 0 5-3 4-8 1-4-5-12zM903 209l-6 3-4 12 2 8 8 6 4-1 4-4 3-9-1-8-6-7zM923 144l-6 5-2 12 4 10 4 2 4 0 5-4 3-12-4-11-4-2zM947 71l-6 2-5 8 1 12 6 8 8-2 5-10-2-12zM569 621l-5-5-4 1-1 4 1 3 8-1zM583 617l1 1 2-1zM628 600l-4 2-2 3-1 8 3 4 4 2 5-6 1-8zM648 451l-6 3-3 12 2 8 7 3 6-3 2-4 2-8-3-8-3-2zM668 424l-7 7-1 11 1 4 3 4 4 2 4 0 5-6 2-11 0-4-7-7zM692 228l-4 1-7 7-1 8 4 11 4 3 4 0 7-6 2-8-3-12-2-3zM711 174l-5 3-4 8-1 4 4 11 3 3 3 1 4-1 4-4 4-10-4-11-4-4zM731 314l-6 5-2 12 4 11 8 1 4-2 4-6 1-8-2-8-3-3-4-2zM755 266l-4 1-4 4-3 9 1 8 6 7 4 1 7-4 3-12-2-8zM775 465l-7 5-3 12 3 8 7 5 4-1 4-4 2-4 1-8-3-8-4-4zM795 435l-4 3-3 4 0 12 3 8 4 2 4 0 6-6 2-12-4-9-4-2zM819 400l-4 1-4 3-3 11 3 10 4 4 4 0 4-1 4-5 2-8-4-12zM839 360l-4 2-4 5-2 8 4 12 6 3 4-1 4-4 3-10-3-11-4-3zM648 587l-4 2-3 4-1 8 1 4 7 5 4-1 3-4 2-8-4-8zM668 573l-6 4-2 12 1 4 7 5 4 0 4-3 3-6 0-12-7-4zM692 392l-4 0-4 4-4 11 4 11 4 3 4 0 4-2 3-4 2-8-3-12zM711 355l-6 4-4 12 5 12 5 2 4 0 4-4 4-10-1-8-7-7zM731 516l-4 3-3 7 0 12 1 4 6 3 4 0 4-2 4-5-1-16-7-6zM755 492l-4 1-4 4-3 9 1 8 6 7 4 1 7-4 3-12-2-8zM692 556l-4 0-5 6-3 11 1 4 7 6 4 1 4-2 3-5 2-11-5-8zM711 537l-6 5-4 12 1 4 2 4 7 4 4-1 5-3 2-4 1-8-3-8-5-4z"/>
<path fill="#d1d1d1" d="M1040-20l0 770-867 0 0-22 52-10 60-16 36-12 40-15 61-30 46-18 16-2 20 6 3-10 0-179 1-5 1 97 4 8 0 27 4 8 0 12 10 24 13 15 4 2 10-13 2-12 24-51 20-34 12-10 3-8 1-11 2 3 6 4 4 0 4-2 3-6 0-12-3-3-8-3 0-6 13-43 15-68 7-20 2-27 3-3 8 0 4-3 3-6 1-8-2-8-2-4-8-2-2-2 2-24 12-76 12-62 16-67 13-41 0-22 118 0 0 22-6 4-4 12 2 8 4 5 4 2 4-2 4-3 3-10-1-8-6-8-4 0 0-22 118 0 0 30 6 8 4 2 8-5 2-5 1-30zM735 111l-4 0-6 6-3 8 3 12 2 3 4 2 8-3 5-10-2-12zM755 39l-8 5-3 10 1 8 2 4 4 4 4 0 7-5 3-11-2-8-4-5zM775 212l-6 4-4 12 2 8 4 5 4 2 4-2 4-3 4-10-1-8-3-4-4-4zM799 150l-4 0-6 7-2 8 4 14 4 2 4-1 4-2 4-9-1-12zM819 81l-4 1-4 3-2 4-1 8 3 10 4 4 4 0 8-6 2-8-3-12-3-3zM839 360l-6 3-4 8 0 4 4 12 6 3 4-1 4-3 3-11-3-11-4-4zM859 316l-5 3-4 12 2 8 7 7 4-1 4-2 3-4 1-8-1-8-3-6zM883 265l-7 3-4 8 1 12 6 7 8-1 6-10 0-8-6-10zM903 208l-7 4-3 12 2 8 4 5 4 2 4-2 4-3 3-10-1-8-2-4-4-4zM927 144l-8 2-5 11 3 12 2 3 4 2 4 0 4-3 4-10-2-12-2-3zM947 71l-6 2-5 8 0 12 7 8 8-1 6-11-1-8-5-9zM559 617l-1 4 2 4 8 1 2-5-2-3-4-3zM580 617l4 3 4 0 1-3-5-2zM608 612l-4 0-1 1 1 7 6-3zM628 600l-4 1-3 4-1 8 4 5 4 1 4-3 2-3 1-8zM648 450l-7 4-3 12 2 8 8 4 4-1 5-7 1-8-2-8-4-3zM668 423l-4 2-4 6-1 8 1 7 4 4 4 2 4 0 4-3 3-7 0-11-3-5-4-3zM692 228l-4 0-4 4-4 8 1 12 7 7 4 0 4-3 5-8 1-4-3-12-3-4zM711 173l-6 4-2 4-2 8 3 11 4 4 7 0 6-8 2-7-4-12-4-4zM731 314l-6 5-2 12 4 11 8 2 6-5 3-12-2-8-3-3-4-3zM755 266l-4 1-4 3-3 10 1 8 2 5 4 3 4 0 7-4 3-12-2-8-4-5zM775 465l-7 5-3 12 2 8 8 5 4-1 5-4 2-4 1-8-4-9zM795 435l-5 4-3 11 1 8 3 4 4 2 4 0 7-6 1-12-4-10zM819 399l-4 1-4 4-3 11 3 11 4 3 4 1 6-3 4-8 0-4-3-12zM648 587l-4 2-3 4-1 12 8 6 4-1 3-5 3-12-6-6zM668 572l-4 3-4 6 0 12 8 6 4 0 5-6 2-16-7-5zM692 391l-4 1-7 7-1 8 1 8 3 4 4 2 4 1 5-3 4-8 1-4-3-12zM711 355l-6 4-3 4-1 8 4 12 6 3 4-1 4-4 4-10-1-8-3-4-4-3zM731 516l-6 6-2 12 1 8 7 4 4 0 6-4 3-12-1-8-8-6zM755 492l-4 1-4 4-3 9 1 8 2 4 4 3 4 1 7-4 3-12-2-8-3-4zM722 542l-7-4-4-1-3 1-6 8-2 15-3-3-5-3-4 1-4 4-3 6-1 11 8 7 4 0 4-1 5-10 3-11 7 5 4-1 5-4 3-8z"/>
<path fill="#d5d5d5" d="M1040-20l0 770-865 0 0-22 34-6 32-8 80-23 44-17 58-29 45-18 16-2 20 6 3-10 1-184 1 97 4 8 0 27 4 8 0 12 10 24 9 12 8 6 6-6 2-6 3-2 1-9 16-37 28-50 12-9 4-12 4-3 8 2 4-2 4-7 2-12 2-2 8 3 4-1 5-8 2-8-1-8-6-4-4-1-4 2-6 7 0 12-2 5-12-5 1-4 13-43 16-72 4-12 4-27 2-4 8-2 6-6 3-8-4-16-1-2-9-2 1-20 12-76 16-81 12-49 14-44 0-22 116 0 0 22-6 4-3 12 2 8 4 6 4 1 4-1 4-4 4-10-1-8-6-8 0-22 112 0 1 30 6 10 4 1 8-5 3-6 0-30zM735 110l-8 3-3 4-2 8 3 12 2 5 4 1 8-4 5-10-2-12-3-5zM759 39l-8 1-5 6-2 4 0 12 3 6 4 3 8-2 3-4 3-7 0-8zM779 212l-8 1-3 3-3 8 0 8 6 10 4 1 6-3 5-8 0-12-3-5zM799 149l-4 1-4 3-3 4-2 8 3 12 2 3 4 1 8-3 5-9-2-12-3-6zM819 80l-8 5-3 8 2 12 5 7 4 0 5-3 5-8 1-4-3-12-4-4zM839 360l-6 3-4 8 0 4 3 12 3 3 8 0 6-7 2-8-4-13-4-2zM863 315l-8 3-5 9 2 12 3 6 4 1 4 0 4-3 3-4 2-8-3-12-2-3zM883 264l-7 4-4 8 1 12 2 4 4 3 8-1 6-10 0-8-2-6-4-5zM907 208l-8 1-3 3-3 8 0 8 6 10 8 0 4-4 3-6-1-12-2-5zM927 143l-8 3-5 11 2 12 3 4 4 2 8-3 5-11-3-12-2-4zM947 70l-7 3-4 8 0 12 7 9 8-2 6-11 0-8-6-10zM564 614l-7 3-1 8 8 8 5-4 2-8-3-4zM584 614l-5 3-2 8 3 3 8 1 2-8 0-4zM604 610l-3 3-2 8 5 4 4 0 5-8-5-7zM628 599l-5 2-5 12 6 6 4 1 4-3 4-12zM672 423l-8 2-5 10 2 15 7 3 4 0 6-7 2-7-2-12zM696 227l-8 0-4 3-4 6 0 12 4 11 8 1 4-2 6-10-1-12zM715 173l-7 1-6 7-1 4 1 11 6 9 7-1 7-8 1-7-1-8-3-5zM735 313l-4 0-4 3-3 3-2 8 3 12 2 4 4 1 4 0 4-2 5-11-1-12-4-5zM755 265l-4 1-4 4-3 10 0 8 3 6 4 3 4 0 8-5 2-4 1-8-5-12zM775 465l-7 5-2 4-1 8 2 9 8 5 4-1 5-5 2-4 1-8-4-10zM795 434l-6 5-3 11 2 8 2 4 5 3 4 0 7-7 2-12-2-7-3-3zM815 400l-6 7-1 8 3 12 8 3 6-3 4-8 1-4-3-12-4-3zM696 392l-8-1-7 8 0 16 3 5 4 2 8-1 6-10 0-8-2-8zM711 354l-7 5-2 4-1 8 3 12 7 3 4-1 4-3 4-11-1-8-3-6zM743 522l-8-6-4 0-4 2-4 8-1 12-3 2-8-4-3 2-6 8-2 13-8-4-4 1-6 6-2 13-8-3-4 0-7 5-3 12-2 2-4-4-4-1-4 2-4 5-3 12 3 0 8 6 4-1 4-5 4-11 8 5 4 0 6-6 2-8 3-4 9 4 4-2 4-6 4-14 7 4 4-1 5-4 3-8 0-11 8 3 4 0 6-4 3-8zM755 492l-4 0-4 4-3 10 1 12 10 5 7-5 3-4 1-8-3-10z"/>
<path fill="#d9d9d9" d="M1040-20l0 770-863 0 0-22 32-6 48-12 68-20 40-16 59-29 40-17 16-3 24 6 3-10 1-183 2 100 3 4 0 27 4 8 0 12 4 8 2 8 4 8 9 13 8 5 7-6 1-5 4-2 1 3-4 4 3 1 4 6 4 2 8-9 4 0 8 6 4-1 4-7 4-2-4-1-4-6-4-1-4 2-4 6-4 0-4-6-4-2-8 2 4-16 12-26 28-51 12-9 5-11 3-3 8 1 4-2 3-4 5-15 8 0 4-1 4-4 3-8 1-12 4-1 8 0 4-3 3-4 2-7-1-15-12-2-4 2-5 7-1 4 0 11-2 4-8-2-4 2-6 8-2 14-10-2 0-4 20-71 9-44 6-20 2-19 5-4 8-4 3-4 2-8-1-25-6 5-6-1 0-14 12-76 16-83 12-49 14-47 0-22 115 0 0 22-7 8-2 8 2 8 5 8 8-2 6-6 1-4 0-12-5-8 0-22 111 0 1 30 6 11 4 0 8-5 3-6 0-30zM739 109l-8 1-4 2-5 9-1 8 6 15 8-1 4-3 4-7 2-8zM759 37l-8 2-6 7-1 4 0 12 3 7 4 4 8-4 6-7 0-12zM779 210l-8 3-5 7-1 12 6 12 8-2 6-6 2-4-1-12-3-7zM803 150l-8 0-7 7-2 12 5 13 8-1 4-2 4-6 2-8zM823 79l-8 2-7 8 0 12 3 8 4 4 8-3 6-9 0-12zM839 359l-7 4-2 4-2 8 3 12 4 4 8-1 7-7 1-8-4-15zM867 315l-8 0-4 2-4 6-1 8 1 8 4 7 8 0 7-7 2-12zM887 264l-8 1-6 7-2 12 4 11 2 1 6 0 4-2 6-10 0-8-2-7zM907 206l-8 3-4 3-3 8 1 8 6 12 8-2 6-6 1-4 0-12-3-7zM927 142l-8 3-3 4-3 8 1 8 5 10 4 1 8-4 2-3 3-8-2-12-3-6zM951 69l-8 2-6 6-2 4 1 12 3 6 4 4 8-2 3-4 3-8 0-8zM604 608l-5 5-3 8 8 5 4 0 6-9-1-4-5-4zM696 225l-8 1-7 6-3 12 6 20 12-5 6-11 0-8-2-12zM715 171l-7 2-7 8-1 4 1 11 3 8 4 3 7-2 7-9 1-7-1-8-3-8zM731 313l-4 2-4 8-1 8 2 8 3 6 8 0 4-3 6-11-1-8-5-10zM759 265l-8 1-6 6-1 4 0 12 3 8 4 1 8-1 6-8 0-12-2-6zM775 464l-4 2-6 8 0 8 2 11 8 3 4-1 6-5 2-12-1-8-3-4zM795 434l-6 5-3 11 2 12 7 3 4 0 7-7 2-12-1-7-4-4zM823 399l-8 0-6 8-1 12 3 10 8 1 4-1 5-6 2-12-3-9zM700 392l-8-2-4 1-4 3-4 5-1 8 2 12 3 3 8 1 4-2 5-6 1-8zM711 354l-7 5-3 4-1 8 4 14 7 2 4-1 7-7 1-8 0-8-3-8zM763 494l-8-3-4 1-6 6-1 4-1 15-12-2-4 3-4 8-2 12-2 1-8-3-4 2-5 8-2 12-8-4-4 1-6 7-2 10-4 1-4-2-4 0-4 2-8 16-8-3-4 1-8 17-8-6-4 1-7 14 7 7 4 0 5-3 3-9 4-2 8 6 4-1 4-6 4-10 8 5 4 0 6-7 2-8 4-3 4 3 8-1 4-7 4-13 7 4 4-1 6-5 3-16 3-1 8 2 7-5 3-8 0-12 2-2 8 3 8-5 2-4 1-8z"/>
<path fill="#dddddd" d="M1040-20l0 770-860 0 0-22 33-6 48-12 64-20 40-16 59-29 40-16 16-4 24 7 2-3 1-8 1-183 2 100 3 4 1 31 3 4 0 12 4 8 1 8 13 20 9 6 8-6 4 3 4 6 4 1 8-8 4 0 8 6 4-1 8-10 8 5 4 0 8-12 12 6 4-2 4-8 4-4 8 5 4-1 5-6 3-8 8 3 4 0 4-2 8-15 8 3 4-2 5-7 3-11 7 2 7-2 3-4 3-12 2-4 9 1 7-5 3-8 2-12 8 2 8-6 3-8 0-12 1-3 12 1 6-6 2-8 0-16-12-2-5 2-5 8 0 16-2 3-8-2-4 0-4 4-3 7-1 12-4 2-8-1-4 2-5 9-2 12-9-3-3 2-7 9-1 10-8-2-4 1-7 7-2 7-3 3-8-1-4 2-8 15-8-3-4 2-8 15-8-4-4 0-3 3-5 11-4-1-4-3-4-1-4 4-4 8-4-2-4-4-4-2-4 2-4 5-4 0-4-4-4-3-4 1-2-3 2-7 16-36 24-42 12-9 8-14 8 0 5-3 4-8 3-9 12-2 4-3 2-6 2-12 2-4 10 0 4-3 3-5 2-7 0-12 3-4 12-1 5-7 1-4-1-20-1-2-12 1-4 3-5 10 0 16-3 3-8-1-8 6-3 8 0 11-1 2-8-1-7 3-3 4-2 13-3 3-5 0-1-4 19-67 10-48 5-16 3-21 4-5 8-3 5-10 0-20 5-12 10-5 5-7 2-8-2-20 4-12 4-4 10-6 4-6 1-7-5-25-2 5-9 4-5 4-2 4-1 8 2 15 0 8-6 10-8 3-8 7-3 12 2 16-3 8-4 3-4-3 12-82 16-84 12-50 15-50 0-22 112 0 0 22-6 8-1 8 2 8 5 10 12-6 4-8-1-12-4-8 0-22 110 0 0 30 7 14 8-4 6-6 2-8-1-26zM739 104l-12 7-6 10 1 12 5 16 5-4 7-4 3-4 3-8 0-8zM759 33l-11 9-3 4-2 12 4 16 4 1 8-5 6-8 1-12zM783 210l-8 0-4 2-6 8 0 12 2 8 4 5 8-2 7-7 1-12zM803 147l-12 5-5 9 0 8 5 15 12-4 6-11-1-8zM823 77l-8 3-4 3-3 6 0 12 3 10 4 3 8-3 7-10-1-12zM847 358l-12 2-5 7-2 8 3 16 12 0 7-8 1-12zM867 313l-8 1-4 3-4 6-1 12 5 13 8-1 4-3 5-9 0-8zM887 262l-8 2-7 8-1 12 4 14 12-3 6-7 1-12-3-9zM911 206l-4-1-8 3-6 8-1 12 7 13 8-2 6-7 2-12zM931 140l-8 2-4 3-5 8-1 8 6 16 8-2 4-2 4-8 1-8zM951 67l-12 6-4 8 0 12 4 8 4 4 8-4 3-4 3-8 0-8zM719 353l-8 0-3 2-7 8-1 12 2 12 2 1 11-2 7-7 1-12-2-12zM739 311l-8 1-4 2-5 9 0 12 2 8 3 3 8-1 4-2 5-8 1-12-3-8zM760 264l-9 1-6 7-2 12 4 15 12-3 6-8 1-12-3-8zM807 435l-12-2-6 6-4 11 2 16 4-1 8 0 4-2 4-5 2-8zM827 398l-12 1-7 8-1 12 4 11 12-1 6-6 1-12zM553 621l3-1 0 1 0 1z"/>
<path fill="#e1e1e1" d="M766-20l0 22-5 24-4 8-11 8-4 8 0 8 4 15-4 20-5 12-10 5-5 7-2 12 4 16-3 12-6 10-7 4-6 6-4 12 2 19-5 12-11 6-7 10 0 24-5 8-2-4 2-20 16-97 20-91 17-54 0-22zM1040-20l0 770-858 0 0-22 31-6 48-12 64-19 40-16 51-26 48-20 16-3 24 6 2-3 1-8 1-183 1 100 4 4 1 31 3 4 0 12 4 8 1 8 12 20 6 5 4 2 8-6 8 9 4 1 8-8 4 0 8 6 4-1 8-10 8 5 4 0 8-10 4 0 8 4 4-2 8-12 8 5 4-1 6-7 2-7 8 3 4 0 4-3 8-14 8 2 4-1 5-8 3-10 7 2 4-1 7-6 3-12 2-4 8 2 7-6 5-19 8 1 4-1 5-5 3-8 0-13 12-1 7-6 2-8-1-12 2-4 10 0 6-4 4-12-1-15 3-3 12-2 6-7 1-8-1-16-2-3-8 1-8 4-3 6-1 8 1 12-1 4-4 2-8 0-7 6-3 7 0 16-2 2-8-1-6 3-4 8-2 17-12 0-4 3-3 8-2 12-3 2-8-2-4 2-5 10-3 11-8-2-3 1-7 10-1 8-12 0-7 8-3 7-2 3-8-2-4 2-8 15-8-3-4 2-3 3-5 12-8-4-4 1-4 3-4 10-4-1-4-4-4 0-4 3-4 7-4-1-4-4-4-1-4 1-4 5-4 0-4-5-8-2 0-4 16-37 24-43 4-4 8-4 8-13 12-3 5-7 4-12 11-2 4-3 3-7 2-12 3-3 8-1 5-4 4-8 1-15 2-2 12-3 6-7 1-8-1-12 2-4 4-3 7-1 8-8 1-8-1-12 1-8 4-4 7-1 4-3 6-8 1-8-3-12 0-10-1 3-3 2-8 2-5 3-5 12 1 20-3 4-11 3-6 5-2 8 1 16-1 4-4 2-8 0-4 3-6 11-1 16-1 1-8 0-6 3-5 8-1 14-12 2-7 7-3 12-2 2-4-2 18-63 10-48 6-20 2-17 3-6 9-5 5-7 2-8 0-16 3-8 3-4 7-4 6-8 1-8-1-16 4-12 5-8 8-5 5-11-2-19 4-16 3-8 10-8 6-8 1-8-3-12-1-8 7-24 6-8 6-4 5-7 0-12-3-12 2-16 6-20 0-22 63 0 0 22-5 8-1 8 7 22 1-2 11-8 4-8 0-8-4-12 0-22 108 0 1 30 7 18 0-2 8-5 6-7 2-8 0-26zM783 204l-4 4-8 3-6 9-1 8 3 12 0 12 1-4 11-5 7-7 2-12zM803 143l-1 2-11 6-5 10-1 8 6 19 3-3 9-5 3-3 3-8 0-8zM823 74l-3 3-9 6-3 6-1 8 4 16 0 10 1-6 11-5 7-11 0-12zM847 356l-12 4-6 7-1 12 3 16 4-3 8-1 4-3 3-5 1-12-2-12zM868 312l-9 2-4 2-5 7-1 12 3 12 3 2 12-4 6-10 0-8zM891 256l-1 4-11 4-7 8-2 8 5 21 12-6 6-7 1-8zM911 199l-4 5-9 4-6 8 0 8 3 16 0 9 0-5 12-5 7-7 1-12zM931 136l-4 4-8 4-5 9-1 8 6 20 4-4 8-4 5-8 1-8zM951 64l-12 9-4 8-1 8 5 16 4 2 8-5 4-5 3-8 0-8zM763 258l-4 4-8 3-6 7-2 12 4 18 3-2 9-3 7-9 1-8z"/>
<path fill="#e5e5e5" d="M765-20l0 22-8 28-2 4-10 8-4 8 0 8 4 15-4 16-6 15-8 5-6 8-1 12 2 16-7 20-11 8-6 8-1 8 2 15-3 12-4 5-16 7 0 7 8-58 16-82 11-49 15-44 0-22zM833-20l0 22-3 4-2 8 0 8 4 16-3 16-7 19-11 9-4 7-1 8 4 20-5 20-4 8-12 8-4 8 0 8 3 16-3 11-3 8-13 8-5 8 0 8 2 16-1 8-5 8-13 7-3 5-2 8 2 16-2 8-3 4-12 5-5 6-2 8 2 12-1 8-4 4-9 2-7 6-2 12 1 13-4 4-8 0-8 7-3 8 0 12-1 4-12 1-4 3-4 8-1 11-3 2-8 0-8 8 0-7 14-50 10-49 3-7 3-20 2-4 8-6 6-9 2-21 4-11 10-8 5-8 1-8-1-16 4-12 4-6 11-10 3-8-2-19 3-12 5-12 10-8 4-8 1-8-3-16 7-24 3-8 9-8 4-7 1-12-3-12 9-36 0-22zM955-20l0 26 5 20-8 32-4 7-10 8-4 8 0 8 4 16-6 24-3 8-10 7-6 9-1 8 4 16-3 15-4 8-12 8-5 8 0 12 2 12-1 8-7 12-11 6-4 6-1 8 3 16-4 12-4 4-10 4-3 3-3 8 2 16-2 8-3 4-11 4-6 8-2 8 2 16-3 4-3 2-8 1-6 5-3 8 1 16-2 4-2 1-8 0-4 3-5 7-2 20-13 2-5 6-3 20-12 0-4 3-3 5-3 16-10 0-4 2-6 10-2 10-8-2-3 2-6 6-2 10-4 2-4-1-4 1-4 2-8 15-8-1-4 2-8 14-8-3-4 2-4 4-4 10-8-3-4 1-5 4-3 8-12-4-4 2-4 7-4 0-8-5-8 3-4 0-9-7 1-7 16-35 12-22 12-17 10-6 6-11 12-5 4-4 4-12 4-3 8-2 6-7 6-17 8-1 6-6 4-8 2-15 12-4 6-8 1-20 2-4 10-3 4-3 4-6 2-8-1-12 2-8 5-4 8-3 6-9 1-8-2-12 2-7 5-8 8-2 6-6 2-8-2-16 0-8 6-12 12-7 5-9 0-8-3-16 5-16 5-7 8-4 6-8 1-8-4-20 7-24 3-4 10-8 4-8 0-12-3-12 3-15 8-24 10-8 4-12-4-16 0-22zM1040-20l0 770-856 0 0-22 29-5 48-13 64-19 40-16 52-26 49-20 14-3 24 6 3-3 1-8 0-183 1 100 4 4 0 31 4 4 0 12 4 8 1 8 12 20 6 6 4 1 8-5 8 9 4 1 4-2 4-5 4-1 8 6 4-1 8-9 8 4 4 0 8-10 4 0 8 4 4-2 8-12 8 4 4 0 6-8 2-5 12 1 4-2 8-14 8 2 4-2 6-8 2-8 11 0 7-7 3-12 2-3 8 1 8-6 4-18 8 1 4-2 5-5 2-4 2-16 11-1 7-7 2-8 0-12 3-4 8 0 6-4 4-8 1-19 13-5 6-7 2-8-1-16 5-6 8-1 4-3 4-6 1-8-1-16 3-8 13-5 4-7 3-8-3-16 2-7 5-8 9-4 6-8 1-12-2-12 1-8 6-12 12-7 3-5 2-12-3-16 4-15 4-8 10-7 6-9 0-8-3-12-1-8 9-28 10-8 5-8 1-12-4-12 2-15 9-28 10-8 3-4 2-8 0-26zM676 251l0 5-4 8 0-11z"/>
<path fill="#e9e9e9" d="M763-20l0 22-7 28-12 12-4 8 0 8 3 15-8 28-14 12-2 8-1 8 3 12-2 8-6 16-13 8-4 4-1 4-2-4 5-32 19-87 17-56 0-22zM833-20l0 22-4 4-2 8 0 8 4 12-3 16-7 23-10 8-4 8-2 8 3 12 1 8-8 24-2 4-11 8-3 8-1 8 3 12-2 11-5 12-11 8-5 8 0 28-5 12-12 6-3 6-3 8 2 16-2 8-3 4-11 4-5 7-2 8 1 16-2 4-4 4-7 1-7 7-3 8 0 16-2 3-8 1-7 4-4 8-1 17-12 1-4 3-7 7-1 12-3 0-2-4 13-51 12-65 10-15 4-12 2-19 2-5 12-12 3-8 0-16 3-12 3-8 8-7 6-9 1-7-1-16 2-11 6-13 9-8 4-8 1-8-2-16 6-24 3-8 9-8 4-7 0-8-2-16 9-36 0-22zM955-20l0 26 3 16-1 12-8 28-2 3-10 8-3 8-1 8 4 16-10 32-10 8-5 8 0 8 3 16-3 12-4 11-12 8-4 8 1 28-6 14-12 7-4 7-2 8 3 16-3 8-6 8-8 3-6 8-1 8 2 12-2 8-3 4-10 3-5 5-3 8 1 20-3 4-10 2-6 6-3 8 0 16-2 4-9 0-5 4-5 7 0 16-2 4-12 1-3 3-4 8-1 13-4 3-8 0-5 4-4 8-2 12-9-1-4 2-5 7-3 12-11 1-7 7-2 8-3 3-8 0-4 3-8 14-8-1-4 2-8 14-8-2-4 1-5 5-3 8-8-2-4 0-6 6-2 6-12-4-4 3-4 5-4 0-8-5-8 1-4-2 1-8 8-20 24-43 11-13 6-11 10-5 4-4 7-15 9-3 5-5 4-8 3-11 8-2 7-7 3-8 2-13 2-2 10-3 5-5 2-8 1-16 4-5 7-1 4-3 6-11 0-16 2-8 12-6 7-10 0-8-1-12 2-7 4-6 8-4 6-6 2-8-1-20 4-12 3-4 10-6 5-10 1-8-3-12 4-16 4-7 10-8 5-8 1-12-3-12 6-24 4-8 6-4 7-8 1-12-3-16 9-35 2-4 10-8 3-8 1-8-4-12 0-22zM1040-20l0 770-853 0 0-22 30-6 48-12 64-20 40-16 58-29 40-16 17-2 20 6 3-4 1-8 0-183 1 100 4 4 0 31 4 4 1 16 3 4 1 8 11 20 7 7 4 0 8-4 8 9 4 1 4-2 4-5 4-1 8 6 4-1 8-9 8 4 4 0 4-3 4-7 4 0 8 4 5-3 7-10 8 3 4 0 5-5 3-8 4 0 8 1 4-2 8-14 8 2 4-2 4-5 5-12 10 0 4-3 4-4 4-14 8 1 4-2 6-9 2-13 12-1 6-6 2-16 3-4 9 0 5-4 4-8 1-16 2-2 8-1 7-5 4-8 0-15 1-4 12-4 7-8 1-24 3-4 9-2 6-6 3-8-1-16 2-8 3-4 11-5 5-7 2-8-2-16 2-7 5-8 8-3 7-9-1-28 8-16 10-6 5-10 0-8-2-16 8-23 11-8 4-8 1-8-3-12 0-8 9-28 9-8 5-8 0-12-3-12 1-7 8-32 2-4 10-8 4-8 0-30zM692 182l4 11 0 11 0 5-4 6-4 1-1-8z"/>
<path fill="#ededed" d="M761-20l0 22-6 24-4 7-11 9-2 8 3 23-6 23-4 6-8 4-4 0 11-48 17-56 0-22zM832-20l0 22-3 4-3 12 4 16-2 12-9 27-9 8-4 8-1 8 3 16-8 28-9 8-6 8-1 8 2 20-7 19-8 5-6 7-3 12 2 12-1 8-6 12-10 5-4 7-2 8 1 16-2 8-4 4-9 3-6 8-2 26-4 4-7 2-6 4-5 12 0 16-1 1-8 1-10 6-4 8-1 12-1 2-4-2 0-4 12-59 11-72 14-24 2-24 4-12 11-12 4-8 0-23 5-19 14-17 2-12-1-16 8-28 12-16 2-11-2-16 9-36 0-22zM954-20l0 26 3 16 0 8-9 32-12 11-3 8 0 8 3 16-8 28-2 4-10 8-4 8-1 8 3 16-2 8-6 15-7 5-7 7-2 12 2 16-5 16-4 4-8 4-5 8-1 8 2 16-3 8-5 6-10 5-5 8 0 8 1 12-2 8-4 4-8 2-6 6-3 12 2 12-2 4-3 4-8 1-7 7-3 8 0 16-2 3-12 2-5 7-2 7-1 14-12 3-7 7-2 16-3 3-8 0-4 2-5 11-3 11-8-1-4 2-5 8-3 10-11 2-7 8-3 8-2 2-8 0-4 3-8 14-8-1-4 2-8 13-8-1-4 1-6 6-2 6-12-1-4 3-4 7-4 0-8-2-4 1-4 4-4 0-6-6 0-4 20-43 23-40 10-12 5-12 8-5 7-7 3-8 2-8 12-6 6-10 3-15 3-3 8-3 6-6 2-8 2-16 2-3 7-2 4-3 5-8 2-8 0-12 1-6 4-4 8-3 6-7 2-8-1-16 3-7 2-5 8-4 7-7 2-12-2-12 4-12 5-8 11-8 3-8 1-8-3-12 3-12 5-11 10-8 5-8 1-8-3-16 6-24 4-8 9-7 3-5 2-12-3-16 9-35 12-12 3-8 0-8-3-12 0-22zM1040-20l0 723-26 1-8 2-8 6-4 5-1 7 0 26-804 0 0-22 76-18 64-19 40-16 59-30 40-16 16-1 20 5 3-4 1-191 1 100 3 4 1 31 3 4 1 16 4 4 0 8 3 3 1 5 8 12 7 8 8-1 4-3 8 9 4 1 8-7 4 0 8 5 4-1 8-9 8 4 4 0 4-3 4-6 4-1 4 3 4 1 4-2 8-11 8 3 4 0 6-6 2-5 4-3 8 2 4-2 8-14 8 1 4-1 5-6 3-7 4-4 3 1 8-4 6-9 2-9 8 0 7-3 4-8 1-11 12-2 4-4 4-7 1-12 3-3 8-1 6-4 4-8 0-12 2-5 8-1 8-6 3-8 1-18 4-2 8-2 6-5 3-12-1-12 4-7 8-2 7-7 3-8-1-16 2-8 4-4 9-4 6-8 1-8 0-19 5-10 8-4 6-6 3-12-2-16 4-12 4-8 11-8 4-8 0-8-3-12 4-16 5-10 11-9 4-8-2-28 9-28 10-9 3-7 1-8-3-16 1-7 9-32 2-4 9-8 3-8 1-30zM715 132l2 13-2 8-4 7-2-3 4-20z"/>
<path fill="#f1f1f1" d="M831-20l0 22-3 4-3 12 4 16-1 8-9 30-10 9-4 8 0 12 2 12-8 28-9 8-6 8-1 12 2 12-2 9-6 14-10 7-3 5-3 12 2 16-4 11-4 5-8 4-5 8-2 8 1 16-2 6-4 5-8 2-6 6-3 12 2 12-5 9-7 1-4 2-7 8-1 22-4 1-6-3 8-48 8-59 7-24 2-24 3-8 12-16 2-11-1-16 4-14 4-8 11-14 2-12-1-16 8-28 10-12 4-7 1-8-3-16 10-36 0-22zM953-20l0 26 3 16-1 8-8 32-12 11-3 8 0 8 3 16-8 28-15 16-1 12 2 16-2 8-6 15-10 8-3 4-3 12 2 16-4 13-4 6-9 5-5 8-1 8 2 16-3 8-4 5-8 4-6 6-2 8 1 16-1 5-4 6-8 2-7 7-2 8 1 16-4 6-12 5-4 5-3 8 1 12-2 5-12 3-6 8-2 20-12 2-4 4-4 9-2 12-2 2-8 0-4 2-5 8-3 13-8 0-4 3-6 8-2 8-4 2-7 1-4 3-7 14-9 1-4 3-8 13-8 0-4 1-8 13-8-1-4 2-8 10-4 1-8-1-4 3-4 5-4 2-12-5-1-4 12-27 39-72 12-16 6-16 8-4 6-8 5-19 9-4 7-8 3-8 2-17 11-6 6-9 2-24 4-4 8-4 7-8 1-8 0-16 3-7 3-4 10-7 4-5 2-12-2-12 4-12 4-7 11-9 4-8-2-20 3-12 4-10 11-9 4-8-1-24 6-22 4-9 10-9 3-8 1-8-3-16 9-34 11-13 4-8 0-8-3-12 0-22zM1040-20l0 703-26 1-12 2-11 4-12 8-8 10-4 8-1 34-774 0 0-22 61-14 68-20 48-19 60-30 41-16 14-1 20 6 3-5 1-190 1 99 3 4 1 31 3 4 1 16 3 4 1 8 3 3 1 5 3 3 6 13 6 5 4 0 8-3 8 8 4 1 4-1 4-5 4-1 8 6 5-2 7-8 8 4 4 0 4-3 4-6 4-1 8 3 4-2 8-10 8 2 4 0 12-13 8 1 4-2 8-13 12-1 6-7 2-4 4-6 7 0 4-2 5-7 3-11 8 0 4-2 6-7 3-12 3-3 8-1 5-4 2-4 4-16 1-2 8-1 7-5 4-8 1-16 8-1 4-2 5-5 3-8 0-16 4-3 8-2 7-6 2-8 0-16 2-4 13-7 6-9 1-8-1-12 2-7 4-5 8-3 7-9 1-27 4-9 8-4 7-7 3-12-2-16 4-12 4-7 11-9 3-8 1-8-3-12 4-13 4-11 14-15 1-12-1-16 1-8 8-24 12-12 2-8-3-20 1-7 9-32 11-12 3-8 1-30z"/>
<path fill="#f5f5f5" d="M829-20l0 22-4 8-1 8 3 12 0 10-8 29-11 12-4 8 0 12 2 12-7 25-4 5-8 7-3 7-2 8 2 16-1 6-8 17-8 6-6 10-1 8 2 12-3 12-4 6-10 6-5 8-1 26-4 7-13 7-6 11 0 20-5 2-6-2 0-4 17-119 8-24 1-23 4-16 12-16 3-8 0-24 5-22 4-8 8-10 3-7 0-24 9-36 0-22zM952-20l0 26 3 12 0 11-8 30-4 6-6 4-5 8-1 12 2 16-6 25-4 7-6 4-5 8-2 8 2 16-1 9-8 18-8 6-6 10-1 8 3 12-4 15-4 6-10 7-5 8 0 24-1 5-4 7-8 3-7 8-2 8 1 16-4 9-12 6-5 9-2 8 1 12-1 4-9 3-6 5-5 8-1 20-8 1-8 7-3 4-3 19-10 2-6 6-4 8-2 12-8 1-5 3-5 8-2 10-12 3-5 7-5 12-9 1-4 4-8 14-8 1-4 2-8 13-12 2-6 6-2 5-12 1-9 10-15 1-4 3-2-4 6-15 34-64 20-44 9-12 3-8 2-11 14-12 4-8 2-17 2-3 9-5 6-7 2-8 0-16 2-4 5-4 5-2 8-10 2-8-1-16 3-7 12-10 6-10 0-20 2-10 4-7 10-7 5-8 1-8-1-16 1-8 5-12 14-15 2-12-2-16 5-18 4-11 11-11 3-8 1-8-3-16 8-31 15-20 1-12-3-12 0-22zM1006-20l1 54 3 28 4 15 4 7 22 0 0 583-26 0-20 3-18 7-13 9-10 10-7 16-1 12 0 26-750 0 0-22 14-2 60-15 64-20 40-17 32-17 26-12 41-16 15 0 17 6 2-2 2-8 0-185 1 98 3 4 1 31 3 4 1 16 3 4 1 8 3 4 1 4 3 4 5 12 7 7 12-3 4 5 8 4 12-6 8 4 4 0 8-8 12 2 11-9 9 2 4-1 8-10 12 1 4-2 8-10 8 0 4-1 5-7 3-5 8-1 8-5 8-13 7-1 4-2 7-8 1-9 8-1 9-6 2-4 4-12 9-3 6-5 4-8 2-13 8 0 8-7 3-8 1-13 4-3 8-1 6-7 3-12 1-11 2-3 8-2 8-7 2-8 0-16 2-4 12-6 5-6 2-8 1-20 4-6 8-3 6-7 3-12-1-16 6-11 10-7 5-9 1-8-1-12 3-13 4-8 9-7 5-8 1-8-1-20 6-17 4-6 8-7 3-5 2-8-2-16 1-10 8-24 10-10 3-8 1-8-2-12 0-8 8-31 4-8 5-4 5-8 1-34z"/>
<path fill="#f9f9f9" d="M827-20l0 22-2 4-2 8 2 24-6 26-4 8-6 5-5 8-2 12 2 12-1 10-8 22-9 8-4 8-2 12 2 12-3 12-4 8-9 7-6 8-1 31-4 8-12 7-6 10 0 24-2 4-4 1-3-1 0-8 19-130 16-77 10-23 2-23 12-37 0-22zM951-20l0 30 3 12-3 17-8 23-8 7-4 8-1 8 2 20-5 21-4 8-11 11-3 8-1 8 3 14-4 15-4 8-9 6-5 8-2 8 2 16-2 11-4 8-8 5-7 8-2 12 1 17-4 8-8 4-7 6-4 12 1 16-2 7-12 6-5 7-2 8-1 18-12 5-7 9-2 8 0 12-3 3-8 2-6 7-4 7-2 14-8 2-5 4-5 8-2 12-8 2-7 6-3 4-4 12-6 2-8 5-8 15-11 4-8 14-8 1-4 3-9 12-11 2-7 5-1 4-4 3-8-1-8 3 4-12 28-52 13-28 19-51 7-12 2-8 2-15 14-13 5-12 1-19 12-8 5-9 2-8 1-20 4-5 10-6 5-8 1-28 4-10 15-14 2-12-1-18 4-12 4-8 11-9 3-8 1-8-2-16 7-25 10-11 5-8 1-12-2-16 6-25 4-10 8-8 4-8 1-8-2-16 0-22zM992-20l2 93 4 36 5 28 6 16 5 9 4 3 22 0 0 485-34 0-23 4-20 6-16 9-12 13-9 18-4 20 0 30-724 0 0-22 11-1 7-3 25-5 6-3 10-1 68-20 40-16 50-26 47-20 18-4 16 4 4 2 4 1 3-3 1-192 0 97 4 6 0 29 4 6 0 14 4 4 0 8 4 4 0 4 4 4 2 12 6 7 4 2 12-1 8 7 8-1 8-4 8 4 4-1 8-7 12 2 4-2 8-7 8 2 4-2 8-8 12 0 12-13 8 1 4-2 10-13 10-1 4-3 8-13 11-4 6-6 2-7 4-5 8-2 7-6 5-15 8-2 8-7 3-8 1-9 12-4 6-7 4-20 10-4 5-4 5-12 2-15 8-2 9-10 3-8 0-17 3-3 9-4 7-8 2-12-1-12 4-8 8-3 7-9 3-8 0-16 2-10 4-5 4-2 7-6 4-8 1-29 4-9 14-14 3-12-1-20 4-13 4-7 11-11 3-8 0-8-2-12 8-30 14-18 1-12-2-16 7-29 4-11 11-11 3-8 1-30z"/>
<path fill="#fdfdfd" d="M945-20l0 26 3 16-1 13-3 7-1 8-4 7-6 5-6 7-2 8-1 12 3 16-4 17-4 7-10 8-5 12 0 28-1 9-4 7-10 7-5 8-2 16 1 20-4 5-10 7-5 8-4 12 1 20-2 4-8 4-7 8-4 11-1 20-12 7-6 9-4 24-10 5-6 7-4 12-2 11-8 4-7 9-4 8-1 8-12 8-6 7-2 8-2 4-10 5-7 7-1 2-1-2 15-44 16-63 8-44 10-71 11-16 4-12 1-30 4-9 9-8 6-12 1-32 4-14 11-14 4-8 3-12-2-23 8-26 11-14 3-8 1-12-3-12 0-22zM971 47l2 11 4 134 3 32 4 20 7 13 11 11 12 3 26 1 0 350-57 0-36 3-28 5-15 7-9 12-6 20-3 35-1 46-680 0 0-22 12 0 5-4 11 0 4-4 12 0 4-4 12 0 4-4 8 0 6-4 10 0 3-4 9 0 4-4 8 0 4-4 8 0 3-4 9-1 3-2 5-1 4-3 4-1 5-3 7-1 3-3 5-1 3-3 5-1 3-3 5-1 3-3 15-8 6-1 3-3 5-1 3-3 4 0 4-4 8-1 4-3 4 0 4-4 8-1 4-3 24 0 4 4 8 0 4-4 0-191 0 100 4 4 0 31 4 4 0 12 4 6 0 6 4 4-2 12 3 12 5 8 6 5 4 2 8-1 8 5 8 1 12-3 12 2 12-7 8 1 4-1 8-6 8 0 8-3 8-7 12-3 10-9 14-5 8-10 12-5 5-4 6-9 8-3 11-12 1-4 4-3 8-4 5-4 7-15 8-3 7-6 4-8 2-8 11-8 7-8 5-17 8-4 6-7 5-12 1-12 12-7 6-8 4-24 10-6 7-10 4-12 0-16 12-8 7-12 2-29 12-9 6-9 3-16-1-16 4-9 9-7 6-8 4-12-2-20 3-12 4-7 9-8 6-12 1-36 4-13 10-11 4-8 3-16-2-12 1-11 2-4z"/>
</g>
</g>

</g>
<path d="M101.7,183.8V139.3" stroke="#f00" stroke-width="3" fill="none"/>
<path d="M101.7,123.6L89.9,140.9L113.5,140.9Z" fill="#f00"/>
<path d="M280.7,343L259.3,322.8" stroke="#f00" stroke-width="3" fill="none"/>
<path d="M242.2,306.3L248.8,324L273.6,324Z" fill="#f00"/>
<path d="M268.7,311.5L270.2,312.6L271.8,313.5L273.3,314.2L274.8,314.7L276.3,315.2L277.8,315.5L279.4,315.7L280.9,315.9L282.4,316L283.9,316L285.4,315.9L286.9,315.8L288.5,315.7L290,315.5L291.5,315.3L293,315L294.5,314.7L296.1,314.4L297.6,314L299.1,313.6L300.6,313.2L302.1,312.7L303.7,312.2L305.2,311.7L306.7,311.2L308.2,310.6L309.7,310L311.2,309.4L312.8,308.8L314.3,308.1L315.8,307.4L317.3,306.7L318.8,306L320.4,305.3L321.9,304.5L323.4,303.7L324.9,302.9L326.4,302L328,301.2L329.5,300.3L331,299.4L332.5,298.5L334,297.5L335.5,296.6L337.1,295.6L338.6,294.6L340.1,293.5L341.6,292.5L343.1,291.4L344.7,290.3L346.2,289.1L347.7,288L349.2,286.8L350.7,285.6L352.3,284.4L353.8,283.1L355.3,281.8L356.8,280.5L358.3,279.2L359.8,277.8L361.4,276.5L362.9,275L364.4,273.6L365.9,272.1L367.4,270.6L369,269.1L370.5,267.6L372,266L373.5,264.4L375,262.7L376.6,261.1L378.1,259.3L379.6,257.6L381.1,255.8L382.6,254L384.1,252.2L385.7,250.3L387.2,248.4L388.7,246.5L390.2,244.5L391.7,242.5L393.3,240.5L394.8,238.4L396.3,236.2L397.8,234.1L399.3,231.9L400.9,229.6L402.4,227.4L403.9,225L405.4,222.7L406.9,220.3L408.4,217.8L410,215.3L411.5,212.8L413,210.2L414.5,207.6L416,204.9L417.6,202.2L419.1,199.4L420.6,196.6L422.1,193.7L423.6,190.8L425.2,187.8L426.7,184.8L428.2,181.7L429.7,178.6L431.2,175.4L432.7,172.2L434.3,168.9L435.8,165.5L437.3,162.1L438.8,158.6L440.3,155.1L441.9,151.5L443.4,147.8L444.9,144.1L446.4,140.3L447.9,136.4L449.5,132.5L451,128.5L452.5,124.4L454,120.3L455.5,116.1L457,111.8L458.6,107.4L460.1,103L461.6,98.5L463.1,93.9L464.6,89.2L466.2,84.5L467.7,79.6L469.2,74.7L470.7,69.7L472.2,64.6L473.8,59.4L475.3,54.1L476.8,48.8L478.3,43.3L479.8,37.8L481.3,32.1L482.9,26.4L484.4,20.5L485.9,14.6L487.4,8.5L488.9,2.4L490.5,-3.9L492,-10.3L493.5,-16.8" stroke="#bf00bf" stroke-width="4.3" stroke-linejoin="round" stroke-linecap="round" fill="none"/>
<path d="M268.7,256.4L270.2,258.6L271.8,260.4L273.3,261.8L274.8,262.9L276.3,263.8L277.8,264.4L279.4,264.9L280.9,265.2L282.4,265.4L283.9,265.4L285.4,265.3L286.9,265.1L288.5,264.8L290,264.4L291.5,264L293,263.4L294.5,262.8L296.1,262.2L297.6,261.4L299.1,260.6L300.6,259.7L302.1,258.8L303.7,257.9L305.2,256.8L306.7,255.8L308.2,254.6L309.7,253.5L311.2,252.2L312.8,251L314.3,249.7L315.8,248.3L317.3,246.9L318.8,245.4L320.4,244L321.9,242.4L323.4,240.8L324.9,239.2L326.4,237.5L328,235.8L329.5,234.1L331,232.3L332.5,230.4L334,228.5L335.5,226.6L337.1,224.6L338.6,222.6L340.1,220.5L341.6,218.4L343.1,216.2L344.7,214L346.2,211.7L347.7,209.4L349.2,207L350.7,204.6L352.3,202.2L353.8,199.7L355.3,197.1L356.8,194.5L358.3,191.8L359.8,189.1L361.4,186.4L362.9,183.5L364.4,180.7L365.9,177.7L367.4,174.7L369,171.7L370.5,168.6L372,165.4L373.5,162.2L375,158.9L376.6,155.5L378.1,152.1L379.6,148.7L381.1,145.1L382.6,141.5L384.1,137.8L385.7,134.1L387.2,130.3L388.7,126.4L390.2,122.5L391.7,118.4L393.3,114.3L394.8,110.2L396.3,105.9L397.8,101.6L399.3,97.2L400.9,92.7L402.4,88.2L403.9,83.5L405.4,78.8L406.9,74L408.4,69.1L410,64.1L411.5,59L413,53.9L414.5,48.6L416,43.3L417.6,37.8L419.1,32.3L420.6,26.6L422.1,20.9L423.6,15L425.2,9.1L426.7,3L428.2,-3.1L429.7,-9.4L431.2,-15.8" stroke="#bf00bf" stroke-width="3.4" stroke-linejoin="round" stroke-linecap="round" fill="none"/>
<path d="M271.7,207.2L273.2,209.4L274.7,211L276.2,212.3L277.7,213.3L279.2,214L280.7,214.5L282.2,214.7L283.7,214.8L285.2,214.7L286.7,214.4L288.2,214L289.7,213.5L291.2,212.8L292.7,212L294.2,211.2L295.7,210.2L297.2,209.1L298.7,207.9L300.2,206.7L301.7,205.4L303.2,203.9L304.7,202.4L306.2,200.9L307.7,199.2L309.2,197.5L310.7,195.7L312.2,193.9L313.7,192L315.2,190L316.7,187.9L318.2,185.8L319.7,183.6L321.2,181.4L322.7,179L324.2,176.7L325.7,174.2L327.2,171.7L328.7,169.1L330.2,166.5L331.7,163.8L333.2,161L334.7,158.2L336.2,155.3L337.7,152.3L339.2,149.3L340.7,146.2L342.2,143L343.7,139.8L345.2,136.5L346.7,133.1L348.2,129.6L349.7,126.1L351.2,122.5L352.7,118.9L354.2,115.1L355.7,111.3L357.2,107.4L358.7,103.5L360.2,99.4L361.7,95.3L363.2,91.1L364.7,86.8L366.2,82.5L367.7,78L369.2,73.5L370.7,68.9L372.2,64.2L373.7,59.4L375.2,54.5L376.7,49.5L378.2,44.5L379.7,39.3L381.2,34L382.7,28.7L384.2,23.3L385.7,17.7L387.2,12.1L388.7,6.3L390.2,0.5L391.7,-5.5L393.2,-11.6" stroke="#bf00bf" stroke-width="3.4" stroke-linejoin="round" stroke-linecap="round" fill="none"/>
<path d="M271.7,154.1L273.2,156.9L274.7,159.2L276.2,160.9L277.7,162.2L279.2,163.2L280.7,163.8L282.2,164.1L283.7,164.2L285.2,164.1L286.7,163.7L288.2,163.2L289.7,162.4L291.2,161.6L292.7,160.5L294.2,159.4L295.7,158.1L297.2,156.6L298.7,155.1L300.2,153.4L301.7,151.6L303.2,149.7L304.7,147.7L306.2,145.7L307.7,143.5L309.2,141.2L310.7,138.8L312.2,136.3L313.7,133.8L315.2,131.1L316.7,128.4L318.2,125.5L319.7,122.6L321.2,119.6L322.7,116.5L324.2,113.4L325.7,110.1L327.2,106.8L328.7,103.3L330.2,99.8L331.7,96.2L333.2,92.5L334.7,88.7L336.2,84.9L337.7,80.9L339.2,76.9L340.7,72.7L342.2,68.5L343.7,64.2L345.2,59.8L346.7,55.3L348.2,50.7L349.7,46L351.2,41.2L352.7,36.3L354.2,31.3L355.7,26.2L357.2,21.1L358.7,15.8L360.2,10.4L361.7,4.9L363.2,-0.7L364.7,-6.4L366.2,-12.2" stroke="#bf00bf" stroke-width="3.4" stroke-linejoin="round" stroke-linecap="round" fill="none"/>
<path d="M271.7,101L273.2,104.5L274.7,107.3L276.2,109.5L277.7,111.1L279.2,112.3L280.7,113.1L282.2,113.5L283.7,113.6L285.2,113.4L286.7,113L288.2,112.3L289.7,111.4L291.2,110.3L292.7,109L294.2,107.6L295.7,105.9L297.2,104.1L298.7,102.2L300.2,100.1L301.7,97.9L303.2,95.5L304.7,93L306.2,90.4L307.7,87.7L309.2,84.8L310.7,81.9L312.2,78.8L313.7,75.6L315.2,72.2L316.7,68.8L318.2,65.3L319.7,61.6L321.2,57.9L322.7,54L324.2,50.1L325.7,46L327.2,41.8L328.7,37.5L330.2,33.1L331.7,28.6L333.2,24L334.7,19.3L336.2,14.4L337.7,9.5L339.2,4.4L340.7,-0.7L342.2,-6L343.7,-11.4L345.2,-16.9" stroke="#bf00bf" stroke-width="3.4" stroke-linejoin="round" stroke-linecap="round" fill="none"/>
<path d="M271.7,47.9L273.2,52.1L274.7,55.5L276.2,58.1L277.7,60L279.2,61.5L280.7,62.4L282.2,62.9L283.7,63L285.2,62.8L286.7,62.3L288.2,61.5L289.7,60.4L291.2,59.1L292.7,57.5L294.2,55.8L295.7,53.8L297.2,51.7L298.7,49.3L300.2,46.8L301.7,44.1L303.2,41.3L304.7,38.3L306.2,35.2L307.7,31.9L309.2,28.5L310.7,24.9L312.2,21.2L313.7,17.4L315.2,13.4L316.7,9.3L318.2,5L319.7,0.7L321.2,-3.8L322.7,-8.5L324.2,-13.2" stroke="#bf00bf" stroke-width="3.4" stroke-linejoin="round" stroke-linecap="round" fill="none"/>
<path d="M271.7,-5.2L273.2,-0.3L274.7,3.6L276.2,6.7L277.7,9L279.2,10.6L280.7,11.7L282.2,12.3L283.7,12.4L285.2,12.2L286.7,11.6L288.2,10.6L289.7,9.4L291.2,7.8L292.7,6L294.2,4L295.7,1.7L297.2,-0.8L298.7,-3.6L300.2,-6.5L301.7,-9.6L303.2,-12.9L304.7,-16.4" stroke="#bf00bf" stroke-width="3.4" stroke-linejoin="round" stroke-linecap="round" fill="none"/>
<path d="M253.1,82.2h0M254.2,220.6h0M255.2,254.2h0M256.2,270.8h0M257.3,281.1h0M258.3,288.1h0M259.4,293.3h0M260.4,297.3h0M261.4,300.4h0M262.5,303h0M263.5,305.1h0M264.6,306.8h0M265.6,308.3h0M266.7,309.5h0M267.7,310.6h0M268.7,311.5h0M269.8,312.3h0M270.8,313h0M271.9,313.5h0M272.9,314h0M273.9,314.4h0M275,314.8h0M276,315.1h0M277.1,315.3h0M278.1,315.5h0M279.1,315.7h0M280.2,315.8h0M281.2,315.9h0M282.3,316h0M283.3,316h0M254.2,74.7h0M255.2,141.7h0M256.2,175h0M257.3,195.6h0M258.3,209.7h0M259.4,220.1h0M260.4,228h0M261.4,234.3h0M262.5,239.4h0M263.5,243.6h0M264.6,247h0M265.6,250h0M266.7,252.5h0M267.7,254.6h0M268.7,256.4h0M269.8,258h0M270.8,259.3h0M271.9,260.5h0M272.9,261.5h0M273.9,262.3h0M275,263h0M276,263.6h0M277.1,264.1h0M278.1,264.5h0M279.1,264.8h0M280.2,265.1h0M281.2,265.2h0M282.3,265.3h0M283.3,265.4h0M255.2,29.3h0M256.2,79.3h0M257.3,110.1h0M258.3,131.3h0M259.4,146.8h0M260.4,158.7h0M261.4,168.1h0M262.5,175.8h0M263.5,182h0M264.6,187.3h0M265.6,191.7h0M266.7,195.4h0M267.7,198.6h0M268.7,201.4h0M269.8,203.7h0M270.8,205.7h0M271.9,207.5h0M272.9,209h0M273.9,210.2h0M275,211.3h0M276,212.2h0M277.1,212.9h0M278.1,213.5h0M279.1,214h0M280.2,214.3h0M281.2,214.6h0M282.3,214.7h0M283.3,214.8h0M256.2,-16.5h0M257.3,24.6h0M258.3,52.8h0M259.4,73.5h0M260.4,89.4h0M261.4,102h0M262.5,112.2h0M263.5,120.5h0M264.6,127.5h0M265.6,133.4h0M266.7,138.4h0M267.7,142.7h0M268.7,146.3h0M269.8,149.4h0M270.8,152.1h0M271.9,154.4h0M272.9,156.4h0M273.9,158.1h0M275,159.5h0M276,160.7h0M277.1,161.7h0M278.1,162.5h0M279.1,163.1h0M280.2,163.6h0M281.2,163.9h0M282.3,164.1h0M283.3,164.2h0M259.4,0.3h0M260.4,20.1h0M261.4,35.9h0M262.5,48.6h0M263.5,59h0M264.6,67.8h0M265.6,75.1h0M266.7,81.4h0M267.7,86.7h0M268.7,91.2h0M269.8,95.2h0M270.8,98.5h0M271.9,101.4h0M272.9,103.9h0M273.9,106h0M275,107.8h0M276,109.3h0M277.1,110.5h0M278.1,111.5h0M279.1,112.3h0M280.2,112.9h0M281.2,113.3h0M282.3,113.5h0M283.3,113.6h0M262.5,-15h0M263.5,-2.5h0M264.6,8h0M265.6,16.8h0M266.7,24.3h0M267.7,30.7h0M268.7,36.2h0M269.8,40.9h0M270.8,44.9h0M271.9,48.4h0M272.9,51.3h0M273.9,53.9h0M275,56h0M276,57.8h0M277.1,59.3h0M278.1,60.5h0M279.1,61.4h0M280.2,62.1h0M281.2,62.6h0M282.3,62.9h0M283.3,63h0M269.8,-13.4h0M270.8,-8.7h0M271.9,-4.7h0M272.9,-1.2h0M273.9,1.7h0M275,4.2h0M276,6.3h0M277.1,8h0M278.1,9.4h0M279.1,10.5h0M280.2,11.4h0M281.2,12h0M282.3,12.3h0M283.3,12.4h0" stroke="#bf00bf" stroke-width="3.4" stroke-linecap="round" fill="none"/>
<path d="M252.8,0V365.1" stroke="#bf00bf" stroke-width="3.2" fill="none"/>
<path d="M326.5,365.8L331.2,365.7L335.9,365.7L340.7,365.7L345.4,365.6L350.1,365.6L354.8,365.5L359.5,365.4L364.2,365.4L368.9,365.3L373.6,365.2L378.3,365.2L383,365.1L387.8,365L392.5,364.9L397.2,364.8L401.9,364.7L406.6,364.7L411.3,364.5L416,364.4L420.7,364.3L425.4,364.2L430.1,364.1L434.8,363.9L439.6,363.8L444.3,363.6L449,363.5L453.7,363.3L458.4,363.1L463.1,362.9L467.8,362.7L472.5,362.5L477.2,362.3L481.9,362.1L486.7,361.8L491.4,361.6L496.1,361.3L500.8,361L505.5,360.7L510.2,360.4" stroke="#bf00bf" stroke-width="3.3" fill="none"/>
<path d="M0,106.9L4.1,106.9L8.3,106.9L12.4,107L16.6,107L20.7,107L24.9,107.1L29,107.1L33.2,107.1L37.3,107.2L41.5,107.2L45.6,107.2L49.8,107.3L53.9,107.3L58.1,107.4L62.2,107.5L66.4,107.5L70.5,107.6L74.7,107.7L78.8,107.8L83,107.9L87.1,108L91.3,108.1L95.4,108.3L99.6,108.4L103.7,108.6L107.9,108.8L112,109L116.1,109.2L120.3,109.4L124.4,109.7L128.6,110L132.7,110.4L136.8,110.8L141,111.2L145.1,111.6L149.2,112.2L153.3,112.7L157.4,113.4L161.5,114.1L165.6,114.9L169.6,115.8L173.7,116.8L177.7,117.9L181.6,119.1L185.6,120.5L189.4,122L193.3,123.6L197,125.3L200.7,127.3L204.3,129.4L207.8,131.6L211.2,134L214.4,136.7L217.5,139.5L220.4,142.5L223,145.6L225.5,148.9L227.9,152.3L230.3,155.8L232.5,159.3L234.7,162.8L236.8,166.4L238.7,170.1L240.5,173.8L242.1,177.6L243.6,181.5L245,185.4L246.3,189.4L247.4,193.4L248.5,197.4L249.4,201.4L250.3,205.5L251,209.6L251.6,213.7L252.2,217.8L252.6,221.9L253.1,226L253.5,230.2L253.9,234.3" stroke="#ff0000" stroke-width="3.4" fill="none" stroke-linejoin="round"/>
<path d="M85.2,365.1L89.3,365L93.4,364.8L97.5,364.6L101.6,364.4L105.7,364.2L109.8,363.9L113.9,363.7L118,363.4L122.1,363L126.2,362.7L130.2,362.3L134.3,361.8L138.4,361.4L142.5,360.8L146.6,360.2L150.7,359.6L154.8,358.8L158.9,358L163,357.1L167.1,356.2L171.2,355.1L175.3,353.9L179.4,352.6L183.5,351.1L187.6,349.5L191.7,347.7L195.8,345.7L199.9,343.5L203.9,341L208,338.2L212.1,334.9L216.2,331.2L220.3,327.1L224.4,322.5L228.5,317.5L232.6,312L236.7,305.7L240.8,298.3L244.9,289L245.9,286.3L246.2,285.4L246.5,284.4L246.9,283.5L247.2,282.5L247.5,281.4L247.8,280.3L248.1,279L248.4,277.7L248.7,276.3L249.1,274.9L249.4,273.4L249.7,271.9L250,270.3L250.3,268.7L250.6,267L250.9,265.2L251.3,263.3L251.6,261.3L251.9,259.1L252.2,256.8L252.5,254.2L252.8,250.9L253.1,247L253.5,243L253.8,239.5L254.1,236.7L254.4,234L254.7,231.6L255,229.7L255.3,228.2L255.6,226.8L256,225.4L256.3,224.1L256.6,222.9L256.9,221.7L257.2,220.7L257.5,219.6L257.8,218.6L258.2,217.5L259.2,214L263,200.4L266.8,185.5L270.6,169.3L274.4,151.6L278.2,132.3L282,111.3L285.8,88.4L289.6,63.5L293.4,36.4L297.2,6.8L301,-25.5" stroke="#ff0000" stroke-width="3.4" fill="none" stroke-linejoin="round"/>
<path d="M0,44H510.2" stroke="#000" stroke-width="3" stroke-dasharray="10.3 4.45" stroke-dashoffset="-1.3" fill="none"/>
</g>
<text transform="translate(10.8,98.6) scale(1.000,1.100)" font-family="'Liberation Serif','DejaVu Serif',serif" font-size="40" fill="#f00" textLength="27.5" lengthAdjust="spacingAndGlyphs" >Λ</text>
<text transform="translate(35.5,105) scale(1.150,1.100)" font-family="'Liberation Serif','DejaVu Serif',serif" font-size="27" fill="#f00" >1</text>
<text transform="translate(64.5,98.6) scale(1.000,1.100)" font-family="'Liberation Serif','DejaVu Serif',serif" font-size="40" fill="#f00" textLength="33" lengthAdjust="spacingAndGlyphs" >=</text>
<text transform="translate(105.7,98.6) scale(1.000,1.100)" font-family="'Liberation Serif','DejaVu Serif',serif" font-size="40" fill="#f00" textLength="43" lengthAdjust="spacingAndGlyphs" >10</text>
<text transform="translate(148.7,83.3) scale(1.000,1.100)" font-family="'Liberation Serif','DejaVu Serif',serif" font-size="27" fill="#f00" textLength="37" lengthAdjust="spacingAndGlyphs" >−7</text>
<text transform="translate(46.3,344.9) scale(1.000,1.100)" font-family="'Liberation Serif','DejaVu Serif',serif" font-size="40" fill="#f00" textLength="27.5" lengthAdjust="spacingAndGlyphs" >Λ</text>
<text transform="translate(71,351.3) scale(1.150,1.100)" font-family="'Liberation Serif','DejaVu Serif',serif" font-size="27" fill="#f00" >2</text>
<text transform="translate(100,344.9) scale(1.000,1.100)" font-family="'Liberation Serif','DejaVu Serif',serif" font-size="40" fill="#f00" textLength="33" lengthAdjust="spacingAndGlyphs" >=</text>
<text transform="translate(141.2,344.9) scale(1.000,1.100)" font-family="'Liberation Serif','DejaVu Serif',serif" font-size="40" fill="#f00" textLength="43" lengthAdjust="spacingAndGlyphs" >10</text>
<text transform="translate(184.2,329.6) scale(1.000,1.100)" font-family="'Liberation Serif','DejaVu Serif',serif" font-size="27" fill="#f00" textLength="37" lengthAdjust="spacingAndGlyphs" >−7</text>
<g transform="translate(381.8,296.7) rotate(-51)">
<text transform="translate(0,0) scale(1.000,1.100)" font-family="'Liberation Serif','DejaVu Serif',serif" font-size="42" fill="#bf00bf" font-style="italic" textLength="24" lengthAdjust="spacingAndGlyphs" >ϕ</text>
<text transform="translate(36.5,0) scale(1.000,1.100)" font-family="'Liberation Serif','DejaVu Serif',serif" font-size="40" fill="#bf00bf" textLength="30" lengthAdjust="spacingAndGlyphs" >=</text>
<text transform="translate(80,0) scale(1.000,1.100)" font-family="'Liberation Serif','DejaVu Serif',serif" font-size="42" fill="#bf00bf" font-style="italic" textLength="21" lengthAdjust="spacingAndGlyphs" >k</text>
<text transform="translate(104,0) scale(1.000,1.100)" font-family="'Liberation Serif','DejaVu Serif',serif" font-size="42" fill="#bf00bf" font-style="italic" textLength="25" lengthAdjust="spacingAndGlyphs" >π</text>
</g>
<rect x="0" y="0" width="510.2" height="365.1" fill="none" stroke="#000" stroke-width="1.7"/>
<path d="M0,365.1v7M30.7,365.1v4M48.7,365.1v4M61.4,365.1v4M71.3,365.1v4M79.4,365.1v4M86.2,365.1v4M92.2,365.1v4M97.4,365.1v4M102,365.1v7M132.8,365.1v4M150.7,365.1v4M163.5,365.1v4M173.4,365.1v4M181.4,365.1v4M188.3,365.1v4M194.2,365.1v4M199.4,365.1v4M204.1,365.1v7M234.8,365.1v4M252.8,365.1v4M265.5,365.1v4M275.4,365.1v4M283.5,365.1v4M290.3,365.1v4M296.2,365.1v4M301.5,365.1v4M306.1,365.1v7M336.8,365.1v4M354.8,365.1v4M367.6,365.1v4M377.4,365.1v4M385.5,365.1v4M392.4,365.1v4M398.3,365.1v4M403.5,365.1v4M408.2,365.1v7M438.9,365.1v4M456.8,365.1v4M469.6,365.1v4M479.5,365.1v4M487.6,365.1v4M494.4,365.1v4M500.3,365.1v4M505.5,365.1v4M510.2,365.1v7M0,352.5h-4M0,337.8h-4M0,323.2h-4M0,308.5h-4M0,293.9h-7M0,279.2h-4M0,264.5h-4M0,249.9h-4M0,235.2h-4M0,220.5h-7M0,205.9h-4M0,191.2h-4M0,176.6h-4M0,161.9h-4M0,147.2h-7M0,132.6h-4M0,117.9h-4M0,103.2h-4M0,88.6h-4M0,73.9h-7M0,59.3h-4M0,44.6h-4M0,29.9h-4M0,15.3h-4M0,0.6h-7" stroke="#000" stroke-width="1.4" fill="none"/>
<text transform="translate(-1.5,-11) scale(1.000,1.060)" font-family="'Liberation Sans','DejaVu Sans',sans-serif" font-size="43" >(b)</text>
<text transform="translate(255.1,-11) scale(1.000,1.100)" font-family="'Liberation Sans','DejaVu Sans',sans-serif" font-size="39.6" text-anchor="middle" >Linear Memory</text>
<rect x="541.9" y="0" width="18.6" height="365.1" fill="url(#vir)" stroke="#000" stroke-width="1.7"/>
<text transform="translate(574,381) scale(1.030,1.150)" font-family="'Liberation Serif','DejaVu Serif',serif" font-size="38.5" >1.5</text>
<text transform="translate(574,259.3) scale(1.030,1.150)" font-family="'Liberation Serif','DejaVu Serif',serif" font-size="38.5" >2.0</text>
<text transform="translate(574,137.6) scale(1.030,1.150)" font-family="'Liberation Serif','DejaVu Serif',serif" font-size="38.5" >2.5</text>
<text transform="translate(574,15.9) scale(1.030,1.150)" font-family="'Liberation Serif','DejaVu Serif',serif" font-size="38.5" >3.0</text>
<path d="M560.5,365.1h6.3M560.5,243.4h6.3M560.5,121.7h6.3M560.5,0h6.3" stroke="#000" stroke-width="1.4" fill="none"/>
<text transform="translate(516.4,-10.5) scale(1.000,1.050)" font-family="'Liberation Serif','DejaVu Serif',serif" font-size="45" font-style="italic" textLength="72" lengthAdjust="spacingAndGlyphs" >MC</text>
<text transform="translate(592.9,-27.3) scale(1.100,1.100)" font-family="'Liberation Serif','DejaVu Serif',serif" font-size="26" >1</text>
</g>
<g transform="translate(118.7,497.9)">
<g clip-path="url(#axclip)">
<g filter="url(#cm)"><g filter="url(#hb)">
<rect x="-10" y="-10" width="530.2" height="385.1" fill="#020202"/><g transform="scale(.5)">
<path fill="#060606" d="M-20-20l1060 0 0 684-22 0-12 10-23 6-12 12-4 2-31 6-37 11-112 12-82 5 0 22-725 0z"/>
<path fill="#0a0a0a" d="M-20-20l1060 0 0 672-22 0-8 10-8 6-19 8-20 13-72 20-120 13-91 6 0 22-700 0z"/>
<path fill="#0e0e0e" d="M-20-20l1060 0 0 664-22 0-16 18-47 26-72 19-28 4-104 11-86 6 0 22-685 0z"/>
<path fill="#121212" d="M-20-20l1060 0 0 658-22 0-16 18-6 5-41 23-20 8-56 13-28 5-112 12-89 6 0 22-670 0z"/>
<path fill="#161616" d="M-20-20l1060 0 0 654-22 0-24 23-35 22-28 11-84 19-112 12-94 7 0 22-661 0z"/>
<path fill="#1a1a1a" d="M-20-20l1060 0 0 649-22 0-24 23-19 14-24 13-24 10-84 19-104 11-105 9 0 22-654 0z"/>
<path fill="#1e1e1e" d="M-20-20l1060 0 0 644-22 0-24 24-19 14-24 14-24 10-68 18-20 3-104 12-108 9 0 22-647 0z"/>
<path fill="#222222" d="M-20-20l1060 0 0 639-22 0-24 24-23 18-24 14-24 10-64 17-24 5-104 11-111 10 0 22-640 0z"/>
<path fill="#262626" d="M-20-20l1060 0 0 634-22 0-24 25-23 19-25 15-29 12-62 16-24 5-104 12-113 10 0 22-634 0z"/>
<path fill="#2a2a2a" d="M-20-20l1060 0 0 630-22 0-26 27-21 17-24 15-32 14-63 17-25 5-116 14-104 9 0 22-627 0z"/>
<path fill="#2e2e2e" d="M-20-20l1060 0 0 626-22 0-30 31-25 20-28 15-32 13-56 15-24 5-115 14-106 9 0 22-622 0z"/>
<path fill="#323232" d="M-20-20l1060 0 0 622-22 0-30 31-25 20-28 17-38 15-54 15-26 4-109 14-111 10 0 22-617 0z"/>
<path fill="#363636" d="M-20-20l1060 0 0 618-22 0-34 35-25 20-28 16-36 14-52 15-28 6-111 14-113 10 0 22-611 0z"/>
<path fill="#3a3a3a" d="M-20-20l1060 0 0 613-22 0-34 36-21 18-28 17-40 17-52 16-32 6-107 14-118 11 0 22-606 0z"/>
<path fill="#3e3e3e" d="M-20-20l1060 0 0 609-22 0-34 36-21 18-28 18-44 20-53 15-31 7-107 14-119 11 0 22-601 0z"/>
<path fill="#424242" d="M-20-20l1060 0 0 605-22 0-38 40-21 18-29 18-45 20-46 14-32 6-109 15-122 12 0 22-596 0z"/>
<path fill="#464646" d="M-20-20l1060 0 0 601-22 0-39 42-20 17-32 20-47 21-45 13-32 7-110 15-122 12 0 22-591 0z"/>
<path fill="#4a4a4a" d="M-20-20l1060 0 0 597-22 0-41 44-22 19-32 19-49 22-39 12-36 8-112 15-121 12 0 22-586 0z"/>
<path fill="#4e4e4e" d="M-20-20l1060 0 0 592-22 0-41 45-22 20-32 20-54 24-38 11-38 8-109 16-124 12 0 22-580 0z"/>
<path fill="#525252" d="M-20-20l1060 0 0 588-22 0-44 49-19 17-36 22-55 25-37 11-41 8-102 15-129 13 0 22-575 0z"/>
<path fill="#565656" d="M-20-20l1060 0 0 584-22 0-47 53-20 16-32 21-60 27-36 10-43 9-96 15-134 13 0 22-570 0z"/>
<path fill="#5a5a5a" d="M-20-20l1060 0 0 579-22 0-47 54-20 18-36 22-60 27-56 16-119 18-135 14 0 22-565 0z"/>
<path fill="#5e5e5e" d="M-20-20l1060 0 0 575-22 0-47 55-20 18-36 23-60 27-52 15-68 13-55 8-141 14 0 22-559 0z"/>
<path fill="#626262" d="M-20-20l1060 0 0 570-22 0-47 56-21 19-36 24-59 28-23 8-29 7-66 12-57 9-146 15 0 22-554 0z"/>
<path fill="#666666" d="M-20-20l1060 0 0 565-22 0-54 64-13 12-16 12-33 20-52 24-23 8-28 7-72 13-71 10-140 13 0 22-536 0z"/>
<path fill="#6a6a6a" d="M-20-20l1060 0 0 559-22 0-53 66-12 12-16 12-34 21-56 26-48 14-72 14-67 10-147 14 0 22-533 0z"/>
<path fill="#6e6e6e" d="M-20-20l1060 0 0 554-22 0-51 66-13 13-15 12-38 24-54 25-48 15-77 15-90 12-120 12-1 22-531 0z"/>
<path fill="#727272" d="M1040-20l0 549-22 0-51 67-16 17-12 9-24 16-24 14-44 20-28 10-80 18-55 9-58 7-110 10-6 2 0 22-530 0 0-568 512 0 4-3 4-47 1-152z"/>
<path fill="#767676" d="M1040-20l0 544-22 0-52 69-15 16-16 13-44 28-44 21-32 11-81 18-50 9-103 11-65 5-7 3 0 22-529 0 0-473 516 0 4-5 4-76 2-216z"/>
<path fill="#7a7a7a" d="M1040-20l0 539-22 0-4 4-48 66-15 17-18 15-44 28-42 20-32 12-86 19-49 8-104 12-60 5-8 3 0 22-528 0 0-453 516 0 4-2 4-14 4-104 1-197z"/>
<path fill="#7e7e7e" d="M1040-20l0 534-22 0-4 3-51 72-15 16-19 16-37 24-40 20-25 10-31 10-72 15-51 8-103 12-58 5-5 3 0 22-527 0 0-439 520 0 4-6 3-21 6-107-1-197z"/>
<path fill="#818181" d="M1040-20l0 529-22 0-4 3-54 77-13 15-22 17-38 24-39 20-25 10-28 8-76 17-39 7-77 9-91 8-5 4 0 22-527 0 0-428 520 1 4-1 6-14 2-18 4-13 8-4 1-100-6-115-2-78z"/>
<path fill="#858585" d="M1040-20l0 524-22 0-4 3-16 21-41 61-10 11-26 21-38 24-39 20-49 17-76 17-35 6-87 11-85 8-6 4 0 22-526 0 0-418 512 0 8 2 8 4 8 8 4 1 4-2 4-16 5-53-10-296z"/>
<path fill="#898989" d="M1040-20l0 518-22 0-4 4-18 24-38 59-11 12-30 24-38 24-49 24-35 12-76 17-36 6-91 12-80 7-7 5 0 22-525 0 0-409 512 0 7 2 4 4 9 26 4 3 8 0 4-5 7-95-4-103-4-193z"/>
<path fill="#8d8d8d" d="M1040-20l0 513-22 0-4 4-22 29-37 59-8 9-32 26-40 25-36 18-50 18-70 16-42 7-91 12-74 6-8 6 0 22-524 0 0-400 516 1 5 4 11 32 4 3 8 0 4-4 3-19 6-91-4-103-3-193z"/>
<path fill="#919191" d="M1040-20l0 508-22 0-4 3-26 35-36 59-37 32-44 28-32 16-29 12-26 8-69 15-44 8-91 12-68 6-9 6 0 22-523 0 0-391 516 0 4 4 12 38 4 3 8 0 4-4 4-19 6-105-3-103-3-193z"/>
<path fill="#959595" d="M1040-20l0 503-22 0-4 3-16 19-15 21-34 59-21 16-17 16-45 28-31 16-28 11-24 7-74 17-44 8-91 12-62 5-9 7 0 22-523 0 0-383 512 0 4 1 4 4 12 44 4 2 8 0 4-3 5-20 7-115-3-111-3-189z"/>
<path fill="#999999" d="M1040-20l0 498-22 0-8 7-14 17-17 24-16 32-16 26-20 15-20 18-45 28-27 14-28 11-28 9-76 17-44 8-91 12-56 5-10 7 0 22-522 0 0-373 512 0 4 1 4 6 8 37 4 9 4 2 8 0 4-3 6-22 7-127-4-300z"/>
<path fill="#9d9d9d" d="M1040-20l0 493-22 0-8 7-16 18-17 24-30 57-24 19-20 19-45 28-23 12-28 12-28 8-82 19-44 8-89 12-52 4-11 8 0 22-521 0 0-360 512 0 4 2 4 8 6 31 4 11 2 3 4 1 12-2 4-7 5-34 6-123-4-300z"/>
<path fill="#a1a1a1" d="M1040-20l0 487-22 0-12 11-34 44-16 36-9 15-8 8-20 16-21 20-45 28-18 10-33 14-26 8-85 19-43 8-80 11-56 4-8 7-5 2 0 22-26 0 0-22-9 0-10 0 0 22-474 0 0-339 512 0 4 2 4 12 4 24 4 9 4 2 16-2 4-3 4-9 2-15 5-80 8-258 5-47 9-36 0-30z"/>
<path fill="#a5a5a5" d="M1040-20l0 376-22 0-3 7-2 8 0 87-1 8-40 48-9 17-11 27-9 13-50 46-54 33-31 15-24 8-119 27-97 14-56 5-8 7-7 2 0 22-10 0 0-22-23 0-16 0 0 22-118 0 0-22 1-4 6-6 8-5 16-7 34-10 61-25 40-14 8-48 1-59 3-24 4-12 4-3 12-5 12 5 5-1 3-4 3-16 18-24 10-39 9-14 2-6-2-20 0-8 7-32 8-51 8-20-3-10-28-23-4-8-4-23-3-35 3-32 4-29 4-10 8-12 8-48 4-17 4-8 16 0 8 1 5 12 3 21 4-2 12-26 4-4 4-2 32 0 4-1 4-5 1-5-5-4-2-4 0-22z"/>
<path fill="#a9a9a9" d="M1040-20l0 362-22 0-4 7-5 14-1 8 0 87-2 8-36 44-11 20-11 28-5 7-20 20-35 32-50 32-35 16-16 5-64 16-64 14-87 13-60 5-12 9-57 1 0 22-110 0 0-22 2-4 14-10 20-7 24-7 71-29 32-10 4-5 6-31 6-10 32-19 40-9 24-33 1-8-3-12 1-16 7-32 10-20 0-4-3-8-2-12 3-31 5-20 12-24 2-8 0-4-4-8 0-4 3-7 5-5 1-12 3-11 13-24 3-12 9-20 7-12 8-28 15-32 1-23-1-3-20-1-4-7-3-17 7-28 9-20 2-19 7-28 9-24 1-30z"/>
<path fill="#adadad" d="M1040-20l0 347-22 0-4 7-12 33-1 99-29 32-8 12-8 16-9 26-4 6-26 27-18 16-16 16-26 16-22 15-48 21-61 16-73 15-85 12-56 5-12 10-61 1 0 22-105 0 0-22 3-4 8-6 16-7 37-11 70-29 31-10 3-4 6-28 4-7 8-3 33-6 12-4 19-10 20-26 12-23 2-8-2-12 0-30 4-11 2-3 4-12 9-20-7-7-1-5 5-35 5-16 19-43 5-17-1-8-5-8 1-6 4-9 4-3 8-1 1-4-4-12 0-4 10-24 5-4 8 0 2-4-5-12 0-4 11-29 4-5 7 1 5-3 1-3-1-4-5-4-2-8 10-36 4-7 8 1 3-2 1-3-2-5-6-4-4-14-23-1-2-5 5-43 7-28 6-16 1-30zM751 51l-1 3 1 4 3-4z"/>
<path fill="#b1b1b1" d="M1040-20l0 333-22 0-8 16-12 34-2 8-1 95-29 32-9 16-10 24-9 16-27 31-16 14-16 18-24 14-19 14-42 20-23 7-124 28-83 12-52 4-12 11-48 0-17 1 0 22-99 0 0-22 9-8 20-9 36-11 63-26 36-13 3-4 6-24 3-6 4-3 12-3 36-5 13-3 8-4 7-8 16-25 8-18 10-16 0-4-5-8 0-12 5-16 10-16 1-4-5-8 4-7 4 1 2 6 6-1 4-3 2-8-2-3-8-5 0-12-10-3-1-4 0-8 47-127 1-8-1-4-5-8 0-8 5-12 4-5 12-2 3-5 1-8-6-12 2-9 8-17 11-1 4-4 2-5 0-7-7-12 1-8 8-26 12-5 3-5 0-8-5-8-1-8 9-36 2-4 8-2 6-5 0-4-2-8-4-4-8 2-8 6-4 1-12 0-4-1-2-8 1-12 7-24 0-26zM672 434l-5 1-1 4 2 4 4-2zM692 406l-2 1 2 1z"/>
<path fill="#b5b5b5" d="M1040-20l0 319-22 0-10 20-16 44-1 8-1 95-28 28-32 60-22 27-18 16-16 20-23 13-20 15-36 17-20 7-56 14-79 17-89 12-39 4-12 10-48 0-20 2 0 22-95 0 0-22 4-4 8-5 55-19 60-25 36-12 4-6 8-24 8-7 12-3 52-7 9-3 6-4 12-24 1-8 8-19 15-20 1-4-8-7-3-9 3-12 12-21 12-12 6-11 0-4-7-8 0-4 3-11-2-4-12-2-1-10 21-44 7-32 21-51 5-20 11-20 10-32 9-20 4-13 2-14-4-8 1-12 3-8 6-5 5-7 1-8-3-16 3-16 6-20 8-9 4-9-3-21 4-20-4-12 0-22zM668 429l-4 2-4 4 1 7 2 4 5 2 4-3 4-6-1-4-3-4zM692 401l-5 2-1 4 2 5 4 0 3-5z"/>
<path fill="#b9b9b9" d="M1040-20l0 304-22 0-13 28-19 51-1 8-1 87-1 8-14 12-10 11-40 69-19 23-17 18-11 14-25 16-22 16-42 20-24 7-127 28-64 9-56 6-9 9-7 3-44-1-23 2 0 22-91 0 0-22 11-8 12-5 36-11 71-30 30-9 6-6 8-22 8-7 12-4 52-7 24-6 12-7 14-17-2-4-8-2-6-6 6-19 20-28 0-3-8-4-6-9 1-8 9-17 16-19 9-16 11-11 2-8-2-6-16-9-12-1-2-4 2-8 20-42 3-22 4-12 40-103 20-59 2-20 7-20-2-20 7-32 12-19-1-20 5-28-1-30zM775 226l0 4 4-1 0-2zM839 13l-2 1-1 4 3 1zM692 398l-4 1-4 4-1 4 1 4 4 4 4 0 4-4 1-4-1-5zM711 366l-3 5 3 4 3-4zM735 327l-4-1 0 6 4-3zM755 278l-2 2 0 4 2 1 2-1 1-4z"/>
<path fill="#bdbdbd" d="M1040-20l0 276-22 0-4 20-35 87-5 95-2 8-17 18-28 41-17 33-44 55-48 32-31 16-28 10-135 29-56 8-56 5-10 11-6 2-48 0-22 2 0 22-87 0 0-22 10-7 16-7 34-10 69-29 32-10 5-4 4-12 7-12 12-8 56-7 24-5 14-8 20-24-2-2-12-3-4-3-1-4 5-15 20-27 4-9 0-2-8-3-4-3-4-12 8-16 32-41 4-10-1-8-8-8-3-8-12-2-3-2 1-4 22-52 2-20 5-16 32-82 20-56 11-44 0-24 5-24 3-12 8-15 0-20 6-28 0-30zM775 223l-2 5 2 6 4-1 3-5-1-4-2-2zM799 161l-4 4 0 4 4 3 3-3 1-4zM819 91l-4 2 0 4 4 4 3-4 0-4zM835 11l-2 3 0 4 2 3 4 1 3-4 0-4-3-4zM692 396l-8 2-4 5 1 12 3 3 3 1 5-2 2-2 4-8-2-8zM711 363l-3 3-2 5 2 5 3 1 5-6-1-5zM735 323l-4 0-2 4 0 4 2 3 4-1 3-6zM755 275l-4 3-1 6 5 4 4-3 1-5-1-3z"/>
<path fill="#c1c1c1" d="M1040-20l0 229-22 0-3 11-8 56-32 75-4 16-6 72-4 27-34 41-9 15-16 32-22 31-22 28-47 32-29 16-23 8-142 31-49 7-56 5-10 12-6 2-48-1-26 3 0 22-82 0 0-22 9-6 16-7 36-10 67-29 32-10 5-5 5-12 6-8 12-9 76-12 18-7 5-4 7-12 12-12 0-4-17-4-2-4 5-15 22-32 6-12-9-4-3-4-4-12 1-4 21-32 10-12 8-19 12-11 4-9-1-8-3-4-4-2-8 1-12 5-9 0-3-4 20-48 3-12 1-12 4-13 35-94 17-51 8-32 7-52 9-23 0-20 6-28 0-30zM779 220l-4 0-4 7 1 5 3 4 4 0 5-8-1-4zM799 159l-4 2-2 4 2 8 4 2 4-4 2-6-2-5zM819 88l-4 2-2 3 0 4 2 5 4 2 3-3 2-4-1-6zM835 7l-4 4-1 7 2 4 3 2 4 0 4-4 1-6-5-6zM711 361l-3 2-3 4-1 8 4 4 3 0 4-3 3-5-2-8zM735 320l-4 1-4 6 0 6 4 4 4-1 4-5-1-8zM755 273l-4 3-2 8 2 5 4 1 5-2 2-8-3-6z"/>
<path fill="#c5c5c5" d="M1040-20l0 163-22 0-4 13-10 44-4 76-13 33-15 26-6 20-15 107-4 7-16 16-12 15-44 81-24 32-46 32-28 16-22 8-146 31-41 6-56 5-4 4-7 9-5 1-48 0-23 2-6 1 0 22-77 0 0-22 7-5 16-7 36-10 71-30 28-9 6-6 6-13 16-13 76-13 20-7 7-6 5-8 13-16 2-4-3-2-16-4-2-6 6-11 24-36 6-12 0-4-9-4-4-16 1-4 10-17 14-19 10-19 10-12 3-12-1-8-4-5-8-2-16 1-4-1-1-5 20-48 5-31 40-108 16-55 4-16 7-48 6-19 1-20 5-28 1-30zM779 218l-4 0-5 6 0 8 5 7 4 0 3-3 4-8-2-8zM799 156l-4 2-3 7 0 4 3 7 4 1 6-4 2-8-4-8zM819 86l-4 1-4 6 1 8 3 4 4 1 4-3 3-6-2-8zM835 4l-4 2-3 4-1 4 1 8 7 5 4-1 4-3 2-5-2-9-4-4zM711 359l-7 4-3 8 2 8 5 3 3 0 4-3 4-8-1-8-3-3zM735 318l-4 0-4 3-2 6 1 8 5 4 4-1 5-7 1-8zM759 271l-4 0-6 5-2 8 4 8 4 1 4-2 5-7-1-8z"/>
<path fill="#c9c9c9" d="M1040-20l0 35-22 0-35 154-1 8 5 19 3 24 3 56-6 15-16 23-8 18-6 23-8 60-6 23-12 28-12 14-10 14-43 83-14 20-9 16-8 7-22 13-15 12-26 16-17 6-154 33-33 5-56 5-12 14-4 1-52 0-23 2-5 1 0 22-73 0 0-22 6-4 19-8 37-10 67-29 28-10 5-2 7-14 12-11 8-4 72-12 21-7 7-4 20-28 2-4-1-4-17-3-3-5 6-11 12-16 21-36 0-8-4-1-4-4-1-23 5-8 9-12 11-19 13-20 3-24 11-6 5-10-2-12-3-3-4 0-3 1-7 6-5 17-20-2-2-3 0-4 19-44 3-12 0-15 4-14 33-90 18-59 16-79 1-16 6-36 0-26 49 0 0 22-2 16 4 8 6 3 4 0 8-3 3-8-1-8-6-8 0-22zM783 216l-8 1-4 3-3 4 2 12 5 6 4 0 4-3 5-7 0-8zM803 154l-8 2-4 5-1 4 3 12 2 3 4 1 7-4 3-8-1-8zM819 83l-4 1-4 3-2 6 2 10 4 5 4 0 5-3 3-8-1-8-3-4zM739 317l-8-1-4 2-3 5-2 8 5 9 8 0 5-5 3-8zM759 269l-8 1-4 4-2 6 1 8 5 7 8-1 6-6 1-4 0-8-3-5z"/>
<path fill="#cdcdcd" d="M990-20l0 30-7 43-4 44-3 24-8 28-13 23-1 5 10 39 19 46 1 14-2 4-16 12-7 12-7 23-5 44-4 13-18 43-11 35-23 40-20 42-36 69-4 4-22 12-18 16-25 16-9 4-165 35-27 4-53 5-4 3-4 8-4 4-4 1-52-1-27 3-4 1 0 22-68 0 0-22 5-4 55-17 69-30 26-9 6-3 6-12 4-4 16-11 76-13 22-8 19-16 3-12 5-8 1-4-6-3-12-2-4-3 1-3 20-28 19-36 4-8-9-8-1-20 13-20 5-11 13-20 7-24 8-8 5-8 0-16-2-5-4-3-4 0-7 2-12 14-8 1-2-1 0-4 20-51 2-8-2-12 2-13 30-79 19-63 16-79 1-20 5-32 1-26 41 0 0 22-6 40 0 11 4 0 4-2 12-16 12-7 4-6 1-8-5-12 0-22zM787 211l-4 0-11 5-5 8 0 8 4 14 4 3 8-2 4-3 6-12 0-12zM803 151l-11 6-3 8 1 8 5 13 4 2 8-4 6-11 0-8-3-8-3-5zM815 79l-7 6-2 4 0 8 5 10 4 5 4 0 8-7 1-4 1-8-2-6-4-6zM739 312l-8 0-4 2-5 5-3 12 2 8 2 4 4 1 8-2 7-7 3-12-3-8zM767 266l-4-1-8 1-9 6-2 4-1 8 4 13 4 2 4 0 11-7 4-8 1-8 0-4z"/>
<path fill="#d1d1d1" d="M814-20l-1 30-14 64-2 19 1 4 9 11 5 9 0 4-3 12-5 12-15 12-2 8 3 16-1 11-8 16-10 6-6 6-1 8 2 20-6 12-13 5-6 7-3 12 1 16-4 3-20 6-4 0 2-21-5-8 0-4 30-80 19-67 14-67 6-56 1-26zM968-20l0 22 1 4 6 3 2 5 0 12-17 87-17 64-2 83-10 45-7 62-17 48-10 51-26 50-12 19-21 50-15 28-23 16-16 16-23 16-10 4-71 15-56 10-41 10-71 7-4 3-5 10-7 4-52-1-27 3-8 2 0 22-62 0 0-22 6-4 48-15 65-28 38-14 12-15 16-11 72-13 20-6 10-5 19-16 3-12 7-12-3-4-19-4-1-3 4-8 20-24 20-41 1-7-1-2-5-2-2-4 1-12 9-16 5-15 10-16 8-24 11-16 5-28 16-12 4-8 4-19 3-4 14-9 12-18 20-49 20-55 4-16 0-17-5-7-1-12 1-4 10-12 3-8 0-12-6-16 7-27 4-8 7-7 6-9 0-8-4-12 0-22z"/>
<path fill="#d5d5d5" d="M810-20l-1 34-23 91-6 28 1 4 2 4 16-13 1 5 0 8-15 12-2 12 4 16-2 11-6 12-4 4-8 3-6 5-4 8-2 15-5-11-1-20 6-35 0-26 19-89 6-56 0-22zM963-20l0 26 7 12 1 12-9 43-7 16-1 20-14 60-11 75-6 12-12 12-5 12-3 59-2 16-6 16-4 20-9 75-11 21-15 15-7 12-7 16-11 36-15 23-7 24-18 16-14 16-22 16-11 4-25 5-99 19-46 11-62 6-4 3-5 11-7 4-56-2-27 3-8 3 0 22-56 0 0-22 7-4 45-13 31-13 36-17 35-12 5-4 8-11 16-11 72-13 24-7 8-5 20-17 10-20 1-4-1-4-22-6-2-1 2-4 21-24 7-12 7-20 12-24 1-4-8-4 0-8 25-43 2-8 0-13 4-10 9-13 3-21 5-7 15-12 4-7 12-15 8-13 20-44 32-84 12-55 2-24-4-20 2-15 4-20 11-20 1-8-3-12 0-22z"/>
<path fill="#d9d9d9" d="M807-20l0 30-4 15-20 61-8 17-4 4 0-17 8-52 3-36 0-22zM959-20l0 26 6 16 0 8-8 43-3 4-7 5-2 3 0 4 5 12 0 8-9 36-6 16-3 24-8 27-25 72-8 55-4 9-18 19-2 4-4 48-6 35-3 8-18 16-9 16-5 20-7 44-20 23-2 4 3 24-2 8-25 28-14 12-19 8-136 25-36 10-52 4-5 4-5 12-6 3-60-2-23 2-14 5 0 22-47 0 0-22 9-4 48-14 27-12 35-17 33-11 4-3 8-11 16-10 20-5 52-9 24-7 24-17 19-19 1-4-2-12-5-4-17-3-2-4 6-8 19-20 7-12 6-20 12-24 0-8-5-4 1-4 23-39 16-32 2-8-3-12 1-9 4-4 12-6 8-10 8-14 29-64 33-83 12-44 9-44 1-20-4-23 3-12 7-16-2-42z"/>
<path fill="#dddddd" d="M802-20l0 34-11 29-4 9-4 4 4-76zM955-20l0 26 4 20-4 32-3 11-9 9-3 7 0 4 5 12 0 8-8 36-2 5-9 7-1 4 4 12-2 12-12 34-9 5 3 16-10 30-4 7-4 3-6 0-1 4 4 8 0 4-6 19-7 11-12 3-2 6 2 12-2 8-10 15-10 5-1 4 3 12-5 24 6 12-1 9-8 12-12 5-9 9-3 8-5 52-5 24-6 9-12 4-3 3-1 4-1 15 6 28-1 8-25 32-18 12-11 4-81 15-56 8-26 8-23 4-31 2-6 6-5 12-5 3-53-3-11-3-25-1 21-8 16-12 20-11 19-8 21-6 4-2 8-10 16-11 32-7 44-8 24-7 43-37 2-8-2-8-3-4-20-5-3-2 5-8 22-24 8-12 5-20 15-34 4-18 31-59 32-67 34-80 24-63 16-56 11-56 2-23-2-62zM389 724l-2 4 0 22-20 0 0-22 14-4z"/>
<path fill="#e1e1e1" d="M948-20l1 38-3 40-1 7-7 12-2 8 5 20-1 8-6 28-3 6-8 5-3 5 0 4 5 12-2 12-8 24-4 5-8 4-2 2-1 8 4 12-9 27-4 4-8 2-4 6-1 5 3 12-3 12-7 11-12 8-1 4 0 16-3 8-5 8-11 8-2 4 1 16-3 10-4 7-12 1-4 6 0 5 6 11-1 4-15 27-4 20-1 24-5 13-4 3-20 0-3-4-2-8-5-4-6-1-2 5 1 12-3 4-8 4-8 0-3 4-1 8-4 6-4 3-8 1-2 2-2 4 0 4 20 1 16 5 8 5 6 8 8 16 5 16-1 4-16 24-7 8-10 8-18 8-78 13-60 7-40 11-32 4-5 4-7 16-4 2-39-2-7-4 0-16 1-4 10-7 25-12 22-6 9-10 15-10 100-22 43-36 9-12 8-3 5-5 1-4-2-2-4-1-12 3-9-3-18-4-1-4 27-28 13-20 2-16 11-28 10-17 12-30 49-104 57-138 20-68 13-55 5-32 0-42zM775 475l-2 3 0 4 2 5 4 1 3-6-1-4zM795 445l-2 5 1 4 5 2 4-2 1-4-1-4-4-2z"/>
<path fill="#e5e5e5" d="M923-20l0 30 8 32 1 16-2 27-1 48-2 7-8 8-4 9 1 8 4 12-1 8-8 21-12 9-3 5 1 24-6 17-12 11-3 4-1 8 1 12-4 12-5 7-8 7-3 5-4 24-4 8-13 13-3 19-3 8-13 8-3 4-2 8 1 12-1 6-4 2-8-1-4 2-5 6-2 8 1 4 7 8-1 4-4 6-4-1-8-7-4 0-4 4-3 6-1 4 3 12-1 4-6 2-8-2-4 3-2 5-1 12-1 4-4 2-8 0-4 2-2 4-3 12-3 3-12 3-7 14-24 2-20-3-5-3 3-4 27-28 13-20 2-8-1-12 5-11 23-42 16-42 101-218 22-72 23-87 1-34zM762 609l0 8-15 28-21 16-82 14-84 8-32 8-12 0-4 2-7 11-6 16-7 1-23-1-7-4 0-24 9-7 19-8 22-4 8-12 12-7 36-9 60-11 8-3 16-18 24-17 8-9 12-7 12-11 19 0 16 7 9 9z"/>
<path fill="#e9e9e9" d="M907 83l3 14 2 28 0 12-3 20 2 20-7 23-11 16-3 28-7 16-10 16-2 16-3 12-4 8-10 11-5 24-4 8-13 16-5 20-4 5-11 11-9 21-12 11-9 15-15 18-8 17-12 11-4 14-3 4-9 3-4 4-4 13-4 3-8 2-2 3-5 9-4 4-20 2-20-3 0-4 27-28 17-24 3-8-3-12 4-12 19-32 13-23 7-26 11-26 37-75 61-111 19-50 12-26 12-17 4-3zM752 613l-1 8-11 24-15 12-9 4-68 11-40 4-76 3-8-2-3-4 0-8 3-4 8-5 24-5 23-6 57-11 7-5 8-12 9-7 44-33 7-4 16 2 12 6 5 8zM505 677l3 4-2 15-9 24-17 0-8-4 1-27 11-8 12-5z"/>
<path fill="#ededed" d="M887 149l3 12-1 20-13 71-8 20-8 32-10 19-6 24-15 24-6 15-13 17-11 20-41 59-13 16-7 12-12 12-7 12-11 8-8 11-4 3-16 3-12-3-3-2 29-32 16-24 4-12-5-8 2-11 21-32 15-28 8-20 4-20 20-36 37-55 31-56 32-61zM743 613l-1 8-10 24-9 8-12 5-71 13-104 2-5 0-5-4 0-4 6-6 28-5 32-9 40-7 8-3 7-6 5-8 7-8 33-20 16-12 15 0 8 4zM500 680l2 5-1 11-4 20-5 2-6-2-1-27 1-4 6-4z"/>
<path fill="#f1f1f1" d="M859 227l2 5-1 12-12 52-16 51-17 39-40 66-40 54-20 24-13 12-6 8-8 4-10 0 1-4 26-36 16-28 0-8-7-8 1-6 35-53 12-24 8-20 34-48zM733 613l-1 8-7 24-6 4-15 6-60 13-80 0-28-1-4-2 48-11 24-9 36-6 9-6 13-16 6-5 8-4 16-5 16-10 7-1 8 2 4 5z"/>
<path fill="#f5f5f5" d="M819 327l0 10-10 30-30 59-24 41-8 7-12 5-5-9-4-4-1-4 38-49zM722 613l1 8-5 20-3 4-8 4-31 5-16 7-16 4-36-1-18-3 20-12 26-5 12-5 12-8 10-14 6-3 35-5 8 1z"/>
<path fill="#f9f9f9" d="M644 651l1 2-1 2z"/>
</g>
</g>

</g>
<path d="M101.7,183.8V139.3" stroke="#f00" stroke-width="3" fill="none"/>
<path d="M101.7,123.6L89.9,140.9L113.5,140.9Z" fill="#f00"/>
<path d="M280.7,343L259.3,322.8" stroke="#f00" stroke-width="3" fill="none"/>
<path d="M242.2,306.3L248.8,324L273.6,324Z" fill="#f00"/>
<path d="M268.7,311.5L270.2,312.6L271.8,313.5L273.3,314.2L274.8,314.7L276.3,315.2L277.8,315.5L279.4,315.7L280.9,315.9L282.4,316L283.9,316L285.4,315.9L286.9,315.8L288.5,315.7L290,315.5L291.5,315.3L293,315L294.5,314.7L296.1,314.4L297.6,314L299.1,313.6L300.6,313.2L302.1,312.7L303.7,312.2L305.2,311.7L306.7,311.2L308.2,310.6L309.7,310L311.2,309.4L312.8,308.8L314.3,308.1L315.8,307.4L317.3,306.7L318.8,306L320.4,305.3L321.9,304.5L323.4,303.7L324.9,302.9L326.4,302L328,301.2L329.5,300.3L331,299.4L332.5,298.5L334,297.5L335.5,296.6L337.1,295.6L338.6,294.6L340.1,293.5L341.6,292.5L343.1,291.4L344.7,290.3L346.2,289.1L347.7,288L349.2,286.8L350.7,285.6L352.3,284.4L353.8,283.1L355.3,281.8L356.8,280.5L358.3,279.2L359.8,277.8L361.4,276.5L362.9,275L364.4,273.6L365.9,272.1L367.4,270.6L369,269.1L370.5,267.6L372,266L373.5,264.4L375,262.7L376.6,261.1L378.1,259.3L379.6,257.6L381.1,255.8L382.6,254L384.1,252.2L385.7,250.3L387.2,248.4L388.7,246.5L390.2,244.5L391.7,242.5L393.3,240.5L394.8,238.4L396.3,236.2L397.8,234.1L399.3,231.9L400.9,229.6L402.4,227.4L403.9,225L405.4,222.7L406.9,220.3L408.4,217.8L410,215.3L411.5,212.8L413,210.2L414.5,207.6L416,204.9L417.6,202.2L419.1,199.4L420.6,196.6L422.1,193.7L423.6,190.8L425.2,187.8L426.7,184.8L428.2,181.7L429.7,178.6L431.2,175.4L432.7,172.2L434.3,168.9L435.8,165.5L437.3,162.1L438.8,158.6L440.3,155.1L441.9,151.5L443.4,147.8L444.9,144.1L446.4,140.3L447.9,136.4L449.5,132.5L451,128.5L452.5,124.4L454,120.3L455.5,116.1L457,111.8L458.6,107.4L460.1,103L461.6,98.5L463.1,93.9L464.6,89.2L466.2,84.5L467.7,79.6L469.2,74.7L470.7,69.7L472.2,64.6L473.8,59.4L475.3,54.1L476.8,48.8L478.3,43.3L479.8,37.8L481.3,32.1L482.9,26.4L484.4,20.5L485.9,14.6L487.4,8.5L488.9,2.4L490.5,-3.9L492,-10.3L493.5,-16.8" stroke="#bf00bf" stroke-width="4.3" stroke-linejoin="round" stroke-linecap="round" fill="none"/>
<path d="M268.7,256.4L270.2,258.6L271.8,260.4L273.3,261.8L274.8,262.9L276.3,263.8L277.8,264.4L279.4,264.9L280.9,265.2L282.4,265.4L283.9,265.4L285.4,265.3L286.9,265.1L288.5,264.8L290,264.4L291.5,264L293,263.4L294.5,262.8L296.1,262.2L297.6,261.4L299.1,260.6L300.6,259.7L302.1,258.8L303.7,257.9L305.2,256.8L306.7,255.8L308.2,254.6L309.7,253.5L311.2,252.2L312.8,251L314.3,249.7L315.8,248.3L317.3,246.9L318.8,245.4L320.4,244L321.9,242.4L323.4,240.8L324.9,239.2L326.4,237.5L328,235.8L329.5,234.1L331,232.3L332.5,230.4L334,228.5L335.5,226.6L337.1,224.6L338.6,222.6L340.1,220.5L341.6,218.4L343.1,216.2L344.7,214L346.2,211.7L347.7,209.4L349.2,207L350.7,204.6L352.3,202.2L353.8,199.7L355.3,197.1L356.8,194.5L358.3,191.8L359.8,189.1L361.4,186.4L362.9,183.5L364.4,180.7L365.9,177.7L367.4,174.7L369,171.7L370.5,168.6L372,165.4L373.5,162.2L375,158.9L376.6,155.5L378.1,152.1L379.6,148.7L381.1,145.1L382.6,141.5L384.1,137.8L385.7,134.1L387.2,130.3L388.7,126.4L390.2,122.5L391.7,118.4L393.3,114.3L394.8,110.2L396.3,105.9L397.8,101.6L399.3,97.2L400.9,92.7L402.4,88.2L403.9,83.5L405.4,78.8L406.9,74L408.4,69.1L410,64.1L411.5,59L413,53.9L414.5,48.6L416,43.3L417.6,37.8L419.1,32.3L420.6,26.6L422.1,20.9L423.6,15L425.2,9.1L426.7,3L428.2,-3.1L429.7,-9.4L431.2,-15.8" stroke="#bf00bf" stroke-width="3.4" stroke-linejoin="round" stroke-linecap="round" fill="none"/>
<path d="M271.7,207.2L273.2,209.4L274.7,211L276.2,212.3L277.7,213.3L279.2,214L280.7,214.5L282.2,214.7L283.7,214.8L285.2,214.7L286.7,214.4L288.2,214L289.7,213.5L291.2,212.8L292.7,212L294.2,211.2L295.7,210.2L297.2,209.1L298.7,207.9L300.2,206.7L301.7,205.4L303.2,203.9L304.7,202.4L306.2,200.9L307.7,199.2L309.2,197.5L310.7,195.7L312.2,193.9L313.7,192L315.2,190L316.7,187.9L318.2,185.8L319.7,183.6L321.2,181.4L322.7,179L324.2,176.7L325.7,174.2L327.2,171.7L328.7,169.1L330.2,166.5L331.7,163.8L333.2,161L334.7,158.2L336.2,155.3L337.7,152.3L339.2,149.3L340.7,146.2L342.2,143L343.7,139.8L345.2,136.5L346.7,133.1L348.2,129.6L349.7,126.1L351.2,122.5L352.7,118.9L354.2,115.1L355.7,111.3L357.2,107.4L358.7,103.5L360.2,99.4L361.7,95.3L363.2,91.1L364.7,86.8L366.2,82.5L367.7,78L369.2,73.5L370.7,68.9L372.2,64.2L373.7,59.4L375.2,54.5L376.7,49.5L378.2,44.5L379.7,39.3L381.2,34L382.7,28.7L384.2,23.3L385.7,17.7L387.2,12.1L388.7,6.3L390.2,0.5L391.7,-5.5L393.2,-11.6" stroke="#bf00bf" stroke-width="3.4" stroke-linejoin="round" stroke-linecap="round" fill="none"/>
<path d="M271.7,154.1L273.2,156.9L274.7,159.2L276.2,160.9L277.7,162.2L279.2,163.2L280.7,163.8L282.2,164.1L283.7,164.2L285.2,164.1L286.7,163.7L288.2,163.2L289.7,162.4L291.2,161.6L292.7,160.5L294.2,159.4L295.7,158.1L297.2,156.6L298.7,155.1L300.2,153.4L301.7,151.6L303.2,149.7L304.7,147.7L306.2,145.7L307.7,143.5L309.2,141.2L310.7,138.8L312.2,136.3L313.7,133.8L315.2,131.1L316.7,128.4L318.2,125.5L319.7,122.6L321.2,119.6L322.7,116.5L324.2,113.4L325.7,110.1L327.2,106.8L328.7,103.3L330.2,99.8L331.7,96.2L333.2,92.5L334.7,88.7L336.2,84.9L337.7,80.9L339.2,76.9L340.7,72.7L342.2,68.5L343.7,64.2L345.2,59.8L346.7,55.3L348.2,50.7L349.7,46L351.2,41.2L352.7,36.3L354.2,31.3L355.7,26.2L357.2,21.1L358.7,15.8L360.2,10.4L361.7,4.9L363.2,-0.7L364.7,-6.4L366.2,-12.2" stroke="#bf00bf" stroke-width="3.4" stroke-linejoin="round" stroke-linecap="round" fill="none"/>
<path d="M271.7,101L273.2,104.5L274.7,107.3L276.2,109.5L277.7,111.1L279.2,112.3L280.7,113.1L282.2,113.5L283.7,113.6L285.2,113.4L286.7,113L288.2,112.3L289.7,111.4L291.2,110.3L292.7,109L294.2,107.6L295.7,105.9L297.2,104.1L298.7,102.2L300.2,100.1L301.7,97.9L303.2,95.5L304.7,93L306.2,90.4L307.7,87.7L309.2,84.8L310.7,81.9L312.2,78.8L313.7,75.6L315.2,72.2L316.7,68.8L318.2,65.3L319.7,61.6L321.2,57.9L322.7,54L324.2,50.1L325.7,46L327.2,41.8L328.7,37.5L330.2,33.1L331.7,28.6L333.2,24L334.7,19.3L336.2,14.4L337.7,9.5L339.2,4.4L340.7,-0.7L342.2,-6L343.7,-11.4L345.2,-16.9" stroke="#bf00bf" stroke-width="3.4" stroke-linejoin="round" stroke-linecap="round" fill="none"/>
<path d="M271.7,47.9L273.2,52.1L274.7,55.5L276.2,58.1L277.7,60L279.2,61.5L280.7,62.4L282.2,62.9L283.7,63L285.2,62.8L286.7,62.3L288.2,61.5L289.7,60.4L291.2,59.1L292.7,57.5L294.2,55.8L295.7,53.8L297.2,51.7L298.7,49.3L300.2,46.8L301.7,44.1L303.2,41.3L304.7,38.3L306.2,35.2L307.7,31.9L309.2,28.5L310.7,24.9L312.2,21.2L313.7,17.4L315.2,13.4L316.7,9.3L318.2,5L319.7,0.7L321.2,-3.8L322.7,-8.5L324.2,-13.2" stroke="#bf00bf" stroke-width="3.4" stroke-linejoin="round" stroke-linecap="round" fill="none"/>
<path d="M271.7,-5.2L273.2,-0.3L274.7,3.6L276.2,6.7L277.7,9L279.2,10.6L280.7,11.7L282.2,12.3L283.7,12.4L285.2,12.2L286.7,11.6L288.2,10.6L289.7,9.4L291.2,7.8L292.7,6L294.2,4L295.7,1.7L297.2,-0.8L298.7,-3.6L300.2,-6.5L301.7,-9.6L303.2,-12.9L304.7,-16.4" stroke="#bf00bf" stroke-width="3.4" stroke-linejoin="round" stroke-linecap="round" fill="none"/>
<path d="M253.1,82.2h0M254.2,220.6h0M255.2,254.2h0M256.2,270.8h0M257.3,281.1h0M258.3,288.1h0M259.4,293.3h0M260.4,297.3h0M261.4,300.4h0M262.5,303h0M263.5,305.1h0M264.6,306.8h0M265.6,308.3h0M266.7,309.5h0M267.7,310.6h0M268.7,311.5h0M269.8,312.3h0M270.8,313h0M271.9,313.5h0M272.9,314h0M273.9,314.4h0M275,314.8h0M276,315.1h0M277.1,315.3h0M278.1,315.5h0M279.1,315.7h0M280.2,315.8h0M281.2,315.9h0M282.3,316h0M283.3,316h0M254.2,74.7h0M255.2,141.7h0M256.2,175h0M257.3,195.6h0M258.3,209.7h0M259.4,220.1h0M260.4,228h0M261.4,234.3h0M262.5,239.4h0M263.5,243.6h0M264.6,247h0M265.6,250h0M266.7,252.5h0M267.7,254.6h0M268.7,256.4h0M269.8,258h0M270.8,259.3h0M271.9,260.5h0M272.9,261.5h0M273.9,262.3h0M275,263h0M276,263.6h0M277.1,264.1h0M278.1,264.5h0M279.1,264.8h0M280.2,265.1h0M281.2,265.2h0M282.3,265.3h0M283.3,265.4h0M255.2,29.3h0M256.2,79.3h0M257.3,110.1h0M258.3,131.3h0M259.4,146.8h0M260.4,158.7h0M261.4,168.1h0M262.5,175.8h0M263.5,182h0M264.6,187.3h0M265.6,191.7h0M266.7,195.4h0M267.7,198.6h0M268.7,201.4h0M269.8,203.7h0M270.8,205.7h0M271.9,207.5h0M272.9,209h0M273.9,210.2h0M275,211.3h0M276,212.2h0M277.1,212.9h0M278.1,213.5h0M279.1,214h0M280.2,214.3h0M281.2,214.6h0M282.3,214.7h0M283.3,214.8h0M256.2,-16.5h0M257.3,24.6h0M258.3,52.8h0M259.4,73.5h0M260.4,89.4h0M261.4,102h0M262.5,112.2h0M263.5,120.5h0M264.6,127.5h0M265.6,133.4h0M266.7,138.4h0M267.7,142.7h0M268.7,146.3h0M269.8,149.4h0M270.8,152.1h0M271.9,154.4h0M272.9,156.4h0M273.9,158.1h0M275,159.5h0M276,160.7h0M277.1,161.7h0M278.1,162.5h0M279.1,163.1h0M280.2,163.6h0M281.2,163.9h0M282.3,164.1h0M283.3,164.2h0M259.4,0.3h0M260.4,20.1h0M261.4,35.9h0M262.5,48.6h0M263.5,59h0M264.6,67.8h0M265.6,75.1h0M266.7,81.4h0M267.7,86.7h0M268.7,91.2h0M269.8,95.2h0M270.8,98.5h0M271.9,101.4h0M272.9,103.9h0M273.9,106h0M275,107.8h0M276,109.3h0M277.1,110.5h0M278.1,111.5h0M279.1,112.3h0M280.2,112.9h0M281.2,113.3h0M282.3,113.5h0M283.3,113.6h0M262.5,-15h0M263.5,-2.5h0M264.6,8h0M265.6,16.8h0M266.7,24.3h0M267.7,30.7h0M268.7,36.2h0M269.8,40.9h0M270.8,44.9h0M271.9,48.4h0M272.9,51.3h0M273.9,53.9h0M275,56h0M276,57.8h0M277.1,59.3h0M278.1,60.5h0M279.1,61.4h0M280.2,62.1h0M281.2,62.6h0M282.3,62.9h0M283.3,63h0M269.8,-13.4h0M270.8,-8.7h0M271.9,-4.7h0M272.9,-1.2h0M273.9,1.7h0M275,4.2h0M276,6.3h0M277.1,8h0M278.1,9.4h0M279.1,10.5h0M280.2,11.4h0M281.2,12h0M282.3,12.3h0M283.3,12.4h0" stroke="#bf00bf" stroke-width="3.4" stroke-linecap="round" fill="none"/>
<path d="M252.8,0V365.1" stroke="#bf00bf" stroke-width="3.2" fill="none"/>
<path d="M326.5,365.8L331.2,365.7L335.9,365.7L340.7,365.7L345.4,365.6L350.1,365.6L354.8,365.5L359.5,365.4L364.2,365.4L368.9,365.3L373.6,365.2L378.3,365.2L383,365.1L387.8,365L392.5,364.9L397.2,364.8L401.9,364.7L406.6,364.7L411.3,364.5L416,364.4L420.7,364.3L425.4,364.2L430.1,364.1L434.8,363.9L439.6,363.8L444.3,363.6L449,363.5L453.7,363.3L458.4,363.1L463.1,362.9L467.8,362.7L472.5,362.5L477.2,362.3L481.9,362.1L486.7,361.8L491.4,361.6L496.1,361.3L500.8,361L505.5,360.7L510.2,360.4" stroke="#bf00bf" stroke-width="3.3" fill="none"/>
<path d="M0,106.9L4.1,106.9L8.3,106.9L12.4,107L16.6,107L20.7,107L24.9,107.1L29,107.1L33.2,107.1L37.3,107.2L41.5,107.2L45.6,107.2L49.8,107.3L53.9,107.3L58.1,107.4L62.2,107.5L66.4,107.5L70.5,107.6L74.7,107.7L78.8,107.8L83,107.9L87.1,108L91.3,108.1L95.4,108.3L99.6,108.4L103.7,108.6L107.9,108.8L112,109L116.1,109.2L120.3,109.4L124.4,109.7L128.6,110L132.7,110.4L136.8,110.8L141,111.2L145.1,111.6L149.2,112.2L153.3,112.7L157.4,113.4L161.5,114.1L165.6,114.9L169.6,115.8L173.7,116.8L177.7,117.9L181.6,119.1L185.6,120.5L189.4,122L193.3,123.6L197,125.3L200.7,127.3L204.3,129.4L207.8,131.6L211.2,134L214.4,136.7L217.5,139.5L220.4,142.5L223,145.6L225.5,148.9L227.9,152.3L230.3,155.8L232.5,159.3L234.7,162.8L236.8,166.4L238.7,170.1L240.5,173.8L242.1,177.6L243.6,181.5L245,185.4L246.3,189.4L247.4,193.4L248.5,197.4L249.4,201.4L250.3,205.5L251,209.6L251.6,213.7L252.2,217.8L252.6,221.9L253.1,226L253.5,230.2L253.9,234.3" stroke="#ff0000" stroke-width="3.4" fill="none" stroke-linejoin="round"/>
<path d="M85.2,365.1L89.3,365L93.4,364.8L97.5,364.6L101.6,364.4L105.7,364.2L109.8,363.9L113.9,363.7L118,363.4L122.1,363L126.2,362.7L130.2,362.3L134.3,361.8L138.4,361.4L142.5,360.8L146.6,360.2L150.7,359.6L154.8,358.8L158.9,358L163,357.1L167.1,356.2L171.2,355.1L175.3,353.9L179.4,352.6L183.5,351.1L187.6,349.5L191.7,347.7L195.8,345.7L199.9,343.5L203.9,341L208,338.2L212.1,334.9L216.2,331.2L220.3,327.1L224.4,322.5L228.5,317.5L232.6,312L236.7,305.7L240.8,298.3L244.9,289L245.9,286.3L246.2,285.4L246.5,284.4L246.9,283.5L247.2,282.5L247.5,281.4L247.8,280.3L248.1,279L248.4,277.7L248.7,276.3L249.1,274.9L249.4,273.4L249.7,271.9L250,270.3L250.3,268.7L250.6,267L250.9,265.2L251.3,263.3L251.6,261.3L251.9,259.1L252.2,256.8L252.5,254.2L252.8,250.9L253.1,247L253.5,243L253.8,239.5L254.1,236.7L254.4,234L254.7,231.6L255,229.7L255.3,228.2L255.6,226.8L256,225.4L256.3,224.1L256.6,222.9L256.9,221.7L257.2,220.7L257.5,219.6L257.8,218.6L258.2,217.5L259.2,214L263,200.4L266.8,185.5L270.6,169.3L274.4,151.6L278.2,132.3L282,111.3L285.8,88.4L289.6,63.5L293.4,36.4L297.2,6.8L301,-25.5" stroke="#ff0000" stroke-width="3.4" fill="none" stroke-linejoin="round"/>
<path d="M0,44H510.2" stroke="#000" stroke-width="3" stroke-dasharray="10.3 4.45" stroke-dashoffset="-1.3" fill="none"/>
</g>
<text transform="translate(10.8,98.6) scale(1.000,1.100)" font-family="'Liberation Serif','DejaVu Serif',serif" font-size="40" fill="#f00" textLength="27.5" lengthAdjust="spacingAndGlyphs" >Λ</text>
<text transform="translate(35.5,105) scale(1.150,1.100)" font-family="'Liberation Serif','DejaVu Serif',serif" font-size="27" fill="#f00" >1</text>
<text transform="translate(64.5,98.6) scale(1.000,1.100)" font-family="'Liberation Serif','DejaVu Serif',serif" font-size="40" fill="#f00" textLength="33" lengthAdjust="spacingAndGlyphs" >=</text>
<text transform="translate(105.7,98.6) scale(1.000,1.100)" font-family="'Liberation Serif','DejaVu Serif',serif" font-size="40" fill="#f00" textLength="43" lengthAdjust="spacingAndGlyphs" >10</text>
<text transform="translate(148.7,83.3) scale(1.000,1.100)" font-family="'Liberation Serif','DejaVu Serif',serif" font-size="27" fill="#f00" textLength="37" lengthAdjust="spacingAndGlyphs" >−7</text>
<text transform="translate(46.3,344.9) scale(1.000,1.100)" font-family="'Liberation Serif','DejaVu Serif',serif" font-size="40" fill="#f00" textLength="27.5" lengthAdjust="spacingAndGlyphs" >Λ</text>
<text transform="translate(71,351.3) scale(1.150,1.100)" font-family="'Liberation Serif','DejaVu Serif',serif" font-size="27" fill="#f00" >2</text>
<text transform="translate(100,344.9) scale(1.000,1.100)" font-family="'Liberation Serif','DejaVu Serif',serif" font-size="40" fill="#f00" textLength="33" lengthAdjust="spacingAndGlyphs" >=</text>
<text transform="translate(141.2,344.9) scale(1.000,1.100)" font-family="'Liberation Serif','DejaVu Serif',serif" font-size="40" fill="#f00" textLength="43" lengthAdjust="spacingAndGlyphs" >10</text>
<text transform="translate(184.2,329.6) scale(1.000,1.100)" font-family="'Liberation Serif','DejaVu Serif',serif" font-size="27" fill="#f00" textLength="37" lengthAdjust="spacingAndGlyphs" >−7</text>
<g transform="translate(381.8,296.7) rotate(-51)">
<text transform="translate(0,0) scale(1.000,1.100)" font-family="'Liberation Serif','DejaVu Serif',serif" font-size="42" fill="#bf00bf" font-style="italic" textLength="24" lengthAdjust="spacingAndGlyphs" >ϕ</text>
<text transform="translate(36.5,0) scale(1.000,1.100)" font-family="'Liberation Serif','DejaVu Serif',serif" font-size="40" fill="#bf00bf" textLength="30" lengthAdjust="spacingAndGlyphs" >=</text>
<text transform="translate(80,0) scale(1.000,1.100)" font-family="'Liberation Serif','DejaVu Serif',serif" font-size="42" fill="#bf00bf" font-style="italic" textLength="21" lengthAdjust="spacingAndGlyphs" >k</text>
<text transform="translate(104,0) scale(1.000,1.100)" font-family="'Liberation Serif','DejaVu Serif',serif" font-size="42" fill="#bf00bf" font-style="italic" textLength="25" lengthAdjust="spacingAndGlyphs" >π</text>
</g>
<rect x="0" y="0" width="510.2" height="365.1" fill="none" stroke="#000" stroke-width="1.7"/>
<path d="M0,365.1v7M30.7,365.1v4M48.7,365.1v4M61.4,365.1v4M71.3,365.1v4M79.4,365.1v4M86.2,365.1v4M92.2,365.1v4M97.4,365.1v4M102,365.1v7M132.8,365.1v4M150.7,365.1v4M163.5,365.1v4M173.4,365.1v4M181.4,365.1v4M188.3,365.1v4M194.2,365.1v4M199.4,365.1v4M204.1,365.1v7M234.8,365.1v4M252.8,365.1v4M265.5,365.1v4M275.4,365.1v4M283.5,365.1v4M290.3,365.1v4M296.2,365.1v4M301.5,365.1v4M306.1,365.1v7M336.8,365.1v4M354.8,365.1v4M367.6,365.1v4M377.4,365.1v4M385.5,365.1v4M392.4,365.1v4M398.3,365.1v4M403.5,365.1v4M408.2,365.1v7M438.9,365.1v4M456.8,365.1v4M469.6,365.1v4M479.5,365.1v4M487.6,365.1v4M494.4,365.1v4M500.3,365.1v4M505.5,365.1v4M510.2,365.1v7M0,352.5h-4M0,337.8h-4M0,323.2h-4M0,308.5h-4M0,293.9h-7M0,279.2h-4M0,264.5h-4M0,249.9h-4M0,235.2h-4M0,220.5h-7M0,205.9h-4M0,191.2h-4M0,176.6h-4M0,161.9h-4M0,147.2h-7M0,132.6h-4M0,117.9h-4M0,103.2h-4M0,88.6h-4M0,73.9h-7M0,59.3h-4M0,44.6h-4M0,29.9h-4M0,15.3h-4M0,0.6h-7" stroke="#000" stroke-width="1.4" fill="none"/>
<text transform="translate(-1.5,-11) scale(1.000,1.060)" font-family="'Liberation Sans','DejaVu Sans',sans-serif" font-size="43" >(c)</text>
<text transform="translate(255.1,-11) scale(1.000,1.100)" font-family="'Liberation Sans','DejaVu Sans',sans-serif" font-size="39.6" text-anchor="middle" >Quadratic Memory</text>
<rect x="541.9" y="0" width="18.6" height="365.1" fill="url(#vir)" stroke="#000" stroke-width="1.7"/>
<text transform="translate(574,381) scale(1.030,1.150)" font-family="'Liberation Serif','DejaVu Serif',serif" font-size="38.5" >0</text>
<text transform="translate(574,300.8) scale(1.030,1.150)" font-family="'Liberation Serif','DejaVu Serif',serif" font-size="38.5" >1</text>
<text transform="translate(574,220.5) scale(1.030,1.150)" font-family="'Liberation Serif','DejaVu Serif',serif" font-size="38.5" >2</text>
<text transform="translate(574,140.3) scale(1.030,1.150)" font-family="'Liberation Serif','DejaVu Serif',serif" font-size="38.5" >3</text>
<text transform="translate(574,60) scale(1.030,1.150)" font-family="'Liberation Serif','DejaVu Serif',serif" font-size="38.5" >4</text>
<path d="M560.5,365.1h6.3M560.5,284.9h6.3M560.5,204.6h6.3M560.5,124.4h6.3M560.5,44.1h6.3" stroke="#000" stroke-width="1.4" fill="none"/>
<text transform="translate(516.4,-10.5) scale(1.000,1.050)" font-family="'Liberation Serif','DejaVu Serif',serif" font-size="45" font-style="italic" textLength="72" lengthAdjust="spacingAndGlyphs" >MC</text>
<text transform="translate(592.9,-27.3) scale(1.100,1.100)" font-family="'Liberation Serif','DejaVu Serif',serif" font-size="26" >2</text>
<text transform="translate(-13.4,309.2) scale(1.030,1.150)" font-family="'Liberation Serif','DejaVu Serif',serif" font-size="38.5" text-anchor="end" >50</text>
<text transform="translate(-13.4,235.8) scale(1.030,1.150)" font-family="'Liberation Serif','DejaVu Serif',serif" font-size="38.5" text-anchor="end" >100</text>
<text transform="translate(-13.4,162.5) scale(1.030,1.150)" font-family="'Liberation Serif','DejaVu Serif',serif" font-size="38.5" text-anchor="end" >150</text>
<text transform="translate(-13.4,89.2) scale(1.030,1.150)" font-family="'Liberation Serif','DejaVu Serif',serif" font-size="38.5" text-anchor="end" >200</text>
<text transform="translate(-13.4,15.9) scale(1.030,1.150)" font-family="'Liberation Serif','DejaVu Serif',serif" font-size="38.5" text-anchor="end" >250</text>
<text transform="translate(-88.3,183.1) rotate(-90)" font-family="'Liberation Sans','DejaVu Sans',sans-serif" font-size="39.8" text-anchor="middle" >Clock Cycle T</text>
<text transform="translate(-38.3,410.1) scale(1.000,1.150)" font-family="'Liberation Serif','DejaVu Serif',serif" font-size="38.5" textLength="38.5" lengthAdjust="spacingAndGlyphs" >10</text>
<text transform="translate(0.9,393.9) scale(1.000,1.120)" font-family="'Liberation Serif','DejaVu Serif',serif" font-size="26" textLength="23" lengthAdjust="spacingAndGlyphs" >−</text>
<text transform="translate(22.8,393.9) scale(1.000,1.120)" font-family="'Liberation Serif','DejaVu Serif',serif" font-size="26" textLength="16.5" lengthAdjust="spacingAndGlyphs" >2</text>
<text transform="translate(63.7,410.1) scale(1.000,1.150)" font-family="'Liberation Serif','DejaVu Serif',serif" font-size="38.5" textLength="38.5" lengthAdjust="spacingAndGlyphs" >10</text>
<text transform="translate(102.9,393.9) scale(1.000,1.120)" font-family="'Liberation Serif','DejaVu Serif',serif" font-size="26" textLength="23" lengthAdjust="spacingAndGlyphs" >−</text>
<text transform="translate(124.8,393.9) scale(1.000,1.120)" font-family="'Liberation Serif','DejaVu Serif',serif" font-size="26" textLength="16.5" lengthAdjust="spacingAndGlyphs" >1</text>
<text transform="translate(177.7,410.1) scale(1.000,1.150)" font-family="'Liberation Serif','DejaVu Serif',serif" font-size="38.5" textLength="38.5" lengthAdjust="spacingAndGlyphs" >10</text>
<text transform="translate(215.9,393.9) scale(1.000,1.120)" font-family="'Liberation Serif','DejaVu Serif',serif" font-size="26" textLength="15.8" lengthAdjust="spacingAndGlyphs" >0</text>
<text transform="translate(279.7,410.1) scale(1.000,1.150)" font-family="'Liberation Serif','DejaVu Serif',serif" font-size="38.5" textLength="38.5" lengthAdjust="spacingAndGlyphs" >10</text>
<text transform="translate(317.9,393.9) scale(1.000,1.120)" font-family="'Liberation Serif','DejaVu Serif',serif" font-size="26" textLength="15.8" lengthAdjust="spacingAndGlyphs" >1</text>
<text transform="translate(381.8,410.1) scale(1.000,1.150)" font-family="'Liberation Serif','DejaVu Serif',serif" font-size="38.5" textLength="38.5" lengthAdjust="spacingAndGlyphs" >10</text>
<text transform="translate(420,393.9) scale(1.000,1.120)" font-family="'Liberation Serif','DejaVu Serif',serif" font-size="26" textLength="15.8" lengthAdjust="spacingAndGlyphs" >2</text>
<text transform="translate(483.8,410.1) scale(1.000,1.150)" font-family="'Liberation Serif','DejaVu Serif',serif" font-size="38.5" textLength="38.5" lengthAdjust="spacingAndGlyphs" >10</text>
<text transform="translate(522,393.9) scale(1.000,1.120)" font-family="'Liberation Serif','DejaVu Serif',serif" font-size="26" textLength="15.8" lengthAdjust="spacingAndGlyphs" >3</text>
<text transform="translate(78.4,453.6)" font-family="'Liberation Sans','DejaVu Sans',sans-serif" font-size="38.5" >Time scale ratio</text>
<text transform="translate(359.5,454.3)" font-family="'Liberation Serif','DejaVu Serif',serif" font-size="45" font-style="italic" textLength="28" lengthAdjust="spacingAndGlyphs" >T</text>
<text transform="translate(388.5,460.9)" font-family="'Liberation Serif','DejaVu Serif',serif" font-size="31" font-style="italic" textLength="43" lengthAdjust="spacingAndGlyphs" >LK</text>
</g>
<g transform="translate(801.7,497.9)">
<g clip-path="url(#axclip)">
<g filter="url(#cm)"><g filter="url(#hb)">
<rect x="-10" y="-10" width="530.2" height="385.1" fill="#020202"/><g transform="scale(.5)">
<path fill="#060606" d="M-20-20l1060 0 0 469-22 0-49 53-42 37-52 37-60 34-44 20-52 20-67 21-60 14-12 9-8 4-42 6-18 10-4-1-4-3-4-8-4-3-28-1-42 2-73 11-52 4-321 1z"/>
<path fill="#0a0a0a" d="M-20-20l1060 0 0 454-22 0-49 56-38 36-48 37-60 37-48 24-48 19-71 23-64 15-9 4-11 8-9 3-35 7-16 5-4 0-8-10-4-2-28 0-32 1-103 13-36 3-317 0z"/>
<path fill="#0e0e0e" d="M-20-20l1060 0 0 443-22 0-50 59-37 37-52 41-56 35-48 25-56 23-71 23-64 15-20 11-52 13-4-1-8-8-4-2-28 0-48 2-75 11-44 4-321 0z"/>
<path fill="#121212" d="M-20-20l1060 0 0 432-22 0-50 62-38 40-51 41-56 36-52 27-56 23-63 21-74 19-18 9-20 7-28 6-4-1-8-8-4-2-36 0-35 2-88 12-40 3-317 0z"/>
<path fill="#161616" d="M-20-20l1060 0 0 421-22 0-53 69-38 40-53 44-55 35-48 26-56 24-67 23-76 18-32 16-28 5-4-1-8-8-4-1-36-1-32 2-83 12-44 3-321 1z"/>
<path fill="#1a1a1a" d="M-20-20l1060 0 0 411-22 0-53 71-35 40-52 44-58 39-52 28-57 25-71 24-68 17-36 16-24 4-4-1-8-7-4-2-32 0-43 3-80 11-44 3-317 0z"/>
<path fill="#1e1e1e" d="M-20-20l1060 0 0 400-22 0-53 74-34 40-24 23-28 23-56 39-53 30-59 26-71 25-68 17-36 17-24 4-16-10-36 0-35 2-88 12-40 3-317 0z"/>
<path fill="#222222" d="M-20-20l1060 0 0 390-22 0-52 76-35 43-50 45-58 42-56 32-55 25-72 25-73 19-32 15-23 4-16-9-32-1-36 3-95 12-36 3-317 0z"/>
<path fill="#262626" d="M-20-20l1060 0 0 380-22 0-52 79-35 43-24 24-27 24-57 42-52 30-60 29-75 27-72 18-12 5-11 8-9 3-20 3-16-10-32 0-39 3-88 11-40 4-317 0z"/>
<path fill="#2a2a2a" d="M-20-20l1060 0 0 369-22 0-51 82-36 46-25 25-27 24-56 42-55 33-58 28-41 16-36 12-69 17-12 5-20 12-20 2-16-9-32 0-39 3-88 11-40 3-317 1z"/>
<path fill="#2e2e2e" d="M-20 700l0-720 1060 0 0 358-22 0-51 85-16 23-19 24-23 24-31 28-57 44-59 35-58 28-41 16-35 12-64 16-12 4-16 11-8 2-16 2-16-9-32 0-36 2-91 12-40 3z"/>
<path fill="#323232" d="M-20 699l0-719 1060 0 0 345-22 0-51 90-19 27-17 23-24 25-30 28-28 24-33 24-59 35-59 28-74 27-64 17-12 4-12 9-8 3-16 1-16-8-32 0-39 2-88 12-40 3z"/>
<path fill="#363636" d="M-20 698l0-718 1060 0 0 332-22 0-4 5-52 98-19 28-20 25-25 26-31 28-57 44-52 31-56 28-73 28-73 19-8 4-12 9-8 3-16 1-16-8-32 0-39 2-88 12-40 3z"/>
<path fill="#3a3a3a" d="M-20 697l0-717 1060 0 0 317-22 0-4 6-53 104-18 29-21 26-26 28-30 28-29 24-33 24-52 31-56 28-72 27-68 19-8 3-14 11-6 2-16 1-16-8-32 0-36 2-91 12-40 3z"/>
<path fill="#3e3e3e" d="M-20 696l0-716 1060 0 0 302-22 0-4 6-51 107-20 33-20 27-29 31-30 28-33 28-33 24-52 31-56 28-62 24-56 15-20 7-16 11-8 3-16 1-16-7-32 0-36 2-95 12-36 3z"/>
<path fill="#424242" d="M-20 695l0-715 1060 0 0 287-22 0-4 6-52 114-19 33-20 28-28 30-33 32-33 28-37 28-45 27-55 28-68 27-72 21-8 4-8 8-8 3-16 1-16-7-32 0-39 2-88 12-40 3z"/>
<path fill="#464646" d="M1040-20l0 271-22 0-4 7-54 121-17 32-20 29-31 34-36 36-33 28-38 28-45 27-54 28-59 24-75 23-8 4-11 9-5 2-16 0-16-6-32 0-39 2-88 12-40 3-317 0 0-503 221 3 84 4 36 4 44 8 52 13 31 11 31 14 17 6 4-2 3-272z"/>
<path fill="#4a4a4a" d="M1040-20l0 256-22 0-4 6-55 129-20 37-20 29-33 37-37 36-38 32-38 27-46 28-48 24-59 24-68 21-24 15-16 1-16-6-32 0-39 2-88 12-40 3-317 0 0-500 185 3 80 2 64 4 48 8 52 12 35 12 40 18 16 5 2-5 3-79 2-193z"/>
<path fill="#4e4e4e" d="M1040-20l0 240-22 0-4 7-54 132-21 40-20 30-36 41-36 36-37 32-43 31-47 28-44 23-52 21-73 24-23 14-16 1-16-5-48 0-119 14-36 3-313 0 0-498 233 4 76 4 36 4 44 8 48 12 35 13 29 13 19 7 4-3 8-276z"/>
<path fill="#525252" d="M1040-20l0 222-22 0-4 7-34 91-20 47-21 43-20 30-36 42-39 40-41 36-44 31-38 24-46 24-51 22-76 25-20 13-16 1-16-4-48 0-119 14-36 3-313 0 0-496 217 3 84 4 40 4 44 8 48 12 35 12 52 22 3 0 2-4 9-167 2-20 12-28 4-20 2-41z"/>
<path fill="#565656" d="M1040-20l0 199-22 0-4 8-31 93-20 51-21 44-22 36-40 47-38 40-43 38-46 33-42 26-47 24-42 18-74 26-16 10-8 3-16 0-12-3-48 0-115 14-40 3-313 0 0-494 205 3 88 4 44 3 48 9 48 12 35 12 49 21 7 1 3-5 2-52 7-64 12-53 11-77 0-30z"/>
<path fill="#5a5a5a" d="M1040-20l0 155-22 0-38 137-17 47-18 40-14 27-15 21-28 35-29 32-27 28-27 24-30 24-28 19-39 24-46 24-38 17-76 27-16 9-8 3-16 1-12-2-52 1-111 13-36 3-317 0 0-492 197 3 92 3 48 4 44 8 52 12 31 11 41 18 19 7 3-3 5-61 9-26 7-41 12-96 4-13 7-13 1-30z"/>
<path fill="#5e5e5e" d="M1040-20l0 39-22 0-12 78-7 76-20 83-16 52-24 54-15 25-17 24-25 31-29 32-28 28-26 24-31 24-28 19-38 24-46 24-37 16-74 28-13 7-8 3-16 2-16-2-52 1-103 13-40 3-317 0 0-490 189 2 96 4 48 3 48 9 48 11 35 12 60 25 5-4 3-40 4-16 8-15 4-14 12-111 7-22 19-32 1-30z"/>
<path fill="#626262" d="M1015-20l0 30-26 167-22 101-12 37-12 29-12 23-16 25-30 39-30 35-28 28-26 24-28 24-33 24-52 31-48 24-96 38-16 8-20 4-16-1-52 1-107 13-36 3-317 0 0-488 171 1 106 4 56 4 44 8 52 12 35 12 60 25 4 0 3-5 1-20 4-17 8-12 4-11 4-24 7-79 5-24 10-19 26-43 1-31z"/>
<path fill="#666666" d="M1011-20l0 34-28 159-23 107-13 39-12 30-12 22-20 28-28 36-28 32-52 51-29 24-33 24-41 26-32 16-88 39-44 18-12 1-8 3-68 1-107 13-36 3-317 0 0-487 135 1 130 4 63 4 48 8 51 12 45 16 52 23 4 0 3-3 5-22 8-9 4-9 4-24 8-80 4-22 9-21 27-45 4-12 1-40z"/>
<path fill="#6a6a6a" d="M1008-20l-2 38-29 155-22 103-12 38-12 29-12 22-28 40-27 34-28 31-31 32-27 24-30 24-37 26-31 20-43 17-63 32-46 17-12 2-12 4-36 0-32 1-99 12-40 4-317 0 0-485 79 0 174 4 67 4 30 4 58 12 41 12 68 28 11 8 5-4 3-7 8-5 4-8 16-125 7-18 29-52 4-12 3-31 0-30z"/>
<path fill="#6e6e6e" d="M1004-20l0 30-21 114-30 136-6 23-20 49-8 15-39 60-24 32-23 27-54 53-75 60-28 16-39 14-65 35-44 15-12 2-12 6-68 1-101 13-38 2-317 1 0-483 245 5 58 2 63 8 68 16 34 12 53 24 2 4 5 22 8-14 8-1 4-7 16-124 8-22 20-41 8-12 4-10 4-41 1-42z"/>
<path fill="#727272" d="M1000-20l0 34-21 107-35 151-13 30-12 22-27 43-21 40-17 24-21 27-33 36-20 20-56 48-28 21-24 12-36 12-64 35-24 9-32 8-12 7-68 1-103 13-36 2-317 0 0-479 152 1 126 4 53 4 65 12 32 8 25 8 65 28 2 4 4 40 4 7 8-11 8-1 4-6 16-129 8-23 32-64 5-43 1-62z"/>
<path fill="#767676" d="M996-20l0 34-14 71-25 107-23 88-37 63-17 24-24 48-26 39-31 36-16 16-61 56-22 17-24 13-16 3-24 9-64 36-24 9-32 8-12 7-68 2-103 13-36 2-317 0 0-364 512 0 4 5 8 20 4 1 8-7 8 0 4-5 4-27 4-52 8-53 10-30 22-50 8-12 5-45 3-82z"/>
<path fill="#7a7a7a" d="M992-20l0 34-15 75-26 107-22 80-35 63-8 12-15 16-25 52-19 31-25 32-19 20-63 60-24 18-24 12-12 1-20 6-52 31-16 9-24 8-32 7-12 9-68 2-99 12-40 3-317 0 0-307 516 0 16-9 12-1 4-2 4-18 3-67 5-34 4-17 10-25 8-27 14-34 8-10 3-12 4-48 3-89z"/>
<path fill="#7e7e7e" d="M989-20l-1 34-18 87-28 111-21 68-29 55-9 12-19 20-27 60-9 15-20 28-21 24-36 33-12 14-20 21-23 17-24 11-16 0-8 4-8 1-14 10-42 26-20 9-48 12-12 10-68 2-103 12-36 3-317 0 0-263 508 0 8-2 12-34 4-3 16-4 5-6 4-40 0-47 3-17 4-12 12-15 6-12 5-20 5-35 4-10 8-7 4-11 6-72 1-89z"/>
<path fill="#818181" d="M985-20l-1 34-27 123-20 75-16 56-17 40-17 28-26 27-25 60-31 47-22 25-12 9-12 14-11 8-7 12-14 12-6 8-25 20-24 11-4 0-12-3-12 3-8 4-12 11-40 25-20 9-48 12-12 10-68 3-103 12-36 3-317 0 0-235 508 0 8-2 4-8 6-30 4-12 6-6 12-3 9-11 3-8 3-63-3-17 1-7 3-6 16 6 8-1 10-3 5-4 4-16 3-16 2-51 12-20 4-12 0-173z"/>
<path fill="#858585" d="M982-20l0 30-19 83-23 92-24 87-13 31-16 27-24 22-4 6-7 21-19 44-28 43-22 27-16 9-8 14-12 6-8 15-12 10-7 11-24 19-16 5-8 5-8-1-8-5-8 1-12 8-12 11-28 17-12 10-20 9-48 10-12 12-4 1-64 2-103 12-36 2-317 1 0-222 516-1 4-4 8-39 4-13 16-8 12-17 11-10 6-24 7-20-4-11 0-5 4-4 8 3 4-4 2-6 6-8 8-3 4-4 9-37 5-40 6-22 18-89 21-79 0-30z"/>
<path fill="#898989" d="M980-20l-1 30-5 20-14 63-47 179-10 25-12 21-32 33-10 32-17 36-16 23-13 23-20 25-4 3-4 2-8-2-3 1-1 12-4 7-8 4-8-1-1 14-5 8-10 6-12 17-11 7-8 7-8 4-8 0-8 6-4 0-8-7-4-2-8 2-28 23-24 14-12 11-20 9-32 5-16 5-11 12-5 2-64 2-103 12-36 2-317 0 0-211 516-1 4-4 12-50 4-4 12-7 9-15 7-8 17-8 4-4 11-28 6-39 2-5 12-8 12-47 6-40 17-83 25-96 1-37z"/>
<path fill="#8d8d8d" d="M978-20l-1 30-7 20-9 39-3 24-8 20-11 52-10 31-18 76-8 19-12 21-14 11-9 16-10 8-4 8-6 28-10 16-10 24-15 16-5 15-5 8-12 13-6 11-6 5-4 1-5-2-11-13-8 5-4 8 8 3 4 4 2 5-1 8-5 4-5 0-5-4-2-5-4-3-4 8 5 16-1 8-4 4-10 4-8 16-13 8-8 8-8 4-8-3-4 0-4 6-4 0-5-8-7-2-4 1-8 5-24 20-24 14-13 14-19 9-32 4-16 5-12 13-4 1-64 3-103 11-36 3-317 0 0-203 349 0 163-2 8-2 4-10 4-22 5-16 3-4 12-8 4-5 6-15 6-7 29-13 3-4 8-63 4-6 4-2 4-3 16-61 7-47 11-56 26-100 2-15 0-30z"/>
<path fill="#919191" d="M976-20l0 30-9 16-10 43 0 20-11 24-7 28-3 24-8 20-20 87-5 14-12 20-12 7-8 1-1 17-3 6-12 10-4 12-3 20-16 24-4 16-5 7-4 3-4 1-8-3-2 4 3 15-2 8-7 9-8 7-8 16-4 3-4 1-5-4-4-8 1-4 4-8 9-4 2-4 3-16 11-19 7-20 4-6 8-2 3-4 13-68-3-19-6-12-6-8-5-4-12-5-4 0-4 5 0 11 5 5 0 12-12 67-13 37-24 34-20 64 0 5 8 6 3 9-3 6-4 2-8-2-2 2-1 12-4 8-5 3-7 2-9 10-7 3-12-8-16-1-8 1-28 23-28 15-11 15-5 4-16 7-32 3-12 4-8 5-8 11-4 1-64 3-103 11-36 3-317 0 0-194 341 0 171-4 8-2 4-7 8-35 4-7 16-13 8-23 4-4 28-11 4-2 1-4 8-55 3-10 8-8 4-12 13-54 8-55 9-44 26-98 4-21 0-30zM751 498l4 0 3 4 1 4-4 6-4 0-3-6 0-4z"/>
<path fill="#959595" d="M975-20l-1 30-3 6-6 6-5 12-7 31 2 16 0 8-4 9-10 11-8 32 2 20-4 10-9 10-5 43-14 57-8 14-4 4-12 4-5-3-5-12 0-12 4-16-2-8-28-3-36-1-4 1-8 8-4 6-5 13-9 47-8 28-6 9-11 7-3 4 2 8-1 12-8 44-9 39-18 60 4 12-1 8-7 6-9 2-9 11-7 0-6-8-4-2-16-1-8 2-28 24-28 13-5 4-6 12-5 6-16 7-36 4-12 5-11 14-5 2-64 3-103 11-36 2-317 0 0-185 337 0 175-6 8-1 5-9 7-28 4-8 16-14 4-8 5-21 4-4 15-4 16-8 4-8 6-48 2-7 8-13 4-12 4-19 8-32 15-83 29-115 5-28 0-30zM855 297l5 15 8 11 0 8-5 7-9 5-2 4-5 32-4 7-14 13-2 16-3 8-5 3-4 0-7-7 0-8 3-6 10-6 3-4 2-24 15-52 6-16 4-5zM799 434l6 8 0 8-6 11-8 3-4-5 0-13 4-9 4-3zM779 469l5 1 1 8-5 8-5 2-5-6 0-8 5-5zM751 507l0-4 4-1 0 6zM727 524l4-2 5 4-1 7-4 3-4-2-2-4 0-4z"/>
<path fill="#999999" d="M974-20l-2 30-5 7-10 5-10 40 1 7 5 12 0 8-2 6-4 4-9 2-3 4-10 28 1 8 7 12 0 8-2 6-4 4-8 2-5 4-2 23 3 24-7 20-8 36-7 12-10 5-4 0-6-9-1-12 7-16 4-20 1-24-1-9-4 0-28 6-40 7-4 4-12 20-8 18-4 14-10 43-9 24-9 12-16 4-4 6-1 18 5 24-3 32-7 35-20 56 0 4 6 8 3 8-1 4-6 4-11-1-5 12-3 3-4 0-3-3-5-10-8-2-16 1-32 27-22 8-10 6-5 6-5 12-10 8-8 4-36 2-12 6-12 15-4 2-64 3-103 11-36 2-317 0 0-177 337 0 119-6 60-1 4-2 5-6 7-26 4-8 16-16 4-8 8-28 24-7 8-5 4-8 6-45 2-8 8-14 20-77 11-71 29-112 6-35 0-30zM859 318l6 5 1 8-3 5-12 4-3 3-2 12 1 16-1 8-7 8-8 2-3-6 0-12 11-32 8-16 8-6zM823 403l3 8-2 8-5 5-4-1-3-4-1-8 4-6zM795 438l4 1 5 7-2 8-3 4-4 2-4-2-2-8 2-8zM775 472l4 1 3 5-3 6-4 1-3-3-1-4zM731 532l-2-2 2-4 2 4z"/>
<path fill="#9d9d9d" d="M972-20l0 22-1 8-4 4-4 1-8-4-3 3-17 51 0 6 12 3 4 5 1 6-1 6-4 5-4 1-4-2-7-6-1-5-4 3-12 27-45 55-15 9-36 13-4 2-4 6-24 54-17 62-7 19-8 12-16 6-6 11-5 40 3 28-3 31-13 38-11 25-8 10-24 4-8 4-24 26-12 10-36 16-8 9-6 13-9 8-5 2-36 2-12 6-12 16-4 2-68 3-111 11-32 2-309 0 0-170 341 0 115-7 60-1 4-1 4-4 12-32 16-18 4-8 9-29 3-4 8-1 12-4 8-6 4-7 7-46 9-20 21-83 11-70 28-108 7-40 0-30zM919 146l8 1 5 10-2 8-3 3-4 1-4-1-7-7 0-8zM903 204l4 2 4 6 2 8-1 8-10 20-3 29-8 13-8 4-4-1-4-5-1-12 10-16 4-12 2-28 3-8 6-7zM859 322l4 2 1 7-5 5-4 0-3-5 0-4 3-5zM839 356l4 3 2 4 1 12-3 6-4 4-4 1-4-3-1-12 5-12zM819 406l4 2 1 3-1 7-4 3-4-1-2-5 2-6zM795 441l5 1 2 8-3 6-4 1-4-3-1-4 1-4zM775 482l-1-4 1-2 4 1 0 3zM708 542l3 0 4 5 0 7-4 3-3 0-4-3-2-4 1-4zM688 558l4 0 2 8-2 4-4-1-2-3z"/>
<path fill="#a1a1a1" d="M926-20l0 26-3 8-68 87-19 32-13 17-38 102-13 48-9 25-8 12-12 5-8 10-5 15-8 52 0 16 2 15-1 13-4 14-8 17-7 9-20 6-8 6-26 39-18 19-8 5-24 8-12 7-6 8-10 20-8 4-12 0-24 1-12 7-12 16-4 2-68 4-111 11-32 2-309-1 0-161 337-1 123-8 56-1 6-2 6-8 8-23 16-19 4-8 8-26 4-8 20-7 8-6 4-7 8-48 8-18 23-96 9-57 28-109 9-44 0-30zM959-20l12 0 0 26-4 6-4-1-4-5zM943 77l4 0 4 8-1 4-3 4-4 1-5-5 0-8zM923 149l4 2 3 6-3 8-4 2-4-3-3-7 3-6zM903 210l4 2 3 4 1 8-4 10-4 3-4-1-4-4-2-8 2-8 4-5zM887 265l5 3 3 8-3 8-3 4-6 3-6-3-1-4 0-8 3-6zM856 327l3-2 2 2 0 4-2 2-3-2zM839 361l4 3 2 11-2 4-4 4-4 0-3-4-1-8 4-8zM819 409l2 2 1 4-3 4-4-4zM795 444l4 1 1 5-1 3-4 2-2-5zM711 545l3 5-1 4-5 0-2-4 2-4z"/>
<path fill="#a5a5a5" d="M863-20l0 26-2 12-26 63-2 20-12 20-11 56-15 36-12 35-16 59-8 18-4 4-8 4-12 14-4 9-17 86-2 12 2 12-3 4-19 11-4 3-38 66-10 13-12 10-40 15-7 9-12 24-5 2-12-1-8 2-12-1-4 1-12 6-12 18-4 2-68 4-111 11-32 1-309 0 0-154 337 0 123-10 56-1 8-2 4-6 8-20 16-20 4-8 8-29 4-7 9-6 15-7 4-3 4-7 8-45 8-19 12-51 5-15 8-36 7-52 20-71 9-39 9-48 0-30zM962-20l7 0 0 22-2 7-5-3zM943 80l4 1 2 4-2 6-4 0-3-6zM923 152l4 2 1 3-1 5-4 2-3-3-1-4zM903 213l5 3 2 8-3 7-4 2-4-1-4-8 3-8zM887 270l4 6 0 4-4 7-4 2-4-2-2-3 0-8 6-7zM839 365l5 6-1 5-4 5-4-1-2-5 2-8z"/>
<path fill="#a9a9a9" d="M850-20l0 22 3 12-1 8-5 9-4 3-8 4-5 8-6 27 5 16 0 12-14 18-4 26-2 28-17 39-3 16-9 24-13 48-8 17-4 4-8 3-5 11-11 16-16 66-10 29-13 16-19 40-26 48-7 10-8 7-46 18-7 8-11 24-4 3-12-1-8 3-12-2-16 8-4 5-8 13-8 4-60 3-139 12-317 0 0-147 337 0 119-10 68-3 4-5 12-23 12-16 4-8 8-31 4-8 12-9 12-5 8-10 8-42 8-20 12-48 7-20 7-40 6-46 20-71 9-38 9-51 1-34zM903 216l4 2 1 6-1 4-4 2-4-2-1-4 1-5zM883 272l4 1 2 7-2 4-4 2-4-2-1-4 1-5zM839 368l2 3 0 4-2 4-4-4 0-4z"/>
<path fill="#adadad" d="M810-20l0 30 6 24-1 39 1 4 8 8 3 12-4 9-11 7-2 4-4 28 2 20-1 8-10 16-8 19-3 24-8 16-7 36-8 19-4 7-4 2-8 0-3 3-2 16-12 16-7 32-15 48-12 15-30 68-21 40-9 11-8 5-28 10-19 9-13 23-4 4-12 1-8 5-12-2-4 1-16 13-8 15-8 4-60 3-135 12-321 0 0-138 337 0 123-13 64-2 4-3 28-47 8-33 4-9 12-10 12-4 4-4 5-10 7-36 8-21 12-45 8-16 2-9 2-25 4-23 5-39 23-84 16-83 0-30zM833-20l10 0 0 22 4 4 3 8-1 8-2 4-8 5-4 0-7-5-3-8 0-4 4-8 4-4zM903 219l2 1 1 4-3 3-3-3zM883 274l2 2 2 4-4 4-3-4z"/>
<path fill="#b1b1b1" d="M789-20l-2 50 1 20 3 14 8 22 4 1 8-4 8 1 5 5 2 8-3 6-4 4-4 0-8-1-4 3-2 32 5 20 0 8-3 7-11 13-5 11-2 8 0 20-9 20-6 32-4 12-7 11-4 1-8-1-4 1-3 4-1 4 3 11-1 8-14 16-4 28-12 30-16 26-19 51-12 28-16 30-12 18-8 5-28 9-23 13-9 14-4 4-20 7-12 0-4 3-16 15-8 16-8 3-56 3-139 12-321 0 0-127 333 0 32-3 99-14 36-2 28 1 26-43 10-41 4-8 16-13 8-3 8-11 8-36 9-27 7-27 4-11 8-13 4-12 2-32 4-20 4-43 18-61 12-54 9-52 1-30zM735 266l-4 1-4 4-4 9 1 20 3 7 4 0 3-7 3-24zM839 4l4 2 3 4 2 8-4 8-5 2-6-2-3-8 1-8 4-4z"/>
<path fill="#b5b5b5" d="M784-20l0 30-6 87 1 32 4 16 4 3 8-1 4 3 4 6 2 5 0 8-6 9-12 4-4 7-3 15 4 16 0 8-3 8-8 12-5 32-5 14-4 4-4 1-12-4-2-3-1-28-5-7-8 6-10 13-2 16 1 23 3 6 12-7 4 1 5 8-1 8-4 6-11 6-1 8 0 20-3 8-5 9-8 7-6 20-11 16-22 65-16 32-17 26-7 5-28 10-22 12-14 14-36 13-16 18-8 16-4 4-56 3-143 12-321 0 0-116 333 0 36-4 68-12 35-5 40-2 16 4 4-4 24-44 8-39 4-9 24-16 8-13 5-14 4-24 9-24 6-23 16-36 4-21 0-19 4-20 4-43 16-55 13-60 10-52 0-30zM839 7l5 3 2 8-3 6-4 2-4-2-3-6 2-8zM815 86l4 0 3 3 2 8-5 7-4 1-5-4-2-4 2-8z"/>
<path fill="#b9b9b9" d="M781-20l0 34-15 139-3 16 0 23 2 8 6 4 8 9 3 7 1 8-4 8-7 8-2 4-4 36-3 6-4 4-8 1-8-7-1-8 3-24-6-9-4 1-4 3-16 18-4 11-9 67 2 4 11 1 4 4 3 11-1 8-6 9-4 2-11-1-1 6 3 12-2 8-4 7-9 9-17 55-10 26-16 28-12 14-12 8-20 8-12 9-14 6-10 7-36 15-6 6-10 15-8 17-4 3-56 4-143 12-321 0 0-105 333 0 36-3 76-15 35-6 36-1 12 6 4-4 24-45 8-41 4-11 20-11 8-9 9-24 7-31 16-47 12-28 4-17 2-28 4-20 4-43 18-65 20-102 0-30zM839 10l4 2 2 6-2 4-4 2-3-2-2-4 1-5zM815 89l4 0 3 4 1 4-4 5-4 0-4-5 1-4zM795 153l4 1 3 3 2 8-2 8-7 5-5-1-3-4-2-8 3-8zM731 317l4 1 4 9-4 8-4 3-4 0-3-3-1-8 4-7z"/>
<path fill="#bdbdbd" d="M778-20l-1 34-19 171-11 48-4 5-4 0-4 1-12 12-8 11-4 9-10 52-9 41-2 15 0 8 8 12 0 12-2 4-11 8-1 2-3 17-15 44-10 23-16 25-18 16-22 12-12 11-60 25-10 11-14 31-4 3-199 16-321-1 0-91 333-1 40-4 77-16 34-6 32-1 12 7 4-4 24-48 8-43 4-11 4-3 16-7 11-15 13-50 24-62 8-31 5-36 3-11 5-52 15-55 17-80 4-28 0-30zM839 12l3 2 1 4-4 3-3-3 1-4zM815 92l4 0 1 1-1 7-4-1-1-2zM795 155l4 1 4 9-3 8-5 2-5-2-2-8 3-7zM775 214l6 6 1 8-3 6-4 4-4 2-4 0-3-8 1-12 6-7zM759 262l4 2 2 16-2 8-4 4-4 1-4-1-5-4-1-4-1-8 3-8 4-3zM731 320l4 1 2 6-2 6-4 3-4-2-2-7 2-4zM711 356l7 3 3 8-2 8-2 4-6 4-3-1-4-3-4-8 4-10 4-4z"/>
<path fill="#c1c1c1" d="M775-20l0 30-5 48-13 119-10 42-4 8-12 8-12 13-8 17-3 14-21 100 0 12 9 8 1 4 0 8-5 5-8 2-3 5-1 16-2 7-18 48-12 22-12 13-36 30-8 8-8 5-39 13-21 10-8 9-12 34-4 4-4 1-191 14-325 0 0-79 333-1 40-4 75-16 32-6 36-1 12 6 3-2 18-36 9-24 6-36 4-13 4-3 16-7 12-17 13-51 23-57 9-38 7-44 7-55 13-48 17-83 5-32 0-30zM795 158l4 1 2 6-2 6-4 2-4-3-1-5 2-4zM771 217l4 0 4 3 2 4-2 8-4 4-4 1-4-4-1-5 2-8zM755 268l4 0 4 4 1 8-3 8-6 3-6-3-3-8 2-8 3-3zM731 323l4 2 1 2-1 4-4 2-3-2 0-4zM711 359l4 1 4 7-1 8-3 4-4 1-3-1-5-8 2-8z"/>
<path fill="#c5c5c5" d="M771-20l0 30-2 48-14 119-8 33-4 7-16 13-8 10-11 34-10 49-11 48-3 20 0 4 8 3 4 5 0 5-4 6-4 1-4-2-4 2-2 27-8 16-6 19-12 24-8 10-32 29-24 28-52 16-16 9-4 4-4 8-2 16-6 15-4 5-4 1-191 13-325 0 0-64 245-1 80-2 52-6 71-15 32-5 32-2 16 4 4-1 22-45 7-28 3-28 4-11 4-4 16-6 12-17 15-57 17-38 4-13 11-48 9-51 5-44 17-68 12-59 5-36 0-30zM795 160l4 2 1 3-1 4-4 2-3-6zM775 219l4 5 0 4-4 6-4 0-3-6 1-4 2-4zM755 270l4 2 3 4 0 4-3 7-4 2-4-1-3-8 3-8zM731 326l2 1-2 3zM711 361l5 2 2 8-3 6-4 1-3-2-3-5 3-7z"/>
<path fill="#c9c9c9" d="M768-20l-1 78-13 119-7 26-4 6-14 11-6 6-8 17-7 26-26 122 2 11 4-2 4 0 2 7-2 5-4 0-4-4-4 0-4 15 1 12-1 7-7 12-5 16-8 15-40 34-18 35-10 12-20 6-36 7-8 3-8 8-4 6-4 25-3 12-5 7-4 1-183 13-333-1 0-51 217 0 64-1 77-8 122-20 40-2 12 1 4-1 7-21 13-28 2-16 4-16 3-24 3-10 4-4 16-6 12-17 17-62 19-45 20-98 6-51 16-64 12-59 6-40 0-30zM795 164l2 1-2 2zM775 222l2 2 0 4-2 4-4-2-1-2 1-4zM751 275l4-2 5 3 0 8-5 3-5-3-1-4zM711 364l4 2 2 5-2 3-4 2-4-5 1-4z"/>
<path fill="#cdcdcd" d="M764-20l0 54 1 24-4 19-9 100-5 18-3 5-17 13-4 5-12 32-36 165-1 8 2 12-1 7-9 12-6 16-4 7-4 3-8 2-12 15-12 4-26 57-6 6-20 6-28 3-8-2-5-5-2-8 13-32 2-20 4-16 4-29 4-4 12-4 4-2 12-17 4-11 4-20 11-36 13-28 6-20 19-95 7-51 17-68 8-40 8-51 1-34zM755 275l4 5-4 5-2-1-2-4zM711 366l4 5-4 3-1-3zM687 407l1-2 4 0 0 2 0 1zM511 585l-4 12 0 20-2 12-4 8-5 3-121 9-54 2-104-1-237-1 0-37 265-1 40-4 88-12 55-6 36-3 32 2 8-8 6 1z"/>
<path fill="#d1d1d1" d="M757-20l1 50 6 24-6 27-3 52-4 41-4 12-4 6-16 12-4 7-8 21-7 29-15 66-20 84-1 12 2 12-1 7-5 7-8 5-2 12-2 6-8 4-12-2-2 12-2 5-4 3-8-1-4 5-3 12-11 20-8 24-6 8-4 2-16 3-24 1-8-2-5-4-1-8 11-28 1-20 4-16 2-22 4-6 12-4 4-2 14-21 4-12 3-16 13-40 10-24 8-28 18-87 8-55 16-64 7-36 9-59 1-34zM506 617l-4 16-2 4-4 1-143 11-43 0-65-6-36-1-229 0 0-20 197-1 60-1 40-4 92-16 52-4 39 0 40 6 4 5z"/>
<path fill="#d5d5d5" d="M749-20l1 54 9 9 4 11-4 13-8 10 1 52-2 40-3 10-4 5-12 8-4 5-12 31-31 132-12 41-11 18 7 4 4 6 1 6-1 7-4 4-4 1-5-5-2-3 0-12-1-2-12 12-19 33-1 4 6 8 0 4-2 3-8-3-4 6-6 18-10 15-8 29-4 6-4 2-16 2-28-1-5-5 0-4 8-20 1-12 0-16 6-20 2-11 4-7 12-7 16-26 14-52 15-40 9-28 19-99 2-24 26-111 10-67 1-34zM644 451l4 0 4 2 3 5 0 8-3 5-4 2-6-3-4-8 2-8zM504 617l-3 16-5 4-111 9-40 1-29-2-35-8-9-4 0-4 18-8 43-11 40-6 36-3 39 0 44 6 8 2z"/>
<path fill="#d9d9d9" d="M740-20l0 30 3 34 12-1 5 7 1 8-2 5-4 4-4 1-8-2-1 3-1 36 6 20-4 24 1 24-13 10-12 27-11 42-16 73-8 29-4 9-20 28-8 14-14 34-15 27-9 24-5 16-9 12-9 32-3 8-4 2-12 1-28-3-3-4 6-16 2-12-2-16 1-7 8-2 6-7 6-28 17-27 11-36 4-20 14-36 11-35 17-88 3-32 20-79 5-24 11-75 0-34zM668 428l4 7 0 4-4 5-4-2-2-7 2-5zM648 457l4 2 1 3-1 5-4 2-5-3 0-4 2-4zM304 629l3-4 8-4 26-8 32-6 36-3 35 1 44 5 12 4 2 7-2 10-4 4-115 9-28 0-28-3-13-4-7-4z"/>
<path fill="#dddddd" d="M733-20l0 30 4 44-2 51 8 16 1 8-3 8-7 8-3 28-19 55-24 107-8 18-16 8-4 6-14 44-33 75-5 18-8 7-4 7-8 36-4 3-4 1-16-3-6-1 0-4 4-12-5-12-1-8 4-8 8-6 3-38 13-20 9-19 5-20 4-24 24-68 11-39 9-60 0-24 14-52 6-19 6-36 10-71 1-34zM751 46l4 0 5 8-1 5-4 5-4 0-6-6 0-4 2-4zM668 433l1 2-1 5-3-1 1-4zM323 629l2-4 7-4 17-6 28-5 32-3 31 1 28 3 28 5 4 5-2 8-6 4-26 4-69 5-28 0-19-1-16-4-8-4z"/>
<path fill="#e1e1e1" d="M730-20l0 50 3 43 0 32 2 8 6 8 0 8-2 5-8 11-6 40-14 43-15 70-8 30-4 9-4 4-8 3-4-2-4 2-14 51-9 24-25 55-10 16-2 12-4 2-4 6-12 41-4 1-3-2-5-24-4-4-4 0-1-4 5-2 4-7 2-11 0-32 11-16 10-19 6-24 3-23 20-55 27-53 1-20 0-36-1-8-3-6-1-10 12-35 3-20 8-24 13-91 2-46zM751 49l4 0 3 5 0 4-3 3-4 0-2-3 0-4zM339 629l1-4 7-4 11-4 27-5 28-2 27 1 28 3 24 7 3 4-4 4-12 4-29 4-57 4-20-1-16-2-14-5z"/>
<path fill="#e5e5e5" d="M727-20l-1 66 4 59 2 8 6 8 1 8-1 4-9 8-7 51-12 32-14 69-8 27-4 7-8 2-8-11-24 89-28 61-4 6-9 8-5 8-5 12-2 16-3 7-4 4-4-2-4-9 2-20-1-32 13-16 7-15 7-28 1-20 15-38 16-30 16-22 5-13 7-12 3-8 2-44 0-55-6-20 5-12 6-8 5-28 0-20 4-19 4-36 1-42zM752 54l3-1 0 5-2 0zM652 191l4 1 1 4-5 6-2-6zM354 629l1-4 6-4 12-3 40-5 23 0 24 3 18 5 3 4-4 4-13 4-31 4-24 1-36-1-14-4z"/>
<path fill="#e9e9e9" d="M725-20l-2 105 3 20 3 8 7 8 2 8-11 12-5 48-13 31-13 68-8 23-4 3-4 1-8-10-4 0-3 3-4 23-9 40-8 32-4 10-29 53-19 19-4 2-4-6-2-11 1-4 12-16 7-15 7-28-1-19 7-13 4-16 5-8 9-8 5-16 4-8 16-11 1-16 2-8 3-4 8-5 3-7 7-111-2-9-8 4-4-3-2-4 2-7 4-3 8 3 3-9 2-28-3-20 6-23 4-40 0-38zM584 504l4 3 1 7-1 4-4 3-4-7zM369 629l0-4 7-4 20-4 17-1 32 1 17 4 5 4-5 4-15 4-34 3-28-1-9-2z"/>
<path fill="#ededed" d="M724-20l0 30-5 67 0 36 8 3 6 5 3 4 0 4-11 8-1 4-3 48-12 23-13 70-8 18-8 3-16-5-2-6 3-8 3-3 8-3 3-10-1-24 4-24 7-115-1-8-4-16 7-23 3-44 0-34zM656 320l2 3 1 8-7 36-8 28-8 19-8 9-3 0-1-8 3-32-5-12-1-8 3-6 4-3 8-1 4-2 2-8-1-12 3-8 4-3zM593 466l3-3 2 3-2 2zM386 625l10-4 25-2 21 2 8 4-6 4-31 4-26-4z"/>
<path fill="#f1f1f1" d="M722-20l0 30-4 32-5 75 1 24 5 25 1 23-5 10-9 13-5 36-9 36-16 12-8 1-3-5 3-8 10 0 3-4 2-16-2-24 6-20 6-115-1-8-6-16 2-6 5-10 1-7 3-78zM727 121l4 2 2 2-1 4-5 2-3-2 0-4zM648 324l4 0 4 3 0 7-4 8-4-1-4-6 1-8zM628 360l4 1 2 2 1 4-3 3-4-1-2-2-1-4zM648 360l0 9-4 5-2-7z"/>
<path fill="#f5f5f5" d="M720-20l1 30-5 20-12 102-4 11-2-46-6-9-3-7 2-8 7-8 1-3 0-82zM711 170l4 2 3 5 0 12-3 8-4 4-7 3-6-8-1-11 3-8 4-4zM696 225l4 4 1 15-5 15-4 4-4-3-4-8-1-12 5-11 4-3z"/>
<path fill="#f9f9f9" d="M702-20l17 0 0 30-4 11-4 6-3 0-6-9zM696 76l3 1 1 4-4 4-5-4 2-4zM711 176l4 2 2 11-2 5-4 4-3 1-4-3-2-7 2-8 4-4zM692 231l4 1 3 8-2 12-5 4-4-2-4-10 2-8z"/>
<path fill="#fdfdfd" d="M704-20l13 0 0 30-2 6-4 3-3-2-4-7zM711 179l4 3 1 7-5 7-3 0-3-4 0-7 3-4zM692 234l4 2 1 8-1 6-4 2-4-2-2-6 2-7z"/>
</g>
</g>
<path filter="url(#sb)" fill="#414141" d="M-12,-12L-12,98.7L10.6,98.7L10.6,98.8L21.3,98.8L21.3,98.9L31.9,98.9L31.9,99.1L42.5,99.1L42.5,99.2L53.1,99.2L53.1,99.4L63.8,99.4L63.8,99.6L74.4,99.6L74.4,99.8L85,99.8L85,100.1L95.7,100.1L95.7,100.4L106.3,100.4L106.3,100.8L116.9,100.8L116.9,101.2L127.5,101.2L127.5,101.7L138.2,101.7L138.2,102.4L148.8,102.4L148.8,103.3L159.4,103.3L159.4,104.8L170.1,104.8L170.1,106.7L180.7,106.7L180.7,108.9L191.3,108.9L191.3,111.4L202,111.4L202,114.2L212.6,114.2L212.6,117.8L223.2,117.8L223.2,121.9L233.8,121.9L233.8,126.8L244.5,126.8L244.5,131.1L253.3,131.1L253.3,-12Z"/>
</g>
<path d="M101.7,183.8V139.3" stroke="#f00" stroke-width="3" fill="none"/>
<path d="M101.7,123.6L89.9,140.9L113.5,140.9Z" fill="#f00"/>
<path d="M280.7,343L259.3,322.8" stroke="#f00" stroke-width="3" fill="none"/>
<path d="M242.2,306.3L248.8,324L273.6,324Z" fill="#f00"/>
<path d="M268.7,311.5L270.2,312.6L271.8,313.5L273.3,314.2L274.8,314.7L276.3,315.2L277.8,315.5L279.4,315.7L280.9,315.9L282.4,316L283.9,316L285.4,315.9L286.9,315.8L288.5,315.7L290,315.5L291.5,315.3L293,315L294.5,314.7L296.1,314.4L297.6,314L299.1,313.6L300.6,313.2L302.1,312.7L303.7,312.2L305.2,311.7L306.7,311.2L308.2,310.6L309.7,310L311.2,309.4L312.8,308.8L314.3,308.1L315.8,307.4L317.3,306.7L318.8,306L320.4,305.3L321.9,304.5L323.4,303.7L324.9,302.9L326.4,302L328,301.2L329.5,300.3L331,299.4L332.5,298.5L334,297.5L335.5,296.6L337.1,295.6L338.6,294.6L340.1,293.5L341.6,292.5L343.1,291.4L344.7,290.3L346.2,289.1L347.7,288L349.2,286.8L350.7,285.6L352.3,284.4L353.8,283.1L355.3,281.8L356.8,280.5L358.3,279.2L359.8,277.8L361.4,276.5L362.9,275L364.4,273.6L365.9,272.1L367.4,270.6L369,269.1L370.5,267.6L372,266L373.5,264.4L375,262.7L376.6,261.1L378.1,259.3L379.6,257.6L381.1,255.8L382.6,254L384.1,252.2L385.7,250.3L387.2,248.4L388.7,246.5L390.2,244.5L391.7,242.5L393.3,240.5L394.8,238.4L396.3,236.2L397.8,234.1L399.3,231.9L400.9,229.6L402.4,227.4L403.9,225L405.4,222.7L406.9,220.3L408.4,217.8L410,215.3L411.5,212.8L413,210.2L414.5,207.6L416,204.9L417.6,202.2L419.1,199.4L420.6,196.6L422.1,193.7L423.6,190.8L425.2,187.8L426.7,184.8L428.2,181.7L429.7,178.6L431.2,175.4L432.7,172.2L434.3,168.9L435.8,165.5L437.3,162.1L438.8,158.6L440.3,155.1L441.9,151.5L443.4,147.8L444.9,144.1L446.4,140.3L447.9,136.4L449.5,132.5L451,128.5L452.5,124.4L454,120.3L455.5,116.1L457,111.8L458.6,107.4L460.1,103L461.6,98.5L463.1,93.9L464.6,89.2L466.2,84.5L467.7,79.6L469.2,74.7L470.7,69.7L472.2,64.6L473.8,59.4L475.3,54.1L476.8,48.8L478.3,43.3L479.8,37.8L481.3,32.1L482.9,26.4L484.4,20.5L485.9,14.6L487.4,8.5L488.9,2.4L490.5,-3.9L492,-10.3L493.5,-16.8" stroke="#bf00bf" stroke-width="4.3" stroke-linejoin="round" stroke-linecap="round" fill="none"/>
<path d="M268.7,256.4L270.2,258.6L271.8,260.4L273.3,261.8L274.8,262.9L276.3,263.8L277.8,264.4L279.4,264.9L280.9,265.2L282.4,265.4L283.9,265.4L285.4,265.3L286.9,265.1L288.5,264.8L290,264.4L291.5,264L293,263.4L294.5,262.8L296.1,262.2L297.6,261.4L299.1,260.6L300.6,259.7L302.1,258.8L303.7,257.9L305.2,256.8L306.7,255.8L308.2,254.6L309.7,253.5L311.2,252.2L312.8,251L314.3,249.7L315.8,248.3L317.3,246.9L318.8,245.4L320.4,244L321.9,242.4L323.4,240.8L324.9,239.2L326.4,237.5L328,235.8L329.5,234.1L331,232.3L332.5,230.4L334,228.5L335.5,226.6L337.1,224.6L338.6,222.6L340.1,220.5L341.6,218.4L343.1,216.2L344.7,214L346.2,211.7L347.7,209.4L349.2,207L350.7,204.6L352.3,202.2L353.8,199.7L355.3,197.1L356.8,194.5L358.3,191.8L359.8,189.1L361.4,186.4L362.9,183.5L364.4,180.7L365.9,177.7L367.4,174.7L369,171.7L370.5,168.6L372,165.4L373.5,162.2L375,158.9L376.6,155.5L378.1,152.1L379.6,148.7L381.1,145.1L382.6,141.5L384.1,137.8L385.7,134.1L387.2,130.3L388.7,126.4L390.2,122.5L391.7,118.4L393.3,114.3L394.8,110.2L396.3,105.9L397.8,101.6L399.3,97.2L400.9,92.7L402.4,88.2L403.9,83.5L405.4,78.8L406.9,74L408.4,69.1L410,64.1L411.5,59L413,53.9L414.5,48.6L416,43.3L417.6,37.8L419.1,32.3L420.6,26.6L422.1,20.9L423.6,15L425.2,9.1L426.7,3L428.2,-3.1L429.7,-9.4L431.2,-15.8" stroke="#bf00bf" stroke-width="3.4" stroke-linejoin="round" stroke-linecap="round" fill="none"/>
<path d="M271.7,207.2L273.2,209.4L274.7,211L276.2,212.3L277.7,213.3L279.2,214L280.7,214.5L282.2,214.7L283.7,214.8L285.2,214.7L286.7,214.4L288.2,214L289.7,213.5L291.2,212.8L292.7,212L294.2,211.2L295.7,210.2L297.2,209.1L298.7,207.9L300.2,206.7L301.7,205.4L303.2,203.9L304.7,202.4L306.2,200.9L307.7,199.2L309.2,197.5L310.7,195.7L312.2,193.9L313.7,192L315.2,190L316.7,187.9L318.2,185.8L319.7,183.6L321.2,181.4L322.7,179L324.2,176.7L325.7,174.2L327.2,171.7L328.7,169.1L330.2,166.5L331.7,163.8L333.2,161L334.7,158.2L336.2,155.3L337.7,152.3L339.2,149.3L340.7,146.2L342.2,143L343.7,139.8L345.2,136.5L346.7,133.1L348.2,129.6L349.7,126.1L351.2,122.5L352.7,118.9L354.2,115.1L355.7,111.3L357.2,107.4L358.7,103.5L360.2,99.4L361.7,95.3L363.2,91.1L364.7,86.8L366.2,82.5L367.7,78L369.2,73.5L370.7,68.9L372.2,64.2L373.7,59.4L375.2,54.5L376.7,49.5L378.2,44.5L379.7,39.3L381.2,34L382.7,28.7L384.2,23.3L385.7,17.7L387.2,12.1L388.7,6.3L390.2,0.5L391.7,-5.5L393.2,-11.6" stroke="#bf00bf" stroke-width="3.4" stroke-linejoin="round" stroke-linecap="round" fill="none"/>
<path d="M271.7,154.1L273.2,156.9L274.7,159.2L276.2,160.9L277.7,162.2L279.2,163.2L280.7,163.8L282.2,164.1L283.7,164.2L285.2,164.1L286.7,163.7L288.2,163.2L289.7,162.4L291.2,161.6L292.7,160.5L294.2,159.4L295.7,158.1L297.2,156.6L298.7,155.1L300.2,153.4L301.7,151.6L303.2,149.7L304.7,147.7L306.2,145.7L307.7,143.5L309.2,141.2L310.7,138.8L312.2,136.3L313.7,133.8L315.2,131.1L316.7,128.4L318.2,125.5L319.7,122.6L321.2,119.6L322.7,116.5L324.2,113.4L325.7,110.1L327.2,106.8L328.7,103.3L330.2,99.8L331.7,96.2L333.2,92.5L334.7,88.7L336.2,84.9L337.7,80.9L339.2,76.9L340.7,72.7L342.2,68.5L343.7,64.2L345.2,59.8L346.7,55.3L348.2,50.7L349.7,46L351.2,41.2L352.7,36.3L354.2,31.3L355.7,26.2L357.2,21.1L358.7,15.8L360.2,10.4L361.7,4.9L363.2,-0.7L364.7,-6.4L366.2,-12.2" stroke="#bf00bf" stroke-width="3.4" stroke-linejoin="round" stroke-linecap="round" fill="none"/>
<path d="M271.7,101L273.2,104.5L274.7,107.3L276.2,109.5L277.7,111.1L279.2,112.3L280.7,113.1L282.2,113.5L283.7,113.6L285.2,113.4L286.7,113L288.2,112.3L289.7,111.4L291.2,110.3L292.7,109L294.2,107.6L295.7,105.9L297.2,104.1L298.7,102.2L300.2,100.1L301.7,97.9L303.2,95.5L304.7,93L306.2,90.4L307.7,87.7L309.2,84.8L310.7,81.9L312.2,78.8L313.7,75.6L315.2,72.2L316.7,68.8L318.2,65.3L319.7,61.6L321.2,57.9L322.7,54L324.2,50.1L325.7,46L327.2,41.8L328.7,37.5L330.2,33.1L331.7,28.6L333.2,24L334.7,19.3L336.2,14.4L337.7,9.5L339.2,4.4L340.7,-0.7L342.2,-6L343.7,-11.4L345.2,-16.9" stroke="#bf00bf" stroke-width="3.4" stroke-linejoin="round" stroke-linecap="round" fill="none"/>
<path d="M271.7,47.9L273.2,52.1L274.7,55.5L276.2,58.1L277.7,60L279.2,61.5L280.7,62.4L282.2,62.9L283.7,63L285.2,62.8L286.7,62.3L288.2,61.5L289.7,60.4L291.2,59.1L292.7,57.5L294.2,55.8L295.7,53.8L297.2,51.7L298.7,49.3L300.2,46.8L301.7,44.1L303.2,41.3L304.7,38.3L306.2,35.2L307.7,31.9L309.2,28.5L310.7,24.9L312.2,21.2L313.7,17.4L315.2,13.4L316.7,9.3L318.2,5L319.7,0.7L321.2,-3.8L322.7,-8.5L324.2,-13.2" stroke="#bf00bf" stroke-width="3.4" stroke-linejoin="round" stroke-linecap="round" fill="none"/>
<path d="M271.7,-5.2L273.2,-0.3L274.7,3.6L276.2,6.7L277.7,9L279.2,10.6L280.7,11.7L282.2,12.3L283.7,12.4L285.2,12.2L286.7,11.6L288.2,10.6L289.7,9.4L291.2,7.8L292.7,6L294.2,4L295.7,1.7L297.2,-0.8L298.7,-3.6L300.2,-6.5L301.7,-9.6L303.2,-12.9L304.7,-16.4" stroke="#bf00bf" stroke-width="3.4" stroke-linejoin="round" stroke-linecap="round" fill="none"/>
<path d="M253.1,82.2h0M254.2,220.6h0M255.2,254.2h0M256.2,270.8h0M257.3,281.1h0M258.3,288.1h0M259.4,293.3h0M260.4,297.3h0M261.4,300.4h0M262.5,303h0M263.5,305.1h0M264.6,306.8h0M265.6,308.3h0M266.7,309.5h0M267.7,310.6h0M268.7,311.5h0M269.8,312.3h0M270.8,313h0M271.9,313.5h0M272.9,314h0M273.9,314.4h0M275,314.8h0M276,315.1h0M277.1,315.3h0M278.1,315.5h0M279.1,315.7h0M280.2,315.8h0M281.2,315.9h0M282.3,316h0M283.3,316h0M254.2,74.7h0M255.2,141.7h0M256.2,175h0M257.3,195.6h0M258.3,209.7h0M259.4,220.1h0M260.4,228h0M261.4,234.3h0M262.5,239.4h0M263.5,243.6h0M264.6,247h0M265.6,250h0M266.7,252.5h0M267.7,254.6h0M268.7,256.4h0M269.8,258h0M270.8,259.3h0M271.9,260.5h0M272.9,261.5h0M273.9,262.3h0M275,263h0M276,263.6h0M277.1,264.1h0M278.1,264.5h0M279.1,264.8h0M280.2,265.1h0M281.2,265.2h0M282.3,265.3h0M283.3,265.4h0M255.2,29.3h0M256.2,79.3h0M257.3,110.1h0M258.3,131.3h0M259.4,146.8h0M260.4,158.7h0M261.4,168.1h0M262.5,175.8h0M263.5,182h0M264.6,187.3h0M265.6,191.7h0M266.7,195.4h0M267.7,198.6h0M268.7,201.4h0M269.8,203.7h0M270.8,205.7h0M271.9,207.5h0M272.9,209h0M273.9,210.2h0M275,211.3h0M276,212.2h0M277.1,212.9h0M278.1,213.5h0M279.1,214h0M280.2,214.3h0M281.2,214.6h0M282.3,214.7h0M283.3,214.8h0M256.2,-16.5h0M257.3,24.6h0M258.3,52.8h0M259.4,73.5h0M260.4,89.4h0M261.4,102h0M262.5,112.2h0M263.5,120.5h0M264.6,127.5h0M265.6,133.4h0M266.7,138.4h0M267.7,142.7h0M268.7,146.3h0M269.8,149.4h0M270.8,152.1h0M271.9,154.4h0M272.9,156.4h0M273.9,158.1h0M275,159.5h0M276,160.7h0M277.1,161.7h0M278.1,162.5h0M279.1,163.1h0M280.2,163.6h0M281.2,163.9h0M282.3,164.1h0M283.3,164.2h0M259.4,0.3h0M260.4,20.1h0M261.4,35.9h0M262.5,48.6h0M263.5,59h0M264.6,67.8h0M265.6,75.1h0M266.7,81.4h0M267.7,86.7h0M268.7,91.2h0M269.8,95.2h0M270.8,98.5h0M271.9,101.4h0M272.9,103.9h0M273.9,106h0M275,107.8h0M276,109.3h0M277.1,110.5h0M278.1,111.5h0M279.1,112.3h0M280.2,112.9h0M281.2,113.3h0M282.3,113.5h0M283.3,113.6h0M262.5,-15h0M263.5,-2.5h0M264.6,8h0M265.6,16.8h0M266.7,24.3h0M267.7,30.7h0M268.7,36.2h0M269.8,40.9h0M270.8,44.9h0M271.9,48.4h0M272.9,51.3h0M273.9,53.9h0M275,56h0M276,57.8h0M277.1,59.3h0M278.1,60.5h0M279.1,61.4h0M280.2,62.1h0M281.2,62.6h0M282.3,62.9h0M283.3,63h0M269.8,-13.4h0M270.8,-8.7h0M271.9,-4.7h0M272.9,-1.2h0M273.9,1.7h0M275,4.2h0M276,6.3h0M277.1,8h0M278.1,9.4h0M279.1,10.5h0M280.2,11.4h0M281.2,12h0M282.3,12.3h0M283.3,12.4h0" stroke="#bf00bf" stroke-width="3.4" stroke-linecap="round" fill="none"/>
<path d="M252.8,0V365.1" stroke="#bf00bf" stroke-width="3.2" fill="none"/>
<path d="M326.5,365.8L331.2,365.7L335.9,365.7L340.7,365.7L345.4,365.6L350.1,365.6L354.8,365.5L359.5,365.4L364.2,365.4L368.9,365.3L373.6,365.2L378.3,365.2L383,365.1L387.8,365L392.5,364.9L397.2,364.8L401.9,364.7L406.6,364.7L411.3,364.5L416,364.4L420.7,364.3L425.4,364.2L430.1,364.1L434.8,363.9L439.6,363.8L444.3,363.6L449,363.5L453.7,363.3L458.4,363.1L463.1,362.9L467.8,362.7L472.5,362.5L477.2,362.3L481.9,362.1L486.7,361.8L491.4,361.6L496.1,361.3L500.8,361L505.5,360.7L510.2,360.4" stroke="#bf00bf" stroke-width="3.3" fill="none"/>
<path d="M0,106.9L4.1,106.9L8.3,106.9L12.4,107L16.6,107L20.7,107L24.9,107.1L29,107.1L33.2,107.1L37.3,107.2L41.5,107.2L45.6,107.2L49.8,107.3L53.9,107.3L58.1,107.4L62.2,107.5L66.4,107.5L70.5,107.6L74.7,107.7L78.8,107.8L83,107.9L87.1,108L91.3,108.1L95.4,108.3L99.6,108.4L103.7,108.6L107.9,108.8L112,109L116.1,109.2L120.3,109.4L124.4,109.7L128.6,110L132.7,110.4L136.8,110.8L141,111.2L145.1,111.6L149.2,112.2L153.3,112.7L157.4,113.4L161.5,114.1L165.6,114.9L169.6,115.8L173.7,116.8L177.7,117.9L181.6,119.1L185.6,120.5L189.4,122L193.3,123.6L197,125.3L200.7,127.3L204.3,129.4L207.8,131.6L211.2,134L214.4,136.7L217.5,139.5L220.4,142.5L223,145.6L225.5,148.9L227.9,152.3L230.3,155.8L232.5,159.3L234.7,162.8L236.8,166.4L238.7,170.1L240.5,173.8L242.1,177.6L243.6,181.5L245,185.4L246.3,189.4L247.4,193.4L248.5,197.4L249.4,201.4L250.3,205.5L251,209.6L251.6,213.7L252.2,217.8L252.6,221.9L253.1,226L253.5,230.2L253.9,234.3" stroke="#ff0000" stroke-width="3.4" fill="none" stroke-linejoin="round"/>
<path d="M85.2,365.1L89.3,365L93.4,364.8L97.5,364.6L101.6,364.4L105.7,364.2L109.8,363.9L113.9,363.7L118,363.4L122.1,363L126.2,362.7L130.2,362.3L134.3,361.8L138.4,361.4L142.5,360.8L146.6,360.2L150.7,359.6L154.8,358.8L158.9,358L163,357.1L167.1,356.2L171.2,355.1L175.3,353.9L179.4,352.6L183.5,351.1L187.6,349.5L191.7,347.7L195.8,345.7L199.9,343.5L203.9,341L208,338.2L212.1,334.9L216.2,331.2L220.3,327.1L224.4,322.5L228.5,317.5L232.6,312L236.7,305.7L240.8,298.3L244.9,289L245.9,286.3L246.2,285.4L246.5,284.4L246.9,283.5L247.2,282.5L247.5,281.4L247.8,280.3L248.1,279L248.4,277.7L248.7,276.3L249.1,274.9L249.4,273.4L249.7,271.9L250,270.3L250.3,268.7L250.6,267L250.9,265.2L251.3,263.3L251.6,261.3L251.9,259.1L252.2,256.8L252.5,254.2L252.8,250.9L253.1,247L253.5,243L253.8,239.5L254.1,236.7L254.4,234L254.7,231.6L255,229.7L255.3,228.2L255.6,226.8L256,225.4L256.3,224.1L256.6,222.9L256.9,221.7L257.2,220.7L257.5,219.6L257.8,218.6L258.2,217.5L259.2,214L263,200.4L266.8,185.5L270.6,169.3L274.4,151.6L278.2,132.3L282,111.3L285.8,88.4L289.6,63.5L293.4,36.4L297.2,6.8L301,-25.5" stroke="#ff0000" stroke-width="3.4" fill="none" stroke-linejoin="round"/>
<path d="M0,44H510.2" stroke="#000" stroke-width="3" stroke-dasharray="10.3 4.45" stroke-dashoffset="-1.3" fill="none"/>
</g>
<text transform="translate(10.8,98.6) scale(1.000,1.100)" font-family="'Liberation Serif','DejaVu Serif',serif" font-size="40" fill="#f00" textLength="27.5" lengthAdjust="spacingAndGlyphs" >Λ</text>
<text transform="translate(35.5,105) scale(1.150,1.100)" font-family="'Liberation Serif','DejaVu Serif',serif" font-size="27" fill="#f00" >1</text>
<text transform="translate(64.5,98.6) scale(1.000,1.100)" font-family="'Liberation Serif','DejaVu Serif',serif" font-size="40" fill="#f00" textLength="33" lengthAdjust="spacingAndGlyphs" >=</text>
<text transform="translate(105.7,98.6) scale(1.000,1.100)" font-family="'Liberation Serif','DejaVu Serif',serif" font-size="40" fill="#f00" textLength="43" lengthAdjust="spacingAndGlyphs" >10</text>
<text transform="translate(148.7,83.3) scale(1.000,1.100)" font-family="'Liberation Serif','DejaVu Serif',serif" font-size="27" fill="#f00" textLength="37" lengthAdjust="spacingAndGlyphs" >−7</text>
<text transform="translate(46.3,344.9) scale(1.000,1.100)" font-family="'Liberation Serif','DejaVu Serif',serif" font-size="40" fill="#f00" textLength="27.5" lengthAdjust="spacingAndGlyphs" >Λ</text>
<text transform="translate(71,351.3) scale(1.150,1.100)" font-family="'Liberation Serif','DejaVu Serif',serif" font-size="27" fill="#f00" >2</text>
<text transform="translate(100,344.9) scale(1.000,1.100)" font-family="'Liberation Serif','DejaVu Serif',serif" font-size="40" fill="#f00" textLength="33" lengthAdjust="spacingAndGlyphs" >=</text>
<text transform="translate(141.2,344.9) scale(1.000,1.100)" font-family="'Liberation Serif','DejaVu Serif',serif" font-size="40" fill="#f00" textLength="43" lengthAdjust="spacingAndGlyphs" >10</text>
<text transform="translate(184.2,329.6) scale(1.000,1.100)" font-family="'Liberation Serif','DejaVu Serif',serif" font-size="27" fill="#f00" textLength="37" lengthAdjust="spacingAndGlyphs" >−7</text>
<g transform="translate(381.8,296.7) rotate(-51)">
<text transform="translate(0,0) scale(1.000,1.100)" font-family="'Liberation Serif','DejaVu Serif',serif" font-size="42" fill="#bf00bf" font-style="italic" textLength="24" lengthAdjust="spacingAndGlyphs" >ϕ</text>
<text transform="translate(36.5,0) scale(1.000,1.100)" font-family="'Liberation Serif','DejaVu Serif',serif" font-size="40" fill="#bf00bf" textLength="30" lengthAdjust="spacingAndGlyphs" >=</text>
<text transform="translate(80,0) scale(1.000,1.100)" font-family="'Liberation Serif','DejaVu Serif',serif" font-size="42" fill="#bf00bf" font-style="italic" textLength="21" lengthAdjust="spacingAndGlyphs" >k</text>
<text transform="translate(104,0) scale(1.000,1.100)" font-family="'Liberation Serif','DejaVu Serif',serif" font-size="42" fill="#bf00bf" font-style="italic" textLength="25" lengthAdjust="spacingAndGlyphs" >π</text>
</g>
<rect x="0" y="0" width="510.2" height="365.1" fill="none" stroke="#000" stroke-width="1.7"/>
<path d="M0,365.1v7M30.7,365.1v4M48.7,365.1v4M61.4,365.1v4M71.3,365.1v4M79.4,365.1v4M86.2,365.1v4M92.2,365.1v4M97.4,365.1v4M102,365.1v7M132.8,365.1v4M150.7,365.1v4M163.5,365.1v4M173.4,365.1v4M181.4,365.1v4M188.3,365.1v4M194.2,365.1v4M199.4,365.1v4M204.1,365.1v7M234.8,365.1v4M252.8,365.1v4M265.5,365.1v4M275.4,365.1v4M283.5,365.1v4M290.3,365.1v4M296.2,365.1v4M301.5,365.1v4M306.1,365.1v7M336.8,365.1v4M354.8,365.1v4M367.6,365.1v4M377.4,365.1v4M385.5,365.1v4M392.4,365.1v4M398.3,365.1v4M403.5,365.1v4M408.2,365.1v7M438.9,365.1v4M456.8,365.1v4M469.6,365.1v4M479.5,365.1v4M487.6,365.1v4M494.4,365.1v4M500.3,365.1v4M505.5,365.1v4M510.2,365.1v7M0,352.5h-4M0,337.8h-4M0,323.2h-4M0,308.5h-4M0,293.9h-7M0,279.2h-4M0,264.5h-4M0,249.9h-4M0,235.2h-4M0,220.5h-7M0,205.9h-4M0,191.2h-4M0,176.6h-4M0,161.9h-4M0,147.2h-7M0,132.6h-4M0,117.9h-4M0,103.2h-4M0,88.6h-4M0,73.9h-7M0,59.3h-4M0,44.6h-4M0,29.9h-4M0,15.3h-4M0,0.6h-7" stroke="#000" stroke-width="1.4" fill="none"/>
<text transform="translate(-1.5,-11) scale(1.000,1.060)" font-family="'Liberation Sans','DejaVu Sans',sans-serif" font-size="43" >(d)</text>
<text transform="translate(255.1,-11) scale(1.000,1.100)" font-family="'Liberation Sans','DejaVu Sans',sans-serif" font-size="39.6" text-anchor="middle" >Cubic Memory</text>
<rect x="541.9" y="0" width="18.6" height="365.1" fill="url(#vir)" stroke="#000" stroke-width="1.7"/>
<text transform="translate(574,381) scale(1.030,1.150)" font-family="'Liberation Serif','DejaVu Serif',serif" font-size="38.5" >0</text>
<text transform="translate(574,282.5) scale(1.030,1.150)" font-family="'Liberation Serif','DejaVu Serif',serif" font-size="38.5" >1</text>
<text transform="translate(574,183.9) scale(1.030,1.150)" font-family="'Liberation Serif','DejaVu Serif',serif" font-size="38.5" >2</text>
<text transform="translate(574,85.4) scale(1.030,1.150)" font-family="'Liberation Serif','DejaVu Serif',serif" font-size="38.5" >3</text>
<path d="M560.5,365.1h6.3M560.5,266.6h6.3M560.5,168h6.3M560.5,69.5h6.3" stroke="#000" stroke-width="1.4" fill="none"/>
<text transform="translate(516.4,-10.5) scale(1.000,1.050)" font-family="'Liberation Serif','DejaVu Serif',serif" font-size="45" font-style="italic" textLength="72" lengthAdjust="spacingAndGlyphs" >MC</text>
<text transform="translate(592.9,-27.3) scale(1.100,1.100)" font-family="'Liberation Serif','DejaVu Serif',serif" font-size="26" >3</text>
<text transform="translate(-38.3,410.1) scale(1.000,1.150)" font-family="'Liberation Serif','DejaVu Serif',serif" font-size="38.5" textLength="38.5" lengthAdjust="spacingAndGlyphs" >10</text>
<text transform="translate(0.9,393.9) scale(1.000,1.120)" font-family="'Liberation Serif','DejaVu Serif',serif" font-size="26" textLength="23" lengthAdjust="spacingAndGlyphs" >−</text>
<text transform="translate(22.8,393.9) scale(1.000,1.120)" font-family="'Liberation Serif','DejaVu Serif',serif" font-size="26" textLength="16.5" lengthAdjust="spacingAndGlyphs" >2</text>
<text transform="translate(63.7,410.1) scale(1.000,1.150)" font-family="'Liberation Serif','DejaVu Serif',serif" font-size="38.5" textLength="38.5" lengthAdjust="spacingAndGlyphs" >10</text>
<text transform="translate(102.9,393.9) scale(1.000,1.120)" font-family="'Liberation Serif','DejaVu Serif',serif" font-size="26" textLength="23" lengthAdjust="spacingAndGlyphs" >−</text>
<text transform="translate(124.8,393.9) scale(1.000,1.120)" font-family="'Liberation Serif','DejaVu Serif',serif" font-size="26" textLength="16.5" lengthAdjust="spacingAndGlyphs" >1</text>
<text transform="translate(177.7,410.1) scale(1.000,1.150)" font-family="'Liberation Serif','DejaVu Serif',serif" font-size="38.5" textLength="38.5" lengthAdjust="spacingAndGlyphs" >10</text>
<text transform="translate(215.9,393.9) scale(1.000,1.120)" font-family="'Liberation Serif','DejaVu Serif',serif" font-size="26" textLength="15.8" lengthAdjust="spacingAndGlyphs" >0</text>
<text transform="translate(279.7,410.1) scale(1.000,1.150)" font-family="'Liberation Serif','DejaVu Serif',serif" font-size="38.5" textLength="38.5" lengthAdjust="spacingAndGlyphs" >10</text>
<text transform="translate(317.9,393.9) scale(1.000,1.120)" font-family="'Liberation Serif','DejaVu Serif',serif" font-size="26" textLength="15.8" lengthAdjust="spacingAndGlyphs" >1</text>
<text transform="translate(381.8,410.1) scale(1.000,1.150)" font-family="'Liberation Serif','DejaVu Serif',serif" font-size="38.5" textLength="38.5" lengthAdjust="spacingAndGlyphs" >10</text>
<text transform="translate(420,393.9) scale(1.000,1.120)" font-family="'Liberation Serif','DejaVu Serif',serif" font-size="26" textLength="15.8" lengthAdjust="spacingAndGlyphs" >2</text>
<text transform="translate(483.8,410.1) scale(1.000,1.150)" font-family="'Liberation Serif','DejaVu Serif',serif" font-size="38.5" textLength="38.5" lengthAdjust="spacingAndGlyphs" >10</text>
<text transform="translate(522,393.9) scale(1.000,1.120)" font-family="'Liberation Serif','DejaVu Serif',serif" font-size="26" textLength="15.8" lengthAdjust="spacingAndGlyphs" >3</text>
<text transform="translate(78.4,453.6)" font-family="'Liberation Sans','DejaVu Sans',sans-serif" font-size="38.5" >Time scale ratio</text>
<text transform="translate(359.5,454.3)" font-family="'Liberation Serif','DejaVu Serif',serif" font-size="45" font-style="italic" textLength="28" lengthAdjust="spacingAndGlyphs" >T</text>
<text transform="translate(388.5,460.9)" font-family="'Liberation Serif','DejaVu Serif',serif" font-size="31" font-style="italic" textLength="43" lengthAdjust="spacingAndGlyphs" >LK</text>
</g>
</svg></body></html>
